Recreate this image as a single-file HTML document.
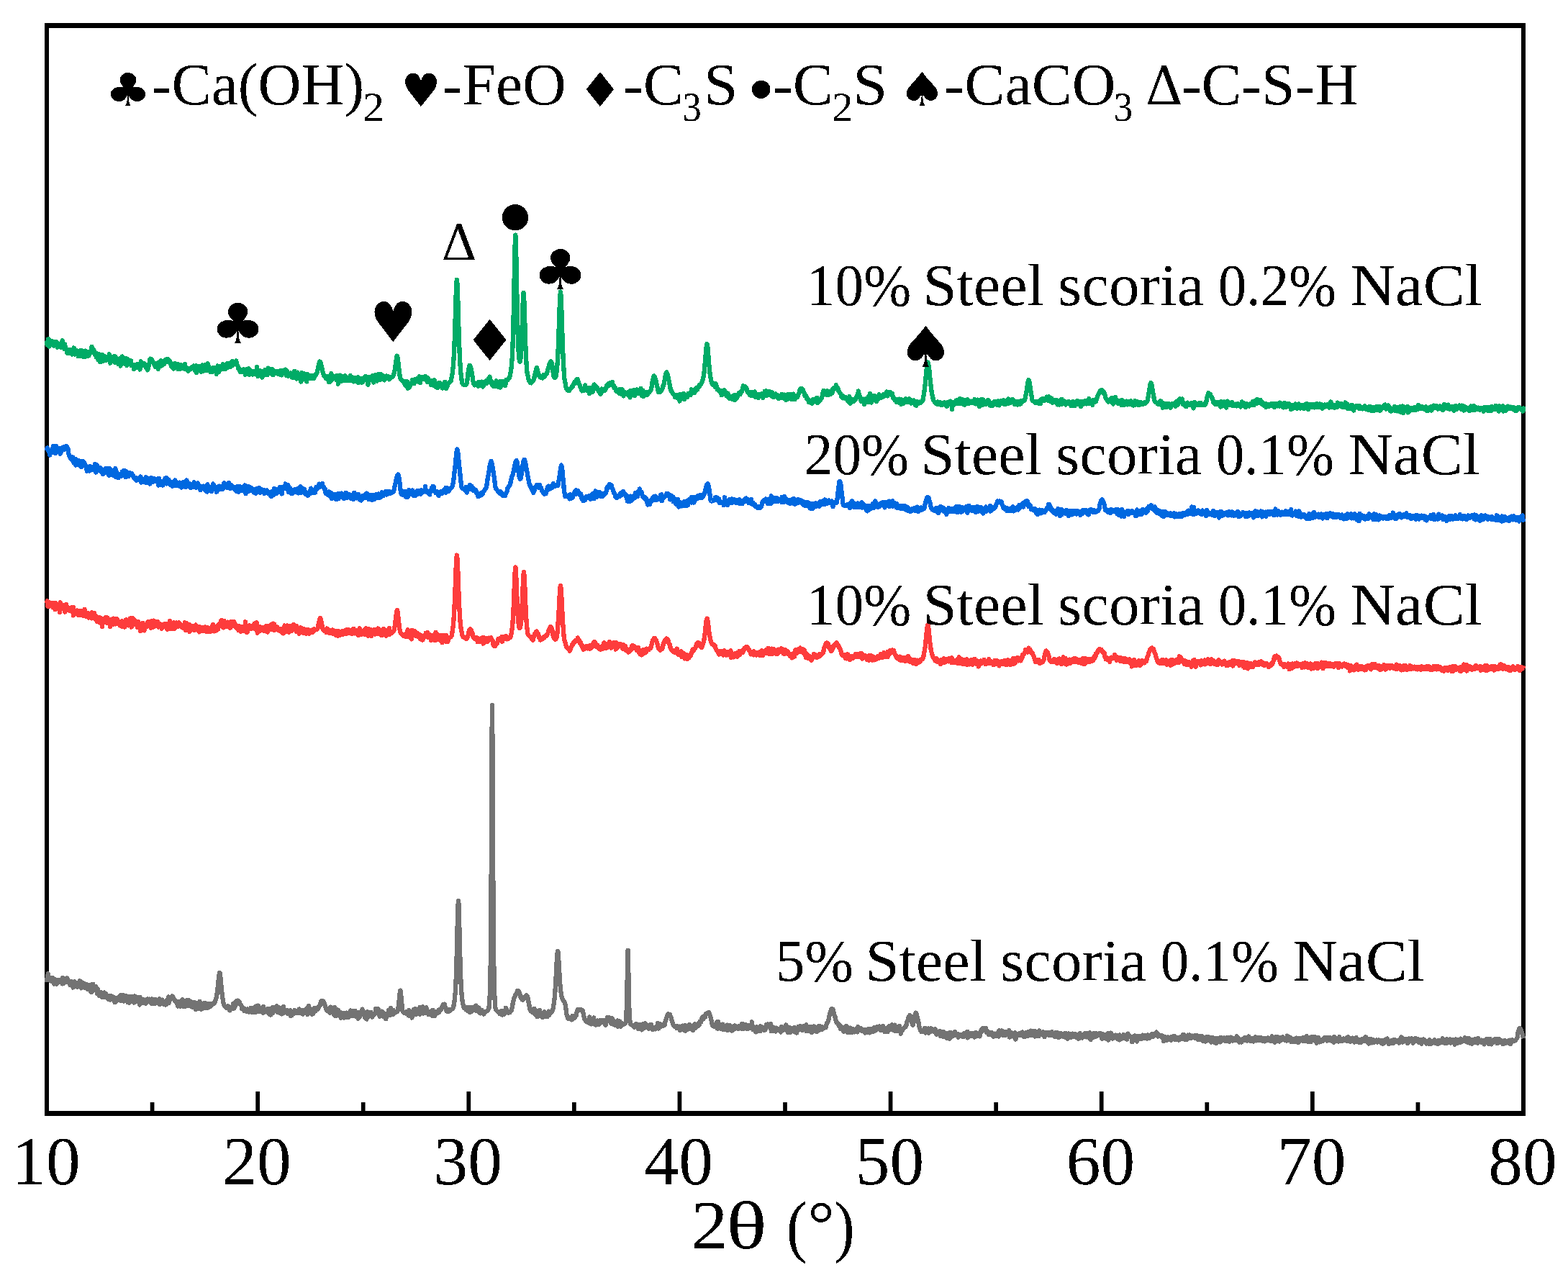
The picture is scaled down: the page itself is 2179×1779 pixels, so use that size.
<!DOCTYPE html>
<html lang="en">
<head>
<meta charset="utf-8">
<title>XRD patterns</title>
<style>html,body{margin:0;padding:0;background:#fff;}body{width:2179px;height:1779px;overflow:hidden;}svg{display:block}</style>
</head>
<body>
<svg width="2179" height="1779" viewBox="0 0 2179 1779">
<rect x="0" y="0" width="2179" height="1779" fill="#ffffff"/>
<path d="M62 32H2120V1551H62Z M68 39V1544H2114V39Z" fill="#000" fill-rule="evenodd" shape-rendering="crispEdges"/>
<path d="M358.14 1545V1517 M651.29 1545V1517 M944.43 1545V1517 M1237.57 1545V1517 M1530.71 1545V1517 M1823.86 1545V1517 M211.57 1545V1532 M504.71 1545V1532 M797.86 1545V1532 M1091.00 1545V1532 M1384.14 1545V1532 M1677.29 1545V1532 M1970.43 1545V1532" stroke="#000" stroke-width="5.7" fill="none"/>
<g id="curves">
<path d="M65.0,1364.9 65.6,1359.4 66.2,1359.0 66.8,1353.2 67.4,1360.6 68.0,1360.0 68.6,1359.6 69.2,1362.2 69.8,1362.7 70.4,1358.8 71.0,1359.6 71.6,1360.9 72.2,1364.3 72.8,1364.2 73.4,1359.1 74.0,1359.8 74.6,1365.1 75.2,1367.5 75.8,1363.1 76.4,1361.4 77.0,1366.3 77.6,1362.5 78.2,1365.4 78.8,1367.7 79.4,1365.2 80.0,1363.7 80.6,1365.5 81.2,1361.7 81.8,1363.0 82.4,1361.9 83.0,1363.0 83.6,1362.2 83.6,1363.1 84.2,1362.5 84.8,1363.8 85.4,1363.8 86.0,1364.4 86.6,1367.4 87.2,1359.1 87.8,1367.0 88.4,1362.6 89.0,1359.8 89.6,1362.7 90.2,1363.3 90.8,1365.3 91.4,1360.9 92.0,1363.3 92.6,1363.0 93.2,1359.5 93.8,1360.4 94.0,1363.7 94.4,1364.1 95.0,1365.5 95.6,1365.3 96.2,1366.0 96.8,1366.3 97.4,1369.0 97.9,1365.3 98.0,1366.6 98.6,1367.7 99.2,1364.0 99.8,1369.6 100.4,1365.6 101.0,1367.0 101.6,1372.6 102.2,1364.8 102.8,1365.8 103.4,1371.7 104.0,1364.4 104.6,1366.3 105.2,1369.1 105.8,1369.0 106.4,1369.5 107.0,1369.0 107.6,1371.8 108.2,1371.1 108.8,1370.0 109.4,1366.6 110.0,1366.6 110.6,1363.3 111.2,1370.5 111.8,1363.7 112.4,1371.0 113.0,1373.4 113.6,1365.8 114.2,1366.8 114.7,1367.3 114.8,1370.5 115.4,1366.3 116.0,1368.3 116.6,1367.5 117.2,1368.5 117.8,1372.7 118.4,1367.4 119.0,1370.4 119.6,1371.4 120.2,1373.3 120.8,1368.4 121.4,1374.8 122.0,1373.5 122.6,1374.9 123.2,1373.2 123.8,1369.0 124.4,1371.7 125.0,1375.4 125.0,1373.4 125.6,1373.2 126.2,1377.9 126.8,1379.0 127.4,1373.1 128.0,1378.3 128.6,1367.8 129.2,1367.8 129.8,1375.5 130.4,1372.6 131.0,1374.9 131.5,1374.9 131.6,1373.5 132.2,1375.7 132.8,1374.7 133.4,1371.0 134.0,1375.8 134.6,1376.3 135.2,1381.1 135.8,1374.4 136.4,1377.9 137.0,1377.5 137.6,1378.9 138.2,1383.9 138.8,1381.3 139.4,1379.7 140.0,1381.7 140.5,1383.6 140.6,1379.2 141.2,1381.3 141.8,1386.1 142.4,1384.7 143.0,1382.7 143.6,1381.8 144.2,1382.9 144.8,1379.5 145.4,1386.3 146.0,1385.0 146.6,1384.7 147.2,1381.2 147.8,1383.1 148.4,1386.6 149.0,1386.2 149.6,1384.5 150.2,1387.5 150.8,1388.9 151.4,1384.9 152.0,1385.5 152.2,1384.7 152.6,1384.1 153.2,1389.5 153.8,1388.8 154.4,1388.5 155.0,1384.4 155.6,1384.8 156.2,1387.5 156.8,1386.6 157.4,1388.1 158.0,1385.9 158.6,1389.7 159.2,1392.9 159.8,1392.3 160.4,1392.6 161.0,1388.5 161.2,1391.0 161.6,1387.5 162.2,1391.1 162.8,1387.6 163.4,1387.2 164.0,1386.7 164.6,1390.3 165.2,1389.0 165.8,1388.5 166.4,1384.7 167.0,1388.0 167.6,1383.5 168.2,1391.3 168.8,1386.8 169.4,1387.6 170.0,1386.8 170.6,1382.8 171.2,1383.4 171.8,1387.2 172.4,1391.5 173.0,1384.6 173.6,1386.0 174.2,1388.0 174.8,1383.8 175.4,1383.9 176.0,1387.6 176.6,1388.8 177.2,1388.0 177.8,1393.3 178.4,1388.7 179.0,1390.2 179.4,1393.5 179.6,1393.7 180.2,1384.7 180.8,1388.0 181.4,1392.2 182.0,1385.3 182.6,1386.5 183.2,1385.5 183.8,1385.4 184.4,1386.1 185.0,1389.7 185.6,1392.7 186.2,1393.6 186.8,1389.6 187.4,1384.4 188.0,1389.7 188.6,1389.2 189.2,1391.3 189.8,1390.2 190.4,1385.9 191.0,1392.2 191.6,1385.7 192.2,1389.7 192.8,1392.6 193.4,1392.9 194.0,1396.4 194.6,1385.8 195.2,1393.2 195.8,1394.2 196.4,1391.4 197.0,1394.0 197.6,1389.2 198.2,1393.8 198.8,1393.4 199.4,1389.1 200.0,1389.9 200.0,1391.0 200.6,1389.6 201.2,1394.2 201.8,1391.7 202.4,1394.8 203.0,1394.3 203.6,1391.3 204.2,1390.6 204.8,1388.5 205.4,1388.9 206.0,1388.9 206.6,1392.0 207.2,1388.6 207.8,1391.2 208.4,1391.4 209.0,1389.5 209.6,1390.3 210.2,1394.6 210.8,1395.0 211.4,1388.4 212.0,1389.9 212.6,1389.4 213.2,1389.6 213.8,1394.4 214.4,1392.0 215.0,1393.5 215.6,1394.8 215.6,1388.9 216.2,1389.6 216.8,1390.3 217.4,1393.0 218.0,1390.3 218.6,1392.5 219.2,1394.2 219.8,1394.5 220.4,1393.0 221.0,1390.1 221.6,1388.5 222.2,1395.9 222.8,1394.5 223.4,1391.1 224.0,1392.4 224.6,1392.7 225.2,1389.6 225.8,1394.6 225.9,1391.8 226.4,1393.0 227.0,1395.5 227.6,1393.0 228.2,1394.4 228.8,1393.8 229.4,1392.5 230.0,1392.2 230.6,1396.6 231.2,1391.2 231.8,1395.2 232.4,1389.4 233.0,1392.7 233.6,1391.4 233.7,1389.6 234.2,1385.6 234.8,1394.0 235.4,1388.1 236.0,1388.0 236.6,1389.6 237.2,1388.7 237.8,1388.2 238.4,1386.7 239.0,1384.5 239.6,1387.1 240.1,1384.7 240.2,1386.1 240.8,1387.0 241.4,1388.8 242.0,1388.6 242.6,1390.1 243.2,1391.5 243.8,1390.3 244.4,1392.5 245.0,1392.9 245.6,1393.3 246.2,1395.4 246.6,1394.9 246.8,1397.7 247.4,1398.4 248.0,1391.9 248.6,1396.2 249.2,1393.7 249.8,1397.5 250.4,1396.7 251.0,1398.7 251.6,1397.0 252.2,1398.1 252.8,1395.2 253.4,1389.2 254.0,1392.5 254.4,1393.2 254.6,1394.0 255.2,1392.4 255.8,1399.2 256.4,1394.1 257.0,1397.8 257.6,1393.3 258.2,1398.4 258.8,1390.7 259.4,1395.5 260.0,1390.4 260.6,1395.1 261.2,1398.3 261.8,1389.8 262.4,1392.1 263.0,1395.2 263.6,1394.3 264.2,1391.4 264.8,1398.3 265.4,1395.6 266.0,1399.1 266.6,1396.7 267.2,1393.0 267.8,1395.0 268.4,1400.1 269.0,1392.9 269.6,1395.5 269.9,1398.4 270.2,1399.7 270.8,1399.3 271.4,1393.4 272.0,1403.1 272.6,1397.3 273.2,1397.9 273.8,1398.0 274.4,1397.5 275.0,1395.6 275.6,1397.4 276.2,1401.8 276.8,1394.6 277.4,1391.7 278.0,1399.6 278.6,1399.1 279.2,1400.1 279.8,1402.7 280.4,1396.2 281.0,1398.6 281.6,1399.5 282.2,1401.4 282.8,1400.9 282.8,1396.0 283.4,1394.6 284.0,1397.4 284.6,1393.8 285.2,1400.8 285.8,1396.7 286.4,1396.6 287.0,1395.0 287.6,1401.1 288.2,1397.6 288.8,1395.5 289.4,1398.0 290.0,1396.0 290.6,1397.6 291.2,1399.4 291.8,1395.1 292.4,1397.0 293.0,1396.8 293.6,1398.0 294.2,1396.5 294.8,1395.5 295.4,1394.7 295.8,1395.5 296.0,1394.5 296.6,1395.1 297.2,1394.5 297.8,1394.0 298.4,1393.0 299.0,1391.5 299.6,1389.6 300.2,1388.0 300.8,1385.5 301.4,1382.4 302.0,1378.0 302.6,1373.1 303.2,1366.6 303.8,1360.9 304.4,1355.3 305.0,1352.2 305.3,1351.8 305.6,1352.4 306.2,1356.3 306.8,1362.2 307.4,1369.2 308.0,1376.0 308.6,1381.6 309.2,1386.0 309.8,1389.7 310.4,1393.8 311.0,1396.4 311.6,1397.4 312.2,1398.1 312.8,1398.9 313.4,1399.3 314.0,1400.0 314.6,1400.1 315.2,1401.1 315.8,1398.9 316.4,1398.4 317.0,1401.7 317.6,1400.6 318.2,1398.8 318.8,1403.2 319.0,1403.9 319.4,1404.4 320.0,1400.0 320.6,1400.8 321.2,1401.2 321.8,1400.5 322.4,1402.1 323.0,1398.9 323.6,1400.2 324.2,1395.1 324.8,1400.2 325.4,1401.5 326.0,1397.9 326.6,1399.1 327.2,1393.3 327.8,1394.7 328.4,1391.5 329.0,1394.0 329.6,1393.5 330.2,1390.6 330.8,1390.9 331.4,1391.1 331.5,1394.9 332.0,1391.9 332.6,1392.7 333.2,1394.0 333.8,1395.4 334.4,1396.5 335.0,1396.7 335.6,1398.7 336.2,1402.4 336.8,1401.5 337.4,1401.4 338.0,1400.7 338.6,1402.8 339.2,1403.2 339.7,1402.4 339.8,1405.1 340.4,1402.2 341.0,1403.1 341.6,1405.4 342.2,1404.0 342.8,1406.3 343.4,1402.9 344.0,1402.3 344.6,1404.7 345.2,1404.0 345.8,1406.6 346.4,1404.5 347.0,1403.4 347.6,1404.7 348.2,1405.3 348.8,1400.7 349.4,1403.3 350.0,1402.9 350.6,1407.0 351.2,1402.6 351.8,1406.7 352.4,1400.6 353.0,1403.8 353.6,1406.7 354.2,1403.2 354.8,1407.0 355.4,1398.6 356.0,1404.0 356.6,1404.3 357.2,1403.5 357.8,1399.8 358.4,1405.5 359.0,1397.6 359.6,1406.2 360.2,1404.4 360.4,1406.2 360.8,1402.9 361.4,1400.6 362.0,1402.2 362.6,1402.4 363.2,1405.2 363.8,1402.9 364.4,1405.0 365.0,1405.3 365.6,1407.8 366.2,1399.1 366.8,1403.4 367.4,1406.3 368.0,1406.5 368.6,1403.3 369.2,1404.2 369.8,1404.8 370.4,1405.4 371.0,1403.7 371.6,1403.5 372.2,1402.2 372.8,1404.1 373.4,1408.7 374.0,1402.5 374.6,1407.4 375.2,1409.8 375.8,1405.1 376.0,1410.5 376.4,1403.8 377.0,1408.3 377.6,1403.6 378.2,1400.3 378.8,1404.1 379.4,1407.8 380.0,1401.1 380.6,1403.7 381.2,1399.7 381.8,1399.8 382.4,1403.0 383.0,1401.2 383.6,1403.1 384.2,1404.8 384.8,1398.4 385.4,1399.6 386.0,1401.5 386.3,1407.3 386.6,1400.6 387.2,1400.4 387.8,1402.9 388.4,1407.5 389.0,1401.0 389.6,1402.0 390.2,1403.3 390.8,1405.5 391.4,1409.5 392.0,1401.1 392.6,1400.3 393.2,1405.1 393.8,1406.2 394.1,1399.3 394.4,1403.4 395.0,1407.5 395.6,1403.7 396.2,1406.4 396.8,1405.6 397.4,1407.0 398.0,1406.5 398.6,1406.1 399.2,1408.8 399.8,1404.3 400.4,1406.2 401.0,1409.0 401.6,1404.7 402.2,1405.4 402.8,1404.5 403.4,1404.1 404.0,1412.0 404.6,1408.0 405.2,1411.7 405.8,1408.7 406.4,1407.0 407.0,1406.0 407.6,1407.3 408.2,1406.5 408.8,1408.9 409.4,1404.1 410.0,1406.8 410.6,1407.5 411.2,1405.6 411.8,1405.6 412.2,1407.6 412.4,1407.7 413.0,1406.0 413.6,1406.3 414.2,1404.9 414.8,1407.8 415.4,1406.1 416.0,1402.3 416.6,1405.6 417.2,1407.9 417.8,1407.0 418.4,1403.9 419.0,1407.9 419.6,1407.5 420.2,1407.3 420.8,1409.5 421.4,1404.5 422.0,1406.8 422.6,1404.4 423.2,1407.5 423.8,1407.8 424.4,1405.9 425.0,1406.5 425.6,1402.4 426.2,1406.0 426.8,1401.3 427.4,1410.0 428.0,1407.4 428.6,1400.6 429.2,1397.8 429.8,1408.2 430.4,1402.8 431.0,1406.6 431.6,1402.0 432.2,1405.7 432.8,1404.0 432.9,1407.3 433.4,1405.0 434.0,1409.6 434.6,1403.8 435.2,1408.8 435.8,1405.3 436.4,1406.4 437.0,1401.3 437.6,1401.4 438.2,1405.7 438.8,1402.5 439.4,1403.3 440.0,1403.1 440.6,1402.1 440.6,1403.4 441.2,1401.1 441.8,1400.6 442.4,1402.0 443.0,1398.5 443.6,1398.7 444.2,1397.4 444.8,1397.4 445.4,1395.1 446.0,1391.4 446.6,1392.0 447.2,1391.7 447.8,1392.6 448.4,1391.6 448.4,1390.9 449.0,1391.8 449.6,1391.8 450.2,1393.5 450.8,1394.4 451.4,1396.6 452.0,1397.8 452.6,1400.7 453.2,1402.2 453.8,1404.0 454.4,1404.1 455.0,1405.3 455.6,1405.4 456.2,1405.2 456.2,1405.0 456.8,1405.2 457.4,1405.8 458.0,1401.3 458.6,1407.9 459.2,1399.6 459.8,1404.6 460.4,1404.2 461.0,1406.9 461.6,1405.6 462.2,1404.8 462.8,1405.1 463.4,1407.2 464.0,1410.4 464.6,1405.7 465.2,1400.2 465.8,1403.9 466.4,1405.7 466.5,1412.1 467.0,1403.1 467.6,1404.3 468.2,1406.6 468.8,1406.6 469.4,1403.6 470.0,1409.1 470.6,1404.8 471.2,1407.7 471.8,1411.8 472.4,1406.8 473.0,1409.7 473.6,1414.7 474.2,1410.8 474.3,1409.3 474.8,1410.4 475.4,1413.5 476.0,1408.2 476.6,1410.2 477.2,1408.3 477.8,1408.6 478.4,1414.6 479.0,1411.0 479.6,1410.0 480.2,1412.0 480.8,1409.0 481.4,1407.7 482.0,1413.6 482.6,1412.8 483.2,1408.3 483.8,1412.1 484.4,1413.9 485.0,1411.2 485.6,1411.1 486.2,1406.5 486.8,1409.1 487.4,1404.5 488.0,1412.0 488.6,1408.6 489.2,1412.3 489.8,1406.9 489.8,1411.1 490.4,1404.8 491.0,1407.9 491.6,1410.3 492.2,1409.9 492.8,1408.9 493.4,1404.8 494.0,1412.5 494.6,1410.8 495.2,1412.0 495.8,1412.0 496.4,1408.1 497.0,1410.1 497.6,1415.9 498.2,1406.9 498.8,1410.1 499.4,1407.7 500.0,1413.6 500.6,1409.6 501.2,1406.6 501.8,1407.8 502.4,1405.8 503.0,1403.6 503.6,1402.6 504.2,1407.8 504.8,1406.9 505.4,1410.3 506.0,1407.9 506.6,1410.8 507.2,1414.8 507.8,1407.3 508.4,1407.3 509.0,1413.0 509.6,1416.6 510.2,1408.4 510.8,1406.3 511.4,1410.0 512.0,1409.7 512.6,1412.6 513.2,1408.1 513.8,1410.2 514.4,1410.0 515.0,1406.9 515.6,1406.8 515.7,1411.6 516.2,1411.7 516.8,1408.2 517.4,1413.6 518.0,1411.7 518.6,1410.2 519.2,1410.2 519.8,1409.2 520.4,1409.7 521.0,1409.7 521.6,1407.4 522.2,1402.0 522.8,1406.4 523.4,1404.6 524.0,1403.6 524.6,1407.8 525.2,1402.0 525.8,1408.4 526.0,1404.9 526.4,1403.6 527.0,1404.6 527.6,1412.7 528.2,1410.8 528.8,1406.5 529.4,1410.1 530.0,1412.1 530.6,1405.6 531.2,1407.3 531.8,1410.6 532.4,1409.5 533.0,1407.8 533.6,1413.1 534.2,1410.4 534.8,1411.3 535.4,1415.4 536.0,1410.6 536.4,1416.1 536.6,1410.0 537.2,1408.7 537.8,1409.3 538.4,1411.0 539.0,1410.2 539.6,1409.3 540.2,1404.3 540.8,1405.1 541.4,1407.0 542.0,1409.4 542.6,1411.1 543.2,1401.1 543.8,1406.8 544.4,1405.9 545.0,1406.8 545.6,1407.6 546.2,1404.9 546.7,1403.8 546.8,1409.6 547.4,1408.5 548.0,1406.9 548.6,1407.1 549.2,1406.9 549.8,1406.8 550.4,1407.0 551.0,1406.6 551.6,1406.2 552.2,1405.6 552.8,1404.4 553.4,1400.7 554.0,1396.5 554.6,1391.0 555.2,1384.4 555.8,1378.7 556.3,1376.6 556.4,1376.8 557.0,1380.4 557.6,1387.3 558.2,1393.9 558.8,1398.8 559.4,1404.4 560.0,1406.1 560.6,1406.7 561.2,1407.6 561.8,1407.9 562.4,1408.2 563.0,1408.3 563.6,1408.5 564.2,1408.4 564.8,1406.2 565.4,1407.4 566.0,1409.3 566.6,1409.1 567.2,1410.9 567.8,1409.2 568.4,1403.9 569.0,1411.6 569.6,1407.8 570.2,1406.5 570.8,1409.1 571.4,1406.5 571.4,1410.8 572.0,1407.6 572.6,1414.5 573.2,1408.9 573.8,1407.9 574.4,1407.4 575.0,1403.4 575.6,1406.3 576.2,1406.3 576.8,1407.0 577.4,1402.0 578.0,1407.3 578.6,1410.0 579.2,1405.4 579.8,1406.0 580.4,1406.8 581.0,1403.4 581.6,1404.0 582.2,1407.2 582.8,1405.0 583.4,1401.3 583.6,1399.8 584.0,1409.8 584.6,1405.1 585.2,1399.9 585.8,1404.3 586.4,1405.6 587.0,1404.2 587.6,1399.3 588.2,1408.7 588.8,1405.8 589.4,1403.9 590.0,1406.3 590.6,1404.2 591.2,1404.1 591.8,1407.4 592.4,1400.3 593.0,1408.0 593.6,1406.7 594.2,1407.8 594.8,1408.4 595.4,1410.2 596.0,1410.2 596.6,1409.0 597.2,1406.1 597.8,1409.1 598.4,1406.5 599.0,1405.6 599.6,1409.4 600.2,1409.4 600.8,1411.7 601.4,1403.7 602.0,1410.4 602.6,1410.5 603.2,1409.4 603.8,1412.3 604.4,1407.4 604.9,1409.8 605.0,1408.3 605.6,1408.8 606.2,1406.3 606.8,1407.4 607.4,1408.3 608.0,1406.6 608.6,1406.4 609.2,1404.2 609.8,1407.3 610.4,1403.3 611.0,1403.8 611.6,1404.1 612.2,1402.4 612.8,1403.1 613.4,1401.3 614.0,1401.3 614.6,1399.0 615.2,1397.8 615.8,1396.0 616.4,1396.6 617.0,1396.9 617.1,1396.4 617.6,1395.6 618.2,1397.5 618.8,1400.0 619.4,1402.2 620.0,1402.0 620.6,1405.6 621.2,1404.5 621.7,1404.8 621.8,1404.3 622.4,1404.6 623.0,1406.2 623.6,1403.5 624.2,1403.8 624.8,1403.0 625.4,1403.7 626.0,1404.4 626.6,1403.4 627.2,1403.2 627.8,1402.8 628.4,1402.5 629.0,1402.0 629.6,1401.1 630.2,1399.3 630.8,1395.7 631.4,1392.1 632.0,1387.4 632.6,1380.7 633.2,1371.1 633.8,1357.7 634.4,1339.4 635.0,1316.2 635.6,1290.0 636.2,1266.3 636.8,1253.0 637.0,1252.0 637.4,1255.7 638.0,1273.2 638.6,1298.5 639.2,1324.1 639.8,1345.6 640.4,1362.1 641.0,1374.0 641.6,1382.3 642.2,1388.2 642.8,1392.3 643.4,1395.7 644.0,1398.7 644.6,1400.3 645.2,1400.9 645.8,1401.4 646.4,1401.8 647.0,1401.8 647.6,1402.6 647.7,1403.2 648.2,1401.0 648.8,1400.1 649.4,1401.7 650.0,1404.9 650.6,1404.3 651.2,1401.1 651.8,1400.4 652.4,1401.3 653.0,1407.1 653.6,1400.4 654.2,1401.2 654.8,1404.8 655.3,1401.7 655.4,1399.8 656.0,1405.6 656.6,1402.8 657.2,1400.3 657.8,1401.0 658.4,1404.2 659.0,1401.0 659.6,1402.5 660.2,1404.1 660.8,1404.4 661.4,1397.6 662.0,1401.0 662.6,1401.5 663.2,1402.6 663.8,1404.4 664.4,1405.6 665.0,1401.9 665.6,1400.6 666.2,1404.0 666.8,1402.4 667.4,1408.4 668.0,1405.5 668.6,1405.1 669.2,1407.7 669.8,1404.1 670.4,1405.2 671.0,1405.9 671.6,1408.0 672.1,1409.6 672.2,1408.4 672.8,1408.3 673.4,1406.1 674.0,1406.9 674.6,1406.0 675.2,1406.0 675.8,1405.6 676.4,1405.3 677.0,1404.9 677.6,1404.3 678.2,1403.7 678.8,1402.7 679.4,1401.1 680.0,1395.5 680.6,1385.8 681.2,1368.2 681.8,1333.8 682.4,1266.5 683.0,1150.2 683.6,1016.9 684.0,980.0 684.2,989.7 684.8,1103.0 685.4,1233.5 686.0,1316.2 686.6,1359.5 687.2,1381.4 687.8,1392.8 688.4,1400.7 689.0,1402.7 689.6,1403.9 690.2,1404.7 690.8,1405.3 691.4,1405.8 691.9,1406.1 692.0,1406.1 692.6,1406.3 693.2,1406.9 693.8,1407.1 694.4,1409.2 695.0,1407.6 695.6,1405.5 696.2,1409.7 696.8,1406.2 697.4,1407.8 698.0,1410.6 698.6,1410.1 699.2,1405.1 699.8,1406.5 700.4,1409.9 701.0,1408.9 701.6,1407.7 702.2,1408.4 702.8,1400.8 703.4,1405.3 704.0,1402.3 704.6,1404.2 705.2,1404.9 705.8,1406.7 706.4,1407.7 707.0,1407.0 707.6,1406.7 708.2,1406.5 708.7,1407.1 708.8,1406.7 709.4,1405.7 710.0,1405.6 710.6,1404.7 711.2,1402.6 711.8,1399.2 712.4,1396.2 713.0,1392.8 713.6,1390.4 714.2,1388.2 714.8,1386.2 714.8,1386.3 715.4,1384.8 716.0,1383.7 716.6,1382.1 717.2,1381.7 717.8,1379.9 718.4,1379.8 719.0,1377.2 719.6,1377.7 720.2,1377.9 720.3,1378.0 720.8,1377.2 721.4,1378.7 722.0,1380.5 722.6,1382.1 723.2,1384.1 723.8,1386.9 724.4,1387.0 725.0,1387.6 725.5,1389.0 725.6,1389.6 726.2,1387.2 726.8,1389.8 727.4,1388.1 728.0,1387.7 728.6,1385.4 729.2,1385.4 729.8,1385.7 730.4,1384.9 731.0,1383.8 731.6,1383.3 731.6,1383.3 732.2,1384.4 732.8,1385.0 733.4,1387.0 734.0,1389.8 734.6,1393.0 735.2,1395.3 735.8,1399.3 736.4,1402.9 737.0,1404.3 737.6,1404.9 737.7,1405.4 738.2,1405.6 738.8,1405.2 739.4,1406.7 740.0,1406.7 740.6,1406.9 741.2,1406.2 741.8,1406.3 742.4,1401.8 743.0,1407.5 743.6,1409.9 744.2,1410.4 744.8,1407.8 745.3,1404.3 745.4,1407.3 746.0,1409.3 746.6,1413.1 747.2,1406.7 747.8,1410.6 748.4,1412.1 749.0,1412.2 749.6,1410.5 750.2,1404.0 750.8,1412.2 751.4,1411.0 752.0,1411.9 752.6,1408.2 753.2,1409.3 753.8,1414.0 754.4,1410.1 755.0,1410.2 755.6,1408.5 756.2,1413.2 756.8,1406.1 757.4,1408.8 758.0,1411.1 758.6,1409.9 759.2,1412.1 759.8,1411.0 760.4,1413.3 761.0,1409.2 761.6,1409.3 762.2,1410.0 762.8,1405.6 763.4,1411.1 763.7,1407.5 764.0,1408.3 764.6,1408.2 765.2,1407.6 765.8,1407.1 766.4,1406.5 767.0,1405.8 767.6,1405.2 768.2,1403.9 768.8,1400.6 769.4,1396.7 770.0,1392.8 770.6,1387.6 771.2,1380.9 771.8,1372.4 772.4,1362.1 773.0,1350.2 773.6,1338.2 774.2,1328.2 774.8,1322.6 775.0,1322.0 775.4,1322.9 776.0,1329.0 776.6,1338.6 777.2,1349.5 777.8,1359.6 778.4,1368.1 779.0,1374.9 779.6,1379.9 780.2,1383.6 780.8,1386.2 781.4,1388.2 782.0,1389.5 782.6,1390.6 783.2,1391.3 783.8,1392.2 784.4,1392.7 784.4,1392.7 785.0,1393.7 785.6,1396.4 786.2,1400.0 786.8,1404.5 787.4,1409.4 788.0,1411.2 788.6,1413.3 789.2,1415.4 789.6,1415.8 789.8,1415.2 790.4,1415.8 791.0,1415.5 791.6,1415.3 792.2,1415.1 792.8,1414.2 793.4,1415.6 794.0,1413.7 794.6,1417.4 795.2,1416.0 795.8,1411.7 796.4,1414.6 797.0,1414.8 797.2,1415.0 797.6,1415.0 798.2,1415.0 798.8,1414.1 799.4,1412.7 800.0,1412.6 800.6,1411.4 801.2,1408.2 801.8,1406.3 802.4,1404.5 803.0,1403.1 803.3,1403.1 803.6,1403.3 804.2,1403.6 804.8,1403.4 805.4,1403.9 806.0,1404.1 806.6,1402.9 807.2,1402.8 807.8,1403.2 808.4,1403.5 808.8,1403.6 809.0,1403.6 809.6,1404.5 810.2,1405.8 810.8,1409.3 811.4,1412.8 812.0,1415.3 812.6,1416.9 813.2,1417.5 813.8,1418.3 814.0,1419.4 814.4,1418.4 815.0,1418.6 815.6,1418.4 816.2,1417.8 816.8,1420.8 817.4,1418.5 818.0,1418.6 818.6,1418.2 819.2,1413.5 819.8,1422.1 820.4,1419.0 821.0,1420.2 821.6,1423.5 822.2,1419.9 822.8,1420.5 823.4,1420.5 824.0,1423.0 824.6,1416.7 824.7,1418.5 825.2,1414.5 825.8,1419.8 826.4,1421.2 827.0,1418.6 827.6,1424.4 828.2,1422.0 828.8,1424.4 829.4,1420.1 830.0,1424.0 830.6,1418.5 831.2,1420.7 831.8,1420.0 832.4,1418.6 833.0,1423.6 833.6,1422.7 834.2,1417.9 834.8,1421.2 835.4,1419.7 836.0,1419.8 836.6,1420.9 837.2,1418.2 837.8,1419.8 838.4,1420.1 839.0,1417.9 839.6,1418.1 840.2,1421.3 840.8,1419.3 841.4,1424.8 842.0,1424.2 842.6,1417.3 843.2,1419.8 843.8,1414.2 844.4,1417.4 845.0,1416.8 845.6,1417.1 846.2,1413.9 846.8,1419.5 847.4,1419.2 848.0,1417.0 848.6,1418.7 849.1,1420.9 849.2,1422.5 849.8,1415.9 850.4,1422.7 851.0,1415.4 851.6,1417.7 852.2,1419.0 852.8,1423.7 853.4,1421.8 854.0,1422.1 854.6,1424.6 855.2,1421.9 855.8,1420.6 856.4,1425.2 857.0,1421.6 857.6,1419.4 858.2,1418.4 858.3,1422.7 858.8,1426.7 859.4,1424.3 860.0,1422.8 860.6,1425.7 861.2,1419.5 861.8,1424.1 862.4,1422.0 863.0,1426.6 863.6,1421.7 864.2,1424.7 864.8,1423.5 865.4,1423.5 866.0,1423.5 866.6,1423.5 867.2,1423.5 867.8,1423.3 868.4,1422.9 869.0,1422.2 869.6,1420.6 870.2,1413.5 870.8,1401.9 871.4,1378.5 872.0,1342.5 872.6,1320.8 872.6,1320.8 873.2,1342.6 873.8,1378.8 874.4,1402.3 875.0,1414.1 875.6,1421.4 876.2,1423.1 876.8,1423.9 877.4,1424.4 878.0,1424.7 878.6,1424.9 879.2,1425.1 879.8,1425.3 880.4,1425.6 881.0,1427.4 881.6,1426.3 882.2,1427.5 882.8,1427.0 883.4,1427.1 884.0,1422.7 884.6,1425.0 885.2,1424.7 885.8,1424.1 886.4,1425.6 887.0,1430.1 887.6,1428.2 888.2,1426.4 888.8,1427.1 889.4,1429.8 890.0,1423.8 890.6,1427.7 891.2,1430.8 891.8,1431.3 892.4,1429.3 893.0,1428.7 893.6,1423.2 894.2,1425.9 894.8,1427.5 895.4,1428.6 896.0,1428.7 896.6,1422.3 897.2,1426.4 897.8,1428.2 898.4,1425.7 899.0,1426.9 899.6,1428.5 900.2,1427.9 900.8,1427.5 901.0,1428.8 901.4,1429.6 902.0,1426.3 902.6,1424.6 903.2,1425.5 903.8,1426.1 904.4,1427.3 905.0,1424.0 905.6,1425.9 906.2,1427.2 906.8,1431.1 907.4,1429.3 908.0,1427.8 908.6,1430.2 909.2,1428.5 909.8,1428.6 910.4,1430.4 911.0,1428.5 911.6,1427.9 912.2,1429.0 912.8,1425.8 913.4,1426.9 914.0,1421.7 914.6,1425.3 915.2,1429.6 915.8,1425.0 916.4,1425.7 917.0,1424.5 917.6,1423.0 918.2,1426.3 918.8,1425.1 919.4,1426.5 920.0,1424.4 920.6,1425.0 921.2,1424.5 921.8,1424.2 922.4,1425.3 922.4,1423.9 923.0,1423.4 923.6,1424.9 924.2,1421.1 924.8,1418.7 925.4,1417.3 926.0,1414.5 926.6,1413.9 927.2,1411.2 927.8,1410.5 928.4,1409.4 929.0,1410.3 929.4,1409.7 929.6,1410.4 930.2,1410.7 930.8,1410.0 931.4,1411.9 932.0,1412.7 932.6,1414.1 933.2,1417.0 933.8,1418.9 934.4,1420.7 935.0,1423.3 935.6,1424.7 936.2,1425.5 936.8,1426.1 937.4,1425.6 937.6,1426.7 938.0,1426.1 938.6,1425.9 939.2,1426.8 939.8,1427.6 940.4,1429.0 941.0,1428.4 941.6,1428.4 942.2,1426.3 942.8,1428.9 943.4,1428.5 944.0,1428.8 944.6,1426.5 945.2,1432.1 945.8,1430.0 946.4,1429.9 947.0,1428.7 947.6,1427.9 948.2,1430.7 948.8,1425.6 949.4,1427.7 950.0,1428.1 950.6,1430.1 951.2,1428.2 951.8,1432.2 952.4,1425.0 952.9,1432.6 953.0,1429.8 953.6,1431.2 954.2,1427.9 954.8,1431.4 955.4,1428.2 956.0,1429.4 956.6,1425.3 957.2,1429.8 957.8,1428.7 958.4,1423.9 959.0,1427.9 959.6,1427.3 960.2,1429.8 960.8,1426.3 961.4,1428.2 962.0,1430.7 962.6,1425.7 963.2,1431.9 963.8,1428.1 964.4,1427.0 965.0,1424.4 965.6,1423.4 966.2,1428.9 966.8,1425.9 967.4,1425.5 968.0,1427.5 968.1,1427.0 968.6,1426.0 969.2,1423.7 969.8,1422.7 970.4,1425.9 971.0,1423.8 971.6,1422.5 972.2,1424.0 972.8,1419.6 973.4,1419.3 974.0,1420.7 974.6,1417.9 975.2,1415.6 975.8,1414.6 975.8,1417.3 976.4,1413.4 977.0,1415.5 977.6,1416.2 978.2,1412.9 978.8,1413.9 979.4,1411.9 980.0,1413.8 980.6,1411.0 981.2,1408.6 981.8,1409.8 982.4,1409.0 983.0,1408.0 983.6,1408.0 984.2,1407.3 984.8,1407.5 984.9,1408.2 985.4,1407.3 986.0,1409.3 986.6,1410.8 987.2,1412.5 987.8,1415.8 988.4,1417.9 989.0,1420.2 989.6,1423.6 990.2,1425.4 990.8,1424.9 991.0,1425.8 991.4,1425.6 992.0,1426.0 992.6,1426.9 993.2,1425.8 993.8,1425.9 994.4,1424.2 995.0,1426.4 995.6,1427.4 996.2,1420.5 996.8,1429.5 997.4,1429.8 998.0,1420.1 998.6,1422.8 999.2,1427.4 999.8,1426.6 1000.4,1429.2 1001.0,1426.0 1001.6,1429.7 1002.2,1423.8 1002.8,1428.0 1003.4,1426.3 1004.0,1426.4 1004.6,1423.6 1005.2,1427.0 1005.8,1431.2 1006.4,1426.8 1007.0,1427.9 1007.6,1428.9 1008.2,1426.5 1008.8,1429.3 1009.4,1430.0 1010.0,1428.2 1010.6,1424.5 1011.2,1432.2 1011.8,1428.8 1012.4,1428.6 1013.0,1428.2 1013.6,1427.3 1014.2,1424.8 1014.8,1428.6 1015.4,1429.0 1016.0,1431.0 1016.6,1432.5 1017.2,1427.1 1017.8,1432.4 1018.4,1428.9 1019.0,1430.1 1019.6,1426.3 1020.0,1429.4 1020.2,1426.4 1020.8,1430.0 1021.4,1425.5 1022.0,1428.4 1022.6,1427.3 1023.2,1429.0 1023.8,1428.7 1024.4,1428.4 1025.0,1426.9 1025.6,1429.9 1026.2,1429.2 1026.8,1426.1 1027.4,1429.6 1028.0,1426.4 1028.6,1428.0 1029.2,1427.5 1029.8,1427.4 1030.4,1429.4 1031.0,1423.4 1031.6,1430.3 1032.2,1423.3 1032.8,1430.0 1033.4,1428.3 1034.0,1423.6 1034.6,1427.7 1035.2,1426.0 1035.8,1424.0 1036.4,1429.4 1037.0,1429.1 1037.6,1427.4 1038.2,1430.3 1038.8,1426.9 1039.4,1425.9 1040.0,1429.5 1040.6,1425.0 1041.2,1428.4 1041.4,1429.2 1041.8,1427.3 1042.4,1427.3 1043.0,1428.3 1043.6,1428.1 1044.2,1426.3 1044.8,1420.4 1045.4,1427.4 1046.0,1425.6 1046.6,1431.2 1047.2,1428.3 1047.8,1430.0 1048.4,1431.3 1049.0,1432.0 1049.6,1427.8 1050.2,1434.4 1050.6,1431.6 1050.8,1430.8 1051.4,1427.3 1052.0,1433.6 1052.6,1430.5 1053.2,1431.4 1053.8,1428.1 1054.4,1433.1 1055.0,1432.1 1055.6,1428.5 1056.2,1433.3 1056.8,1426.4 1057.4,1430.8 1058.0,1430.4 1058.6,1430.5 1059.2,1427.4 1059.8,1428.2 1060.4,1431.2 1061.0,1431.4 1061.6,1428.8 1062.2,1428.2 1062.8,1427.6 1063.4,1431.6 1064.0,1428.1 1064.6,1427.1 1065.2,1423.9 1065.8,1424.1 1066.4,1425.5 1067.0,1423.5 1067.6,1426.9 1068.2,1427.0 1068.8,1425.5 1068.9,1426.8 1069.4,1427.5 1070.0,1424.2 1070.6,1429.8 1071.2,1422.9 1071.8,1433.3 1072.4,1426.6 1073.0,1430.2 1073.6,1429.9 1074.2,1431.8 1074.8,1429.7 1075.4,1432.6 1075.9,1428.3 1076.0,1433.1 1076.6,1430.9 1077.2,1432.2 1077.8,1433.5 1078.4,1428.6 1079.0,1429.7 1079.6,1429.2 1080.2,1430.5 1080.8,1430.9 1081.4,1432.0 1082.0,1430.8 1082.6,1429.9 1083.2,1431.3 1083.8,1432.3 1084.4,1432.1 1085.0,1434.5 1085.6,1428.4 1086.2,1430.3 1086.2,1426.7 1086.8,1428.0 1087.4,1430.8 1088.0,1432.1 1088.6,1428.1 1089.2,1430.2 1089.8,1429.3 1090.4,1430.2 1091.0,1429.6 1091.6,1428.2 1092.2,1424.4 1092.8,1426.2 1093.4,1430.6 1094.0,1429.7 1094.6,1434.8 1095.2,1430.5 1095.8,1432.6 1096.4,1428.1 1097.0,1427.8 1097.6,1431.5 1098.2,1434.9 1098.8,1432.2 1099.4,1430.7 1100.0,1432.4 1100.6,1432.9 1101.2,1432.6 1101.7,1431.6 1101.8,1429.2 1102.4,1429.0 1103.0,1430.3 1103.6,1431.0 1104.2,1428.2 1104.8,1434.5 1105.4,1432.1 1106.0,1429.4 1106.6,1432.1 1107.2,1435.6 1107.8,1430.6 1108.4,1430.5 1109.0,1432.1 1109.6,1426.8 1110.2,1428.4 1110.8,1427.9 1111.4,1431.2 1112.0,1425.8 1112.6,1430.1 1113.2,1428.3 1113.8,1428.6 1114.4,1428.0 1115.0,1432.3 1115.6,1427.1 1116.2,1426.3 1116.8,1429.5 1117.3,1427.5 1117.4,1429.8 1118.0,1428.5 1118.6,1428.7 1119.2,1428.8 1119.8,1425.1 1120.4,1424.5 1121.0,1433.4 1121.6,1426.6 1122.2,1430.5 1122.8,1427.1 1123.4,1429.5 1124.0,1429.3 1124.6,1433.2 1125.2,1429.7 1125.8,1426.9 1126.4,1427.3 1127.0,1431.1 1127.6,1432.3 1127.6,1434.8 1128.2,1435.1 1128.8,1427.4 1129.4,1430.3 1130.0,1427.9 1130.6,1431.2 1131.2,1432.4 1131.8,1426.5 1132.4,1432.5 1133.0,1432.2 1133.6,1430.0 1134.2,1429.2 1134.8,1434.1 1135.4,1430.0 1136.0,1427.9 1136.6,1430.5 1137.2,1432.5 1137.8,1431.6 1138.4,1425.7 1139.0,1426.9 1139.6,1428.9 1140.2,1430.1 1140.8,1429.9 1141.4,1426.9 1142.0,1431.3 1142.6,1430.2 1143.1,1427.4 1143.2,1428.6 1143.8,1429.4 1144.4,1427.8 1145.0,1429.0 1145.6,1428.8 1146.2,1427.9 1146.8,1428.2 1147.4,1428.2 1148.0,1424.9 1148.6,1423.8 1149.2,1421.6 1149.8,1421.4 1150.4,1420.0 1150.9,1418.3 1151.0,1417.7 1151.6,1416.8 1152.2,1414.0 1152.8,1410.8 1153.4,1408.3 1154.0,1406.2 1154.6,1405.3 1155.2,1403.0 1155.8,1402.2 1156.1,1401.8 1156.4,1402.2 1157.0,1403.0 1157.6,1403.0 1158.2,1405.9 1158.8,1408.1 1159.4,1410.5 1160.0,1412.9 1160.6,1413.6 1161.2,1417.3 1161.8,1418.2 1162.4,1420.9 1162.5,1420.2 1163.0,1421.0 1163.6,1421.9 1164.2,1421.6 1164.8,1423.7 1165.4,1423.7 1166.0,1426.6 1166.6,1425.5 1167.2,1425.3 1167.8,1429.6 1168.4,1427.8 1169.0,1427.2 1169.6,1428.9 1170.2,1429.1 1170.8,1430.0 1171.4,1428.1 1171.6,1432.0 1172.0,1430.7 1172.6,1433.6 1173.2,1431.6 1173.8,1428.5 1174.4,1433.0 1175.0,1430.3 1175.6,1431.2 1176.2,1425.9 1176.8,1428.6 1177.4,1434.5 1178.0,1434.1 1178.6,1428.1 1179.2,1432.8 1179.8,1432.9 1180.4,1435.0 1181.0,1430.0 1181.6,1428.6 1182.2,1433.1 1182.8,1431.0 1183.4,1431.1 1184.0,1430.4 1184.5,1435.0 1184.6,1430.3 1185.2,1434.2 1185.8,1433.3 1186.4,1430.4 1187.0,1433.9 1187.6,1434.4 1188.2,1432.3 1188.8,1430.9 1189.4,1433.0 1190.0,1429.6 1190.6,1432.2 1191.2,1434.4 1191.8,1428.1 1192.4,1427.0 1193.0,1432.5 1193.6,1429.0 1194.2,1430.0 1194.8,1431.3 1195.4,1429.7 1196.0,1431.5 1196.6,1429.2 1197.2,1430.3 1197.8,1431.4 1198.4,1433.0 1199.0,1431.1 1199.6,1432.9 1200.2,1433.7 1200.8,1433.6 1201.4,1432.4 1202.0,1435.6 1202.6,1431.2 1203.2,1435.3 1203.8,1435.2 1204.4,1435.0 1205.0,1431.9 1205.2,1435.1 1205.6,1434.0 1206.2,1430.5 1206.8,1432.2 1207.4,1429.9 1208.0,1433.4 1208.6,1435.5 1209.2,1434.4 1209.8,1430.1 1210.4,1429.9 1211.0,1431.6 1211.6,1431.5 1212.2,1433.3 1212.8,1430.9 1213.4,1433.9 1214.0,1430.1 1214.6,1433.4 1215.2,1427.8 1215.8,1429.6 1216.4,1430.7 1217.0,1432.2 1217.6,1431.4 1218.2,1428.2 1218.8,1427.0 1219.4,1429.6 1220.0,1429.4 1220.6,1428.6 1221.2,1429.3 1221.8,1426.4 1222.4,1430.3 1223.0,1431.4 1223.6,1427.3 1224.2,1427.4 1224.8,1432.0 1225.4,1431.7 1226.0,1427.7 1226.6,1428.0 1227.2,1425.7 1227.8,1430.6 1228.4,1429.9 1229.0,1429.6 1229.6,1434.3 1230.2,1429.1 1230.8,1429.2 1231.1,1430.0 1231.4,1429.0 1232.0,1431.7 1232.6,1429.0 1233.2,1429.6 1233.8,1434.1 1234.4,1428.0 1235.0,1426.6 1235.6,1429.5 1236.2,1427.8 1236.8,1427.7 1237.4,1429.5 1238.0,1430.8 1238.6,1425.7 1239.2,1428.5 1239.8,1424.4 1240.4,1430.7 1241.0,1426.6 1241.6,1430.0 1242.2,1432.4 1242.7,1431.4 1242.8,1429.5 1243.4,1424.6 1244.0,1432.6 1244.6,1428.0 1245.2,1430.7 1245.8,1428.2 1246.4,1429.0 1247.0,1433.1 1247.6,1426.7 1248.2,1427.8 1248.8,1430.1 1249.4,1433.1 1250.0,1426.1 1250.6,1433.9 1251.2,1430.6 1251.8,1432.9 1251.8,1436.6 1252.4,1432.4 1253.0,1433.2 1253.6,1433.0 1254.2,1430.2 1254.8,1430.3 1255.4,1429.6 1256.0,1429.4 1256.6,1428.5 1257.2,1427.8 1257.8,1427.2 1258.4,1427.4 1259.0,1424.7 1259.5,1424.4 1259.6,1425.2 1260.2,1421.1 1260.8,1418.7 1261.4,1418.5 1262.0,1415.5 1262.6,1413.7 1263.2,1413.1 1263.8,1412.0 1264.2,1411.2 1264.4,1411.6 1265.0,1411.8 1265.6,1414.3 1266.2,1416.7 1266.8,1419.3 1267.4,1421.5 1268.0,1424.0 1268.6,1424.3 1268.6,1424.7 1269.2,1422.9 1269.8,1419.6 1270.4,1416.6 1271.0,1413.1 1271.6,1410.2 1272.2,1408.3 1272.5,1407.9 1272.8,1407.7 1273.4,1408.7 1274.0,1410.6 1274.6,1412.8 1275.2,1415.4 1275.8,1418.0 1276.4,1420.9 1277.0,1424.2 1277.6,1427.3 1277.7,1427.3 1278.2,1428.9 1278.8,1431.1 1279.4,1432.7 1280.0,1433.2 1280.2,1434.0 1280.6,1433.1 1281.2,1433.2 1281.8,1433.4 1282.4,1432.3 1283.0,1434.3 1283.6,1432.1 1284.2,1430.7 1284.8,1429.1 1285.4,1434.8 1286.0,1435.4 1286.6,1430.4 1287.2,1429.4 1287.8,1431.3 1288.4,1432.1 1289.0,1430.8 1289.6,1432.8 1290.2,1429.5 1290.8,1435.7 1291.4,1432.1 1292.0,1433.2 1292.6,1430.3 1293.2,1432.8 1293.2,1434.1 1293.8,1429.5 1294.4,1431.3 1295.0,1433.2 1295.6,1432.4 1296.2,1430.4 1296.8,1431.4 1297.4,1433.8 1298.0,1433.8 1298.6,1432.3 1299.2,1434.7 1299.8,1430.2 1300.4,1435.1 1301.0,1437.2 1301.6,1437.6 1302.2,1435.4 1302.8,1437.0 1303.4,1437.2 1303.5,1436.7 1304.0,1435.5 1304.6,1434.3 1305.2,1436.1 1305.8,1434.8 1306.4,1433.0 1307.0,1440.0 1307.6,1434.4 1308.2,1436.1 1308.8,1436.1 1309.4,1433.8 1310.0,1438.2 1310.6,1433.9 1311.2,1441.3 1311.8,1434.6 1312.4,1435.9 1313.0,1437.3 1313.6,1437.4 1314.2,1437.8 1314.8,1440.2 1315.4,1440.9 1316.0,1443.2 1316.6,1436.0 1317.2,1440.9 1317.8,1440.1 1318.4,1438.1 1319.0,1435.9 1319.6,1443.8 1320.2,1441.2 1320.8,1434.8 1321.4,1441.8 1322.0,1439.4 1322.6,1438.8 1323.2,1439.9 1323.8,1436.7 1324.4,1437.6 1325.0,1439.8 1325.6,1435.2 1326.2,1434.7 1326.8,1434.0 1327.4,1439.2 1328.0,1435.4 1328.6,1437.0 1329.2,1436.8 1329.8,1439.3 1330.4,1439.0 1331.0,1436.7 1331.6,1441.7 1332.2,1439.8 1332.8,1439.8 1333.4,1438.3 1334.0,1438.6 1334.6,1438.8 1334.6,1439.4 1335.2,1440.2 1335.8,1440.1 1336.4,1438.5 1337.0,1438.7 1337.6,1440.3 1338.2,1441.2 1338.8,1441.2 1339.4,1438.4 1340.0,1435.8 1340.6,1438.8 1341.2,1438.8 1341.8,1438.7 1342.4,1439.6 1343.0,1437.5 1343.6,1438.9 1344.2,1433.7 1344.8,1442.4 1345.4,1438.6 1346.0,1437.7 1346.6,1439.4 1347.2,1437.6 1347.8,1436.5 1348.4,1439.7 1349.0,1438.0 1349.6,1436.3 1350.2,1439.2 1350.8,1438.7 1351.4,1438.6 1352.0,1437.2 1352.6,1440.2 1353.2,1436.2 1353.8,1439.9 1354.4,1441.5 1355.0,1436.6 1355.3,1439.1 1355.6,1435.1 1356.2,1438.8 1356.8,1435.4 1357.4,1436.1 1358.0,1438.7 1358.6,1440.0 1359.2,1438.7 1359.8,1437.2 1360.4,1435.8 1361.0,1436.8 1361.6,1440.4 1362.2,1438.2 1362.8,1433.0 1363.4,1433.3 1364.0,1431.3 1364.6,1433.9 1365.2,1431.8 1365.8,1429.0 1366.4,1430.8 1367.0,1429.9 1367.6,1428.8 1368.2,1429.9 1368.2,1431.9 1368.8,1429.1 1369.4,1430.4 1370.0,1429.2 1370.6,1431.6 1371.2,1435.2 1371.8,1434.7 1372.4,1433.4 1373.0,1434.2 1373.6,1437.7 1374.2,1435.8 1374.8,1435.4 1375.4,1438.3 1376.0,1436.0 1376.6,1435.7 1377.2,1437.7 1377.8,1434.7 1378.4,1436.2 1378.6,1435.5 1379.0,1437.3 1379.6,1436.8 1380.2,1440.8 1380.8,1438.5 1381.4,1437.2 1382.0,1438.4 1382.6,1436.7 1383.2,1437.7 1383.8,1438.4 1384.4,1438.1 1385.0,1439.9 1385.6,1438.1 1386.2,1435.3 1386.8,1437.2 1387.4,1434.1 1388.0,1440.5 1388.6,1432.2 1389.2,1435.6 1389.8,1436.7 1390.4,1433.5 1391.0,1434.4 1391.6,1437.3 1392.2,1432.5 1392.8,1436.8 1393.4,1434.3 1394.0,1434.0 1394.1,1438.9 1394.6,1436.4 1395.2,1435.6 1395.8,1434.3 1396.4,1435.3 1397.0,1434.7 1397.6,1439.0 1398.2,1435.8 1398.8,1434.0 1399.4,1434.6 1400.0,1436.7 1400.6,1433.7 1401.2,1434.6 1401.8,1433.0 1402.4,1431.8 1403.0,1441.5 1403.6,1436.5 1404.2,1440.9 1404.8,1438.6 1405.4,1438.3 1406.0,1435.6 1406.6,1438.0 1407.2,1438.6 1407.8,1436.6 1408.4,1440.1 1409.0,1441.3 1409.6,1439.8 1410.2,1439.3 1410.8,1435.3 1411.4,1444.7 1412.0,1440.5 1412.2,1436.5 1412.6,1436.5 1413.2,1437.5 1413.8,1436.8 1414.4,1438.9 1415.0,1437.0 1415.6,1439.0 1416.2,1437.8 1416.8,1438.1 1417.4,1436.2 1418.0,1439.0 1418.6,1439.1 1419.2,1436.8 1419.8,1435.0 1420.4,1438.5 1421.0,1434.6 1421.6,1436.6 1422.2,1439.2 1422.8,1440.8 1423.4,1437.4 1424.0,1438.6 1424.6,1440.5 1425.2,1435.5 1425.8,1436.6 1426.4,1438.0 1427.0,1440.0 1427.6,1434.6 1428.2,1434.4 1428.8,1438.9 1429.4,1439.3 1430.0,1435.3 1430.6,1436.7 1431.2,1438.6 1431.8,1436.1 1432.4,1432.5 1433.0,1437.0 1433.6,1438.5 1434.2,1433.9 1434.8,1439.3 1435.4,1436.0 1436.0,1433.0 1436.6,1437.2 1437.2,1433.7 1437.8,1439.8 1438.1,1438.0 1438.4,1440.7 1439.0,1433.5 1439.6,1437.2 1440.2,1439.9 1440.8,1439.3 1441.4,1438.0 1442.0,1437.4 1442.6,1437.8 1443.2,1438.5 1443.8,1440.0 1444.4,1432.4 1445.0,1433.9 1445.6,1434.7 1446.2,1436.3 1446.8,1436.7 1447.4,1435.1 1448.0,1435.7 1448.6,1437.4 1449.2,1438.4 1449.8,1434.2 1450.4,1435.4 1451.0,1436.1 1451.6,1441.3 1452.2,1434.8 1452.8,1436.9 1453.4,1436.4 1453.6,1435.5 1454.0,1438.4 1454.6,1436.4 1455.2,1435.6 1455.8,1436.8 1456.4,1437.3 1457.0,1435.5 1457.6,1435.4 1458.2,1439.3 1458.8,1435.9 1459.4,1439.1 1460.0,1436.9 1460.6,1435.6 1461.2,1435.1 1461.8,1434.1 1462.4,1439.1 1463.0,1439.2 1463.6,1437.1 1464.2,1435.9 1464.8,1437.1 1465.4,1438.7 1466.0,1441.1 1466.6,1437.2 1467.2,1435.2 1467.8,1439.2 1468.4,1438.1 1469.0,1437.2 1469.6,1435.2 1470.2,1440.3 1470.8,1442.1 1471.4,1437.1 1472.0,1436.2 1472.6,1438.2 1473.2,1438.7 1473.8,1440.5 1474.3,1439.6 1474.4,1436.0 1475.0,1440.1 1475.6,1440.2 1476.2,1438.5 1476.8,1440.3 1477.4,1437.0 1478.0,1439.1 1478.6,1437.0 1479.2,1439.9 1479.8,1441.5 1480.4,1435.8 1481.0,1439.8 1481.6,1441.2 1482.2,1440.1 1482.8,1442.8 1483.4,1439.2 1484.0,1443.7 1484.6,1439.3 1485.2,1436.5 1485.8,1438.6 1486.4,1437.4 1487.0,1441.2 1487.6,1442.1 1488.2,1442.2 1488.8,1440.3 1489.4,1438.5 1490.0,1437.7 1490.6,1436.7 1491.2,1440.5 1491.8,1436.7 1492.4,1438.9 1493.0,1440.0 1493.6,1440.6 1494.2,1436.9 1494.8,1437.3 1495.4,1437.6 1496.0,1441.8 1496.6,1437.7 1497.2,1438.2 1497.8,1441.3 1498.4,1441.9 1499.0,1443.8 1499.6,1439.8 1500.2,1441.7 1500.8,1436.0 1501.4,1440.8 1502.0,1441.2 1502.6,1441.3 1502.7,1438.2 1503.2,1442.0 1503.8,1442.4 1504.4,1439.0 1505.0,1439.0 1505.6,1438.2 1506.2,1438.3 1506.8,1439.0 1507.4,1436.4 1508.0,1436.3 1508.6,1438.6 1509.2,1438.2 1509.8,1441.4 1510.4,1439.0 1511.0,1437.5 1511.6,1435.8 1512.2,1438.8 1512.8,1437.2 1513.4,1435.6 1514.0,1443.1 1514.6,1435.1 1515.2,1442.4 1515.8,1445.1 1516.4,1438.9 1517.0,1437.7 1517.6,1439.9 1518.2,1436.6 1518.8,1438.8 1519.4,1439.9 1520.0,1435.8 1520.6,1441.5 1521.2,1438.6 1521.8,1439.1 1522.4,1441.2 1523.0,1435.7 1523.6,1436.0 1524.2,1439.2 1524.8,1439.5 1525.4,1438.2 1526.0,1438.5 1526.6,1438.3 1527.2,1436.9 1527.8,1436.2 1528.4,1437.3 1529.0,1439.1 1529.6,1439.8 1530.2,1436.3 1530.8,1442.4 1531.4,1443.6 1532.0,1439.2 1532.6,1437.2 1533.2,1438.4 1533.8,1440.4 1533.8,1438.6 1534.4,1442.7 1535.0,1438.3 1535.6,1440.8 1536.2,1439.9 1536.8,1443.6 1537.4,1439.8 1538.0,1440.0 1538.6,1437.3 1539.2,1438.5 1539.8,1436.3 1540.4,1445.5 1541.0,1439.1 1541.6,1438.6 1542.2,1439.1 1542.8,1439.9 1543.4,1440.3 1544.0,1435.6 1544.6,1442.0 1545.2,1439.7 1545.8,1439.7 1546.4,1443.6 1547.0,1440.7 1547.6,1438.8 1548.2,1438.8 1548.8,1442.3 1549.4,1441.1 1550.0,1441.4 1550.6,1438.6 1551.2,1441.6 1551.8,1440.0 1552.4,1439.8 1553.0,1444.2 1553.6,1442.2 1554.2,1441.0 1554.8,1443.6 1555.4,1445.4 1556.0,1438.5 1556.6,1443.4 1557.1,1441.9 1557.2,1441.1 1557.8,1444.1 1558.4,1442.8 1559.0,1440.1 1559.6,1443.5 1560.2,1440.5 1560.8,1440.8 1561.4,1438.1 1562.0,1440.9 1562.6,1442.0 1563.2,1440.2 1563.8,1441.0 1564.4,1443.6 1565.0,1440.8 1565.6,1439.9 1566.2,1444.7 1566.8,1439.9 1567.4,1436.5 1568.0,1438.8 1568.6,1440.9 1569.2,1438.9 1569.8,1439.1 1570.4,1440.4 1571.0,1441.0 1571.6,1440.9 1572.2,1441.4 1572.8,1443.7 1573.4,1448.2 1574.0,1443.9 1574.6,1443.0 1575.2,1440.3 1575.8,1441.9 1576.4,1439.6 1577.0,1441.8 1577.6,1439.6 1578.2,1444.1 1578.8,1446.2 1579.4,1443.9 1580.0,1447.4 1580.6,1439.7 1581.2,1443.7 1581.8,1441.7 1582.4,1442.3 1583.0,1439.7 1583.6,1441.7 1584.2,1441.6 1584.8,1440.3 1585.4,1443.9 1585.5,1443.0 1586.0,1443.8 1586.6,1440.2 1587.2,1439.8 1587.8,1438.6 1588.4,1442.5 1589.0,1442.7 1589.6,1440.6 1590.2,1439.2 1590.8,1440.8 1591.4,1441.7 1592.0,1441.8 1592.6,1440.2 1593.2,1443.0 1593.8,1443.5 1594.4,1439.2 1595.0,1441.6 1595.5,1441.2 1595.6,1438.5 1596.2,1440.0 1596.8,1441.5 1597.4,1443.2 1598.0,1439.4 1598.6,1439.9 1599.2,1440.0 1599.8,1439.4 1600.4,1437.3 1601.0,1441.3 1601.6,1439.2 1602.2,1440.2 1602.8,1440.4 1603.4,1438.0 1604.0,1436.7 1604.6,1436.8 1605.2,1436.8 1605.8,1435.9 1606.4,1436.6 1607.0,1434.5 1607.6,1436.1 1608.2,1435.8 1608.5,1437.4 1608.8,1438.0 1609.4,1440.5 1610.0,1439.8 1610.6,1439.4 1611.2,1438.7 1611.8,1439.3 1612.4,1440.4 1613.0,1439.7 1613.6,1440.6 1614.2,1439.2 1614.8,1441.7 1615.4,1439.7 1616.0,1440.8 1616.6,1441.0 1617.2,1446.8 1617.8,1442.8 1618.4,1444.8 1619.0,1440.9 1619.6,1444.6 1620.2,1443.2 1620.8,1445.7 1621.4,1443.2 1621.4,1441.8 1622.0,1445.5 1622.6,1444.0 1623.2,1441.3 1623.8,1443.6 1624.4,1441.8 1625.0,1445.0 1625.6,1443.7 1626.2,1444.1 1626.8,1441.4 1627.4,1445.8 1628.0,1441.9 1628.6,1443.6 1629.2,1442.4 1629.8,1443.0 1630.4,1440.4 1631.0,1442.9 1631.6,1443.5 1632.2,1440.2 1632.8,1444.8 1633.4,1440.8 1634.0,1441.7 1634.6,1441.6 1635.2,1445.2 1635.8,1442.0 1636.4,1442.2 1637.0,1443.7 1637.6,1443.4 1638.2,1445.4 1638.8,1442.2 1639.4,1441.9 1640.0,1441.5 1640.6,1441.4 1641.2,1444.3 1641.8,1443.9 1642.4,1442.1 1643.0,1442.4 1643.6,1438.2 1644.2,1444.1 1644.8,1443.3 1645.4,1438.1 1646.0,1441.1 1646.6,1441.9 1647.2,1444.8 1647.8,1442.4 1648.4,1444.2 1649.0,1444.8 1649.6,1443.0 1650.2,1439.6 1650.8,1438.7 1651.4,1440.7 1652.0,1442.7 1652.6,1442.0 1653.2,1438.5 1653.8,1442.5 1654.4,1439.3 1655.0,1440.3 1655.6,1443.0 1656.2,1441.3 1656.8,1440.0 1657.4,1439.6 1657.6,1441.3 1658.0,1441.7 1658.6,1440.9 1659.2,1439.7 1659.8,1442.2 1660.4,1443.0 1661.0,1439.1 1661.6,1442.7 1662.2,1440.3 1662.8,1441.0 1663.4,1443.5 1664.0,1439.3 1664.6,1441.6 1665.2,1445.3 1665.8,1445.0 1666.4,1441.2 1667.0,1440.4 1667.6,1445.2 1668.2,1443.3 1668.8,1443.6 1669.4,1440.1 1670.0,1443.5 1670.6,1440.4 1671.2,1442.9 1671.8,1447.1 1672.4,1446.0 1673.0,1446.7 1673.6,1443.8 1674.2,1444.5 1674.8,1443.0 1675.4,1447.7 1676.0,1442.8 1676.6,1441.1 1677.2,1443.0 1677.8,1446.0 1678.4,1443.0 1679.0,1444.5 1679.6,1441.4 1680.2,1443.0 1680.8,1441.8 1681.4,1442.2 1682.0,1444.0 1682.6,1445.8 1683.2,1448.5 1683.5,1446.0 1683.8,1442.8 1684.4,1442.9 1685.0,1442.2 1685.6,1445.1 1686.2,1443.5 1686.8,1445.0 1687.4,1443.3 1688.0,1448.7 1688.6,1445.1 1689.2,1447.1 1689.8,1445.1 1690.4,1450.1 1691.0,1442.8 1691.6,1446.6 1692.2,1448.2 1692.8,1445.4 1693.4,1447.2 1694.0,1445.1 1694.6,1447.4 1695.2,1445.0 1695.8,1448.4 1696.4,1441.8 1697.0,1446.3 1697.6,1443.7 1698.2,1443.8 1698.8,1445.7 1699.4,1443.3 1700.0,1443.2 1700.6,1445.6 1701.2,1442.3 1701.8,1444.0 1702.4,1446.5 1703.0,1442.9 1703.6,1447.0 1704.2,1442.5 1704.8,1445.1 1705.4,1444.8 1706.0,1441.9 1706.6,1446.2 1707.2,1441.9 1707.8,1447.4 1708.4,1447.6 1709.0,1443.3 1709.6,1444.7 1710.2,1444.1 1710.8,1441.6 1711.4,1442.7 1712.0,1444.2 1712.6,1444.3 1713.2,1446.7 1713.8,1443.3 1714.4,1443.1 1715.0,1445.5 1715.6,1445.7 1716.2,1443.7 1716.8,1444.7 1717.4,1443.1 1718.0,1444.0 1718.6,1440.2 1719.2,1440.9 1719.8,1446.1 1720.4,1443.2 1721.0,1442.4 1721.6,1445.6 1722.2,1448.7 1722.8,1446.7 1723.4,1445.6 1724.0,1444.9 1724.6,1448.5 1725.2,1448.4 1725.8,1445.5 1726.4,1444.4 1727.0,1445.4 1727.6,1446.2 1728.2,1444.8 1728.8,1444.1 1729.4,1443.9 1730.0,1442.1 1730.6,1444.4 1731.2,1445.4 1731.8,1442.2 1732.4,1443.0 1733.0,1446.5 1733.6,1442.9 1734.2,1445.2 1734.8,1442.2 1735.2,1440.5 1735.4,1445.0 1736.0,1445.5 1736.6,1444.7 1737.2,1444.2 1737.8,1447.1 1738.4,1443.7 1739.0,1442.8 1739.6,1444.9 1740.2,1446.5 1740.8,1445.1 1741.4,1446.5 1742.0,1447.5 1742.6,1443.0 1743.2,1444.3 1743.8,1444.0 1744.4,1445.7 1745.0,1441.4 1745.6,1446.4 1746.2,1441.8 1746.8,1445.2 1747.4,1443.8 1748.0,1443.6 1748.6,1445.5 1749.2,1442.0 1749.8,1445.6 1750.4,1443.8 1751.0,1441.7 1751.6,1446.3 1752.2,1442.0 1752.8,1445.5 1753.4,1443.5 1754.0,1443.5 1754.6,1446.9 1755.2,1444.8 1755.8,1443.8 1756.4,1445.9 1757.0,1443.4 1757.6,1447.4 1758.2,1443.2 1758.8,1445.4 1759.4,1443.4 1760.0,1445.9 1760.6,1443.0 1761.2,1444.5 1761.8,1446.2 1762.4,1442.4 1763.0,1444.6 1763.6,1445.8 1764.2,1444.1 1764.8,1444.4 1765.4,1446.5 1766.0,1446.9 1766.6,1442.2 1767.2,1443.5 1767.8,1440.2 1768.4,1445.1 1769.0,1446.3 1769.6,1443.4 1770.2,1442.7 1770.8,1445.8 1771.4,1443.8 1772.0,1448.7 1772.6,1447.5 1773.2,1441.0 1773.8,1445.7 1774.4,1445.6 1775.0,1445.6 1775.6,1444.1 1776.2,1441.4 1776.8,1444.3 1777.4,1443.0 1778.0,1447.5 1778.6,1445.2 1779.2,1446.5 1779.8,1442.1 1780.4,1444.1 1781.0,1443.7 1781.6,1442.5 1782.2,1443.4 1782.8,1441.4 1783.4,1444.7 1784.0,1442.8 1784.6,1444.8 1785.2,1445.4 1785.8,1444.2 1786.4,1443.3 1787.0,1446.3 1787.0,1446.2 1787.6,1443.7 1788.2,1446.6 1788.8,1439.6 1789.4,1444.8 1790.0,1445.4 1790.6,1444.4 1791.2,1441.2 1791.8,1444.4 1792.4,1446.2 1793.0,1445.1 1793.6,1442.1 1794.2,1444.8 1794.8,1448.2 1795.4,1447.4 1796.0,1448.0 1796.6,1445.2 1797.2,1447.0 1797.8,1445.6 1798.4,1445.6 1799.0,1443.9 1799.6,1446.0 1800.2,1448.0 1800.8,1446.3 1801.4,1442.6 1802.0,1447.2 1802.6,1443.9 1803.2,1447.0 1803.8,1444.4 1804.4,1448.9 1805.0,1445.4 1805.6,1447.7 1806.2,1443.0 1806.8,1445.2 1807.4,1445.7 1808.0,1442.7 1808.6,1444.2 1809.2,1444.2 1809.8,1445.4 1810.4,1445.3 1811.0,1441.9 1811.6,1447.3 1812.2,1446.2 1812.8,1443.8 1813.4,1446.8 1814.0,1444.5 1814.6,1443.8 1815.2,1442.3 1815.8,1439.9 1816.4,1445.4 1817.0,1446.9 1817.6,1445.9 1818.2,1445.9 1818.8,1448.3 1819.4,1441.8 1820.0,1445.9 1820.6,1448.3 1821.2,1444.2 1821.8,1448.1 1822.4,1443.8 1823.0,1443.3 1823.6,1440.7 1824.2,1445.4 1824.8,1445.9 1825.4,1445.4 1826.0,1444.7 1826.6,1445.7 1827.2,1444.0 1827.8,1441.2 1828.4,1445.0 1829.0,1445.6 1829.6,1449.8 1830.2,1444.0 1830.8,1445.2 1831.4,1441.8 1832.0,1441.9 1832.6,1443.2 1833.2,1448.4 1833.8,1446.0 1834.4,1445.9 1835.0,1444.9 1835.6,1446.3 1836.2,1447.5 1836.8,1446.9 1837.4,1445.5 1838.0,1445.9 1838.6,1446.1 1838.7,1446.6 1839.2,1445.8 1839.8,1444.5 1840.4,1442.2 1841.0,1445.0 1841.6,1444.7 1842.2,1444.4 1842.8,1443.8 1843.4,1442.4 1844.0,1446.6 1844.6,1443.3 1845.2,1444.5 1845.8,1443.7 1846.4,1442.2 1847.0,1445.9 1847.6,1441.7 1848.2,1444.6 1848.8,1443.8 1849.4,1444.6 1850.0,1442.7 1850.6,1446.5 1851.2,1447.1 1851.8,1446.0 1852.4,1443.8 1853.0,1442.2 1853.6,1448.7 1854.2,1441.2 1854.8,1442.7 1855.4,1445.7 1856.0,1446.1 1856.6,1443.0 1857.2,1446.2 1857.8,1442.7 1858.4,1446.7 1859.0,1446.2 1859.6,1445.4 1860.2,1447.4 1860.8,1446.0 1861.4,1440.9 1862.0,1446.8 1862.6,1445.8 1863.2,1447.0 1863.8,1444.7 1864.4,1446.5 1865.0,1444.3 1865.6,1445.7 1866.2,1446.5 1866.8,1443.7 1867.4,1443.5 1868.0,1444.7 1868.6,1446.0 1869.2,1445.1 1869.8,1444.7 1870.4,1445.6 1871.0,1445.0 1871.6,1442.4 1872.2,1446.9 1872.8,1446.8 1873.4,1446.5 1874.0,1441.4 1874.6,1446.9 1875.2,1442.6 1875.8,1444.7 1876.4,1444.4 1877.0,1447.8 1877.5,1446.5 1877.6,1444.7 1878.2,1445.6 1878.8,1443.6 1879.4,1442.7 1880.0,1445.9 1880.6,1446.2 1881.2,1444.9 1881.8,1447.9 1882.4,1448.4 1883.0,1444.4 1883.6,1445.8 1884.2,1446.4 1884.8,1442.0 1885.4,1447.9 1886.0,1447.7 1886.6,1446.7 1887.2,1446.0 1887.8,1445.4 1888.4,1448.7 1889.0,1445.0 1889.6,1447.0 1890.2,1446.1 1890.8,1448.6 1891.4,1449.0 1892.0,1446.5 1892.6,1446.2 1893.2,1443.9 1893.8,1444.2 1894.4,1446.9 1895.0,1447.0 1895.6,1446.3 1896.2,1444.1 1896.8,1444.6 1897.4,1441.2 1898.0,1446.3 1898.6,1442.0 1899.2,1443.2 1899.8,1445.0 1900.4,1448.7 1901.0,1444.8 1901.6,1448.2 1902.2,1450.6 1902.8,1448.4 1903.4,1448.1 1903.4,1444.8 1904.0,1446.3 1904.6,1443.8 1905.2,1448.0 1905.8,1447.8 1906.4,1449.4 1907.0,1446.9 1907.6,1447.4 1908.2,1445.2 1908.8,1447.6 1909.4,1449.1 1910.0,1447.7 1910.6,1448.3 1911.2,1447.0 1911.8,1447.8 1912.4,1447.2 1913.0,1445.4 1913.6,1446.9 1914.2,1448.4 1914.8,1447.7 1915.4,1446.9 1916.0,1445.5 1916.6,1448.2 1917.2,1446.3 1917.8,1446.9 1918.4,1448.5 1919.0,1449.4 1919.6,1446.4 1920.2,1446.8 1920.8,1449.0 1921.4,1447.1 1922.0,1450.8 1922.6,1449.5 1923.2,1447.8 1923.8,1445.6 1924.4,1449.1 1925.0,1447.9 1925.6,1444.7 1926.2,1445.7 1926.8,1447.0 1927.4,1448.4 1928.0,1443.5 1928.6,1446.8 1929.2,1447.2 1929.8,1451.0 1930.4,1447.4 1931.0,1447.3 1931.6,1446.8 1932.2,1447.4 1932.8,1447.9 1933.4,1446.4 1934.0,1447.6 1934.6,1450.1 1935.2,1446.2 1935.8,1447.7 1936.4,1450.0 1937.0,1445.0 1937.6,1446.3 1938.2,1445.1 1938.8,1447.7 1939.4,1448.1 1940.0,1446.8 1940.6,1445.9 1941.2,1445.7 1941.8,1446.1 1942.4,1447.8 1943.0,1446.4 1943.6,1448.5 1944.2,1449.4 1944.8,1445.2 1945.4,1448.8 1946.0,1448.2 1946.6,1445.7 1947.2,1441.6 1947.8,1444.2 1948.4,1447.4 1949.0,1442.7 1949.6,1448.6 1950.2,1444.6 1950.8,1446.7 1951.4,1445.1 1952.0,1445.5 1952.6,1446.7 1953.2,1444.1 1953.8,1445.8 1954.4,1445.2 1955.0,1447.5 1955.6,1444.2 1956.2,1449.8 1956.8,1449.0 1957.4,1443.5 1958.0,1443.4 1958.6,1444.7 1959.2,1446.2 1959.8,1446.6 1960.3,1446.7 1960.4,1447.0 1961.0,1445.3 1961.6,1443.3 1962.2,1443.7 1962.8,1444.7 1963.4,1443.9 1964.0,1449.7 1964.6,1444.6 1965.2,1447.6 1965.8,1446.7 1966.4,1443.8 1967.0,1442.9 1967.6,1444.8 1968.2,1445.9 1968.8,1444.7 1969.4,1447.4 1970.0,1444.2 1970.6,1444.3 1971.2,1446.0 1971.8,1449.2 1972.4,1447.1 1973.0,1449.1 1973.6,1445.0 1974.2,1448.0 1974.8,1446.9 1975.4,1450.7 1976.0,1445.6 1976.6,1446.9 1977.2,1445.0 1977.8,1444.5 1978.4,1448.0 1979.0,1447.7 1979.6,1445.0 1980.2,1448.6 1980.8,1446.6 1981.4,1446.9 1982.0,1450.4 1982.6,1448.4 1983.2,1449.1 1983.8,1450.0 1984.4,1447.9 1985.0,1446.9 1985.6,1450.3 1986.2,1450.9 1986.8,1445.2 1987.4,1446.5 1988.0,1446.7 1988.6,1446.7 1989.2,1450.7 1989.8,1447.8 1990.4,1447.9 1991.0,1448.7 1991.6,1449.3 1992.2,1448.1 1992.8,1448.7 1993.4,1445.3 1993.9,1447.9 1994.0,1446.1 1994.6,1447.5 1995.2,1449.8 1995.8,1448.2 1996.4,1447.3 1997.0,1449.9 1997.6,1450.8 1998.2,1448.7 1998.8,1446.4 1999.4,1450.4 2000.0,1448.0 2000.6,1446.2 2001.2,1448.9 2001.8,1446.8 2002.4,1446.9 2003.0,1445.9 2003.6,1446.1 2004.2,1449.2 2004.8,1443.4 2005.4,1449.0 2006.0,1449.4 2006.6,1449.2 2007.2,1447.8 2007.8,1445.7 2008.4,1447.7 2009.0,1448.9 2009.6,1450.2 2010.2,1447.9 2010.8,1444.1 2011.4,1446.3 2012.0,1445.6 2012.6,1448.8 2013.2,1448.3 2013.8,1447.9 2014.4,1447.3 2015.0,1444.4 2015.6,1447.3 2016.2,1449.7 2016.8,1446.0 2017.4,1446.3 2018.0,1445.5 2018.6,1447.2 2019.2,1448.6 2019.8,1444.7 2020.4,1448.7 2021.0,1446.1 2021.6,1451.9 2022.2,1447.2 2022.8,1448.4 2023.4,1444.4 2024.0,1449.1 2024.6,1447.4 2025.2,1446.3 2025.8,1449.5 2026.4,1446.4 2027.0,1445.7 2027.6,1448.8 2028.2,1445.2 2028.8,1447.0 2029.4,1444.6 2030.0,1443.7 2030.6,1448.5 2031.2,1446.3 2031.8,1447.6 2032.4,1447.4 2033.0,1445.9 2033.6,1446.7 2034.2,1445.0 2034.8,1445.0 2035.4,1446.6 2036.0,1442.2 2036.6,1445.9 2037.2,1444.2 2037.8,1446.0 2038.4,1444.1 2039.0,1448.5 2039.6,1447.4 2040.2,1445.1 2040.8,1447.7 2041.4,1443.1 2042.0,1444.1 2042.6,1448.0 2043.2,1450.2 2043.8,1447.2 2044.4,1448.8 2045.0,1447.9 2045.6,1450.6 2045.7,1446.7 2046.2,1444.7 2046.8,1446.2 2047.4,1447.7 2048.0,1448.5 2048.6,1446.2 2049.2,1449.3 2049.8,1444.4 2050.4,1447.5 2051.0,1445.2 2051.6,1446.2 2052.2,1445.9 2052.8,1448.9 2053.4,1449.8 2054.0,1443.0 2054.6,1446.3 2055.2,1447.6 2055.8,1445.4 2056.4,1446.7 2057.0,1446.9 2057.6,1448.4 2058.2,1445.6 2058.8,1448.5 2059.4,1446.7 2060.0,1447.1 2060.6,1445.8 2061.2,1446.8 2061.8,1447.1 2062.4,1451.4 2063.0,1448.5 2063.6,1447.4 2064.2,1446.8 2064.8,1445.1 2065.4,1448.4 2066.0,1444.2 2066.6,1445.0 2067.2,1447.8 2067.8,1445.2 2068.4,1444.5 2069.0,1451.2 2069.6,1444.5 2070.2,1445.8 2070.8,1444.0 2071.4,1446.8 2072.0,1448.5 2072.6,1451.4 2073.2,1449.1 2073.8,1447.8 2074.4,1446.9 2075.0,1449.1 2075.6,1446.9 2076.2,1448.2 2076.8,1444.6 2077.4,1448.3 2078.0,1444.8 2078.6,1446.7 2079.2,1444.1 2079.8,1445.1 2080.4,1450.1 2081.0,1448.0 2081.6,1445.7 2082.2,1449.7 2082.8,1443.8 2083.4,1447.3 2084.0,1445.2 2084.6,1448.6 2085.2,1449.1 2085.8,1447.0 2086.4,1446.9 2087.0,1446.4 2087.6,1449.5 2088.2,1448.2 2088.8,1451.3 2089.4,1448.4 2090.0,1448.2 2090.6,1446.1 2091.2,1446.0 2091.8,1449.2 2092.4,1447.4 2093.0,1449.7 2093.6,1448.9 2094.2,1446.7 2094.8,1446.9 2095.4,1449.5 2096.0,1449.2 2096.6,1449.0 2097.2,1445.8 2097.8,1447.6 2098.4,1445.7 2099.0,1451.2 2099.6,1446.4 2100.2,1446.9 2100.8,1446.3 2101.4,1445.2 2102.0,1447.5 2102.6,1445.8 2103.2,1446.7 2103.8,1447.1 2104.4,1446.5 2105.0,1446.3 2105.2,1446.6 2105.6,1446.3 2106.2,1445.6 2106.8,1444.7 2107.4,1444.1 2107.8,1443.8 2108.0,1443.6 2108.6,1441.4 2109.2,1436.8 2109.8,1433.1 2110.1,1432.6 2110.4,1431.9 2111.0,1429.9 2111.6,1429.2 2111.9,1429.5 2112.2,1429.1 2112.8,1429.8 2113.4,1431.2 2114.0,1432.6 2114.0,1432.4 2114.6,1433.8 2115.2,1436.5 2115.8,1438.3 2116.4,1441.4 2117.0,1441.7 2117.0,1442.5" fill="none" stroke="#737373" stroke-width="6.3" stroke-linejoin="round" stroke-linecap="butt" shape-rendering="crispEdges"/>
<path d="M65.0,838.9 65.6,835.3 66.2,842.6 66.8,839.1 67.4,838.6 68.0,837.4 68.6,842.8 69.2,837.4 69.8,842.3 70.4,839.1 71.0,840.9 71.6,840.3 72.2,842.6 72.8,843.2 73.4,838.4 74.0,844.4 74.6,843.7 75.2,844.7 75.8,846.1 76.4,838.0 77.0,847.4 77.6,838.1 78.2,840.9 78.8,843.9 79.4,846.0 80.0,845.1 80.6,844.6 81.2,845.3 81.8,841.0 82.4,844.2 83.0,851.2 83.6,837.5 83.6,843.7 84.2,844.1 84.8,842.0 85.4,844.1 86.0,844.8 86.6,843.8 87.2,844.3 87.8,841.5 88.4,846.2 89.0,842.9 89.6,841.6 90.2,850.6 90.8,843.4 91.4,843.8 92.0,840.0 92.6,846.6 93.2,842.8 93.8,844.0 94.4,848.3 95.0,848.0 95.6,844.8 96.2,848.6 96.8,848.5 97.4,847.3 98.0,845.4 98.6,849.4 99.2,844.5 99.8,849.6 100.4,848.9 101.0,846.0 101.6,846.7 101.7,855.4 102.2,844.3 102.8,849.8 103.4,849.1 104.0,851.4 104.6,851.5 105.2,853.3 105.8,853.1 106.4,851.6 107.0,848.4 107.6,851.3 108.2,853.3 108.2,853.1 108.8,854.7 109.4,851.4 110.0,848.9 110.6,850.5 111.2,852.7 111.8,854.8 112.4,855.1 113.0,854.7 113.6,849.3 114.2,851.9 114.8,854.9 115.4,854.5 116.0,856.2 116.6,850.7 117.2,856.0 117.8,846.8 118.4,853.2 119.0,854.9 119.6,853.8 120.2,857.3 120.8,854.3 121.4,854.9 122.0,856.7 122.6,852.3 123.2,858.7 123.8,852.7 124.4,856.0 125.0,854.8 125.6,853.0 126.2,854.3 126.8,854.8 127.4,852.8 127.6,859.4 128.0,851.4 128.6,854.1 129.2,857.1 129.8,855.9 130.4,857.8 131.0,851.8 131.6,855.6 132.2,856.8 132.8,860.4 133.4,856.0 134.0,858.5 134.6,863.8 135.2,860.8 135.8,861.5 136.4,861.0 137.0,864.7 137.6,858.0 138.2,861.2 138.8,862.4 139.4,864.5 140.0,864.5 140.5,859.4 140.6,864.9 141.2,862.4 141.8,871.0 142.4,863.1 143.0,866.2 143.6,861.6 144.2,862.1 144.8,860.1 145.4,864.3 146.0,865.2 146.6,858.1 147.2,862.6 147.8,863.3 148.3,864.9 148.4,859.9 149.0,865.6 149.6,858.5 150.2,862.6 150.8,860.9 151.4,861.6 152.0,865.6 152.6,864.2 153.2,870.9 153.8,862.9 154.4,861.2 155.0,866.6 155.6,864.2 156.2,862.3 156.8,867.2 157.4,867.6 158.0,859.6 158.6,862.5 159.2,866.4 159.8,861.3 160.4,867.4 161.0,862.7 161.2,863.9 161.6,863.2 162.2,860.1 162.8,862.6 163.4,861.5 164.0,862.6 164.6,866.8 165.2,866.2 165.8,864.5 166.4,866.2 167.0,869.7 167.6,866.1 168.2,865.4 168.8,868.4 169.0,865.1 169.4,863.4 170.0,871.3 170.6,863.6 171.2,866.8 171.8,867.5 172.4,865.4 173.0,871.4 173.6,871.5 174.2,867.3 174.8,861.9 175.4,867.2 176.0,861.3 176.6,867.6 177.2,868.4 177.8,866.9 178.4,869.5 179.0,866.4 179.6,863.3 180.2,864.5 180.6,868.7 180.8,859.5 181.4,866.1 182.0,861.8 182.6,871.5 183.2,860.9 183.8,858.8 184.4,867.6 185.0,867.4 185.6,863.0 186.2,864.6 186.8,861.4 187.4,864.8 188.0,867.8 188.6,866.5 189.2,865.8 189.8,864.6 190.4,869.6 191.0,871.9 191.6,871.3 192.2,864.0 192.8,868.6 193.4,866.1 194.0,867.8 194.6,870.2 195.2,876.9 195.8,870.6 196.4,870.0 197.0,868.7 197.6,871.9 198.2,865.8 198.8,872.4 198.8,872.8 199.4,867.7 200.0,874.6 200.6,876.4 201.2,867.7 201.8,871.9 202.4,868.2 203.0,867.4 203.6,871.5 204.2,869.9 204.8,865.2 205.4,864.4 206.0,869.0 206.6,864.2 207.2,864.5 207.8,867.1 208.4,866.3 209.0,868.6 209.6,872.9 210.2,863.7 210.8,871.2 211.4,863.0 212.0,866.8 212.6,869.4 213.2,871.4 213.8,862.6 214.4,868.8 215.0,865.2 215.6,865.4 216.2,866.0 216.8,868.4 216.9,869.4 217.4,865.9 218.0,865.0 218.6,865.6 219.2,863.8 219.8,865.9 220.4,871.5 220.7,866.2 221.0,867.2 221.6,868.5 222.2,868.3 222.8,867.9 223.4,867.6 224.0,868.3 224.6,873.6 225.2,871.8 225.8,870.2 226.4,868.0 227.0,870.4 227.6,870.9 228.2,867.8 228.8,867.0 229.4,870.9 230.0,868.2 230.6,868.1 231.1,870.2 231.2,870.1 231.8,867.5 232.4,874.8 233.0,871.1 233.6,869.8 234.2,872.3 234.8,874.2 235.4,870.4 236.0,863.1 236.6,866.9 237.2,870.1 237.8,870.7 238.4,874.2 239.0,871.6 239.6,869.4 240.2,872.4 240.8,868.2 241.4,872.6 242.0,865.4 242.6,874.0 243.2,869.1 243.8,871.9 244.4,868.8 245.0,865.6 245.6,868.9 246.2,869.7 246.6,870.3 246.8,870.0 247.4,870.9 248.0,868.3 248.6,865.3 249.2,868.8 249.8,866.3 250.4,869.6 251.0,869.5 251.6,870.5 252.2,869.0 252.8,872.2 253.4,872.2 254.0,872.5 254.6,871.8 255.2,872.9 255.8,873.5 256.4,871.3 257.0,865.2 257.6,869.6 258.2,875.8 258.8,865.7 259.4,872.0 260.0,870.2 260.6,876.0 261.2,873.2 261.8,871.5 262.4,872.4 263.0,868.0 263.6,878.0 264.2,874.6 264.7,870.2 264.8,871.0 265.4,874.1 266.0,870.6 266.6,870.1 267.2,874.5 267.8,871.8 268.4,873.2 269.0,874.5 269.6,869.8 270.2,876.2 270.8,874.6 271.4,869.3 272.0,868.7 272.6,872.6 273.2,873.3 273.8,870.6 274.4,872.0 275.0,872.2 275.1,872.0 275.6,874.1 276.2,877.3 276.8,878.4 277.4,871.2 278.0,873.3 278.6,871.9 279.2,873.3 279.8,872.5 280.4,877.3 281.0,876.2 281.6,872.1 282.2,877.3 282.8,871.8 283.4,874.1 284.0,875.2 284.6,872.7 285.2,871.6 285.8,874.5 286.4,875.7 287.0,873.1 287.6,878.3 288.2,875.4 288.8,872.1 289.4,875.5 290.0,872.7 290.6,874.8 291.2,875.4 291.8,875.0 292.4,878.0 293.0,874.3 293.6,875.2 294.2,873.1 294.8,870.1 295.4,872.6 295.8,874.5 296.0,867.7 296.6,875.3 297.2,875.5 297.8,877.4 298.4,875.5 299.0,877.2 299.6,874.1 300.2,872.7 300.8,874.6 301.4,870.6 302.0,875.5 302.6,869.3 303.2,874.7 303.8,869.6 304.4,869.2 305.0,867.1 305.6,868.3 306.2,868.2 306.8,863.8 307.4,862.5 308.0,865.8 308.6,862.1 309.2,866.5 309.8,867.7 310.0,863.9 310.4,872.4 311.0,865.2 311.6,862.9 312.2,870.1 312.8,867.0 313.4,864.7 314.0,866.1 314.6,870.2 315.2,871.0 315.8,867.0 316.4,864.6 317.0,866.2 317.6,869.7 318.2,868.2 318.8,869.3 319.4,869.5 320.0,872.8 320.6,868.0 321.2,868.7 321.8,863.7 322.4,868.9 323.0,864.8 323.6,867.4 324.2,869.7 324.2,867.9 324.8,869.3 325.4,863.9 326.0,868.8 326.6,870.5 327.2,870.4 327.8,871.7 328.4,869.0 329.0,872.9 329.6,870.0 330.2,871.0 330.8,874.6 331.4,876.1 332.0,874.9 332.6,870.1 333.2,872.3 333.8,872.1 334.4,873.8 334.6,877.8 335.0,876.8 335.6,870.7 336.2,874.8 336.8,874.5 337.4,872.1 338.0,872.8 338.6,876.8 339.2,873.3 339.8,873.2 340.4,872.3 341.0,864.4 341.6,873.6 342.2,875.6 342.8,878.5 343.4,879.2 344.0,870.2 344.6,872.7 345.2,871.1 345.8,873.1 346.4,869.3 347.0,872.6 347.6,873.4 348.2,873.1 348.8,872.3 349.4,873.8 350.0,870.4 350.6,869.8 351.2,870.7 351.8,870.0 352.4,871.8 352.7,873.6 353.0,870.6 353.6,866.6 354.2,866.9 354.8,872.5 355.4,873.2 356.0,873.3 356.6,865.4 357.2,874.5 357.8,879.8 358.4,872.9 359.0,872.7 359.6,876.4 360.2,871.8 360.8,871.1 361.4,877.1 362.0,871.7 362.6,876.0 363.0,872.8 363.2,873.4 363.8,871.9 364.4,875.6 365.0,874.2 365.6,873.9 366.2,873.2 366.8,872.9 367.4,877.3 368.0,876.6 368.6,876.9 369.2,871.3 369.8,875.4 370.4,869.7 371.0,878.1 371.6,878.5 372.2,877.3 372.8,874.7 373.4,874.6 374.0,872.4 374.6,870.4 375.2,874.7 375.8,874.9 376.4,870.8 377.0,868.0 377.6,870.1 378.2,870.3 378.8,869.5 379.4,866.6 380.0,867.5 380.6,871.1 381.1,875.7 381.2,867.5 381.8,871.6 382.4,870.6 383.0,872.5 383.6,872.2 384.2,875.1 384.8,872.9 385.4,871.6 386.0,874.1 386.6,874.3 387.2,876.4 387.8,876.0 388.4,876.2 388.9,874.9 389.0,874.4 389.6,874.3 390.2,875.5 390.8,878.1 391.4,879.0 392.0,873.7 392.6,874.8 393.2,875.4 393.8,880.4 394.4,873.3 395.0,875.9 395.6,869.5 396.2,876.7 396.8,873.3 397.4,875.7 398.0,878.1 398.6,872.0 399.2,869.4 399.8,876.4 400.4,873.6 401.0,876.5 401.6,878.9 402.2,872.2 402.8,871.2 403.4,872.1 404.0,869.7 404.6,872.0 405.2,876.8 405.8,871.7 406.4,869.8 407.0,874.7 407.6,874.9 408.2,867.9 408.8,873.5 409.4,871.9 410.0,874.1 410.6,870.9 411.2,871.7 411.8,869.9 412.2,878.3 412.4,874.1 413.0,874.6 413.6,874.7 414.2,873.3 414.8,876.6 415.4,875.1 416.0,880.7 416.6,876.8 417.2,879.1 417.8,872.2 418.4,874.6 419.0,875.4 419.6,873.2 420.2,876.0 420.8,876.5 421.4,875.2 422.0,880.3 422.5,876.9 422.6,878.6 423.2,874.5 423.8,877.7 424.4,876.2 425.0,876.1 425.6,880.7 426.2,878.9 426.8,875.0 427.4,875.1 428.0,879.5 428.6,875.3 429.2,876.6 429.8,880.7 430.4,880.2 431.0,876.9 431.6,876.6 432.2,877.1 432.8,875.9 433.4,876.3 434.0,879.2 434.6,876.9 435.2,876.3 435.5,875.0 435.8,877.5 436.4,874.5 437.0,875.7 437.6,874.7 438.2,875.1 438.8,875.3 439.4,874.6 440.0,874.9 440.6,874.4 441.2,873.4 441.8,872.3 442.4,869.2 443.0,866.0 443.6,863.4 444.2,861.2 444.8,858.9 445.0,858.8 445.4,860.2 446.0,861.5 446.6,864.7 447.2,867.0 447.8,871.5 448.4,874.2 449.0,874.6 449.6,875.9 450.2,875.6 450.8,876.4 451.4,877.3 452.0,877.7 452.6,877.1 453.2,878.5 453.6,875.8 453.8,879.3 454.4,873.4 455.0,878.6 455.6,877.0 456.2,875.3 456.8,877.5 457.4,877.3 458.0,877.9 458.6,880.1 459.2,876.5 459.8,876.6 460.4,878.4 461.0,877.2 461.6,878.4 462.2,875.4 462.8,880.6 463.4,876.1 464.0,881.0 464.6,880.9 465.2,877.0 465.8,880.7 466.4,882.6 467.0,878.6 467.6,880.4 468.2,877.1 468.8,882.3 469.1,880.2 469.4,883.8 470.0,882.2 470.6,879.8 471.2,877.6 471.8,882.1 472.4,882.7 473.0,878.9 473.6,882.1 474.2,880.7 474.8,878.8 475.4,877.5 476.0,879.1 476.6,881.7 477.2,876.7 477.8,878.7 478.4,878.6 479.0,877.0 479.6,876.2 480.2,879.6 480.8,881.1 481.4,877.6 482.0,875.2 482.6,878.0 483.2,877.0 483.8,878.3 484.4,874.9 484.6,879.5 485.0,876.2 485.6,880.3 486.2,877.4 486.8,876.4 487.4,877.2 488.0,879.3 488.6,879.4 489.2,880.7 489.8,875.2 490.4,877.0 491.0,878.3 491.6,873.7 492.2,878.1 492.8,880.4 493.4,877.6 494.0,879.2 494.6,877.8 495.2,879.0 495.8,876.4 496.4,881.5 497.0,880.9 497.6,879.3 498.2,883.0 498.8,879.6 499.4,878.0 500.0,873.3 500.6,875.8 501.2,879.9 501.8,882.1 502.4,877.4 502.7,880.7 503.0,877.2 503.6,878.3 504.2,877.5 504.8,878.0 505.4,877.6 506.0,879.2 506.6,875.5 507.2,881.8 507.8,879.2 508.4,873.2 509.0,873.8 509.6,881.7 510.2,874.5 510.5,877.9 510.8,874.5 511.4,883.6 512.0,873.8 512.6,881.5 513.2,879.3 513.8,878.1 514.4,878.7 515.0,877.8 515.6,875.4 515.7,881.2 516.2,884.2 516.8,879.3 517.4,880.8 518.0,881.6 518.6,875.9 519.2,877.8 519.8,874.8 520.4,880.0 521.0,875.6 521.6,881.5 522.2,880.1 522.8,875.5 523.4,878.9 523.4,878.3 524.0,876.4 524.6,877.5 525.2,878.2 525.8,873.5 526.4,881.1 527.0,876.6 527.6,876.2 528.2,879.9 528.8,875.9 529.4,882.6 530.0,881.5 530.6,878.7 531.2,882.3 531.8,882.8 532.4,877.8 533.0,874.1 533.6,874.9 534.2,877.1 534.8,880.9 535.4,880.4 536.0,878.6 536.6,883.8 537.2,878.2 537.8,880.4 538.4,875.8 539.0,877.0 539.6,878.8 540.2,881.3 540.8,873.0 541.4,882.0 541.5,876.3 542.0,880.9 542.6,878.9 543.2,878.5 543.8,878.8 544.4,879.6 545.0,878.9 545.6,878.6 546.2,878.0 546.8,877.6 547.4,876.8 548.0,873.8 548.6,870.3 549.2,866.1 549.8,861.1 550.4,855.7 551.0,851.4 551.6,848.2 551.9,847.8 552.2,848.5 552.8,851.8 553.4,857.2 554.0,862.7 554.6,868.2 555.2,872.5 555.8,877.2 556.4,878.8 557.0,879.8 557.6,881.0 558.2,881.7 558.8,882.3 559.4,882.0 560.0,882.8 560.6,883.1 561.2,884.0 561.8,883.0 562.4,882.2 563.0,882.4 563.6,883.3 564.2,885.1 564.8,880.2 564.8,880.9 565.4,880.0 566.0,882.1 566.6,875.5 567.2,885.4 567.8,882.1 568.4,879.1 569.0,880.9 569.6,880.4 570.2,879.6 570.8,880.8 571.4,887.5 572.0,888.3 572.6,875.8 573.2,881.3 573.8,881.7 574.4,877.9 575.0,880.2 575.6,880.3 576.2,881.0 576.8,877.3 577.2,878.5 577.4,883.7 578.0,883.3 578.6,883.7 579.2,883.8 579.8,879.8 580.4,884.1 581.0,882.0 581.6,885.4 582.2,882.9 582.8,885.3 583.4,882.3 584.0,888.0 584.6,884.8 585.2,886.1 585.8,883.5 586.4,889.0 587.0,888.0 587.5,889.5 587.6,883.7 588.2,886.9 588.8,885.0 589.4,883.9 590.0,884.8 590.6,882.4 591.2,885.3 591.8,879.8 592.4,880.1 592.7,880.1 593.0,883.2 593.6,880.0 594.2,879.0 594.8,883.7 595.4,886.2 596.0,883.1 596.6,885.9 597.2,885.0 597.8,886.9 597.9,887.3 598.4,882.5 599.0,889.9 599.6,885.9 600.2,888.1 600.8,887.7 601.4,883.1 602.0,889.3 602.6,884.1 603.2,882.6 603.8,886.1 604.4,890.3 605.0,888.5 605.6,878.7 606.2,883.7 606.8,885.0 606.9,883.5 607.4,882.6 608.0,883.6 608.6,882.5 609.2,889.3 609.8,886.0 610.4,883.0 611.0,886.3 611.6,889.7 612.2,885.1 612.8,889.0 613.4,883.0 614.0,885.3 614.6,893.1 615.2,886.6 615.8,883.3 616.4,890.5 617.0,886.2 617.6,889.6 618.2,886.9 618.8,883.2 619.4,891.6 620.0,887.2 620.6,883.4 621.2,890.2 621.8,887.4 622.4,891.9 623.0,888.7 623.6,887.0 624.2,886.0 624.8,885.9 625.0,886.2 625.4,885.9 626.0,885.6 626.6,885.1 627.2,884.3 627.8,882.8 628.4,879.1 629.0,875.2 629.6,870.7 630.2,864.7 630.8,856.7 631.4,846.3 632.0,833.2 632.6,817.6 633.2,800.9 633.8,785.4 634.4,774.7 634.9,771.6 635.0,771.8 635.6,777.5 636.2,790.1 636.8,806.2 637.4,822.7 638.0,837.4 638.6,849.5 639.2,859.1 639.8,866.3 640.4,871.7 641.0,875.6 641.6,878.8 642.2,882.1 642.8,884.1 643.4,885.1 644.0,885.6 644.6,885.8 645.2,886.3 645.8,886.5 646.4,886.5 647.0,887.4 647.6,887.2 648.2,887.4 648.3,887.9 648.8,886.4 649.4,886.8 650.0,884.4 650.6,883.0 651.2,879.0 651.8,876.8 652.4,875.7 653.0,874.9 653.5,874.4 653.6,874.7 654.2,875.1 654.8,875.5 655.4,877.3 656.0,878.6 656.6,880.7 657.2,884.7 657.8,885.5 658.4,885.6 659.0,886.4 659.6,888.0 659.9,887.8 660.2,887.7 660.8,888.2 661.4,887.9 662.0,887.8 662.6,886.4 663.2,889.7 663.8,892.3 664.4,887.0 665.0,887.4 665.6,890.9 666.2,891.1 666.8,891.6 667.4,888.4 668.0,890.2 668.6,888.4 669.2,890.6 669.8,886.8 670.4,890.5 671.0,886.2 671.6,894.5 672.2,885.9 672.8,889.8 673.4,892.5 674.0,889.0 674.2,890.8 674.6,886.7 675.2,891.4 675.8,892.1 676.4,891.7 677.0,887.8 677.6,891.9 678.2,889.1 678.8,888.1 679.4,886.6 680.0,888.6 680.6,887.8 681.2,886.8 681.8,886.6 681.9,887.2 682.4,886.2 683.0,888.5 683.6,889.2 684.2,890.3 684.8,891.0 685.4,895.8 686.0,896.2 686.6,898.0 687.1,897.8 687.2,898.0 687.8,896.5 688.4,897.7 689.0,895.7 689.6,893.9 690.2,893.5 690.8,894.4 691.4,892.2 692.0,890.5 692.6,887.9 693.2,890.5 693.8,889.1 694.4,887.3 694.9,889.2 695.0,887.5 695.6,886.6 696.2,888.3 696.8,888.5 697.4,885.1 698.0,891.8 698.6,886.0 699.2,888.4 699.8,885.8 700.4,885.5 701.0,886.1 701.6,884.9 702.2,886.3 702.8,887.5 703.4,883.9 704.0,888.2 704.6,888.4 705.2,886.7 705.2,887.9 705.8,887.6 706.4,887.6 707.0,887.1 707.6,886.8 708.2,886.4 708.8,885.9 709.4,885.2 710.0,883.9 710.6,880.8 711.2,876.8 711.8,872.3 712.4,866.1 713.0,857.4 713.6,845.7 714.2,831.1 714.8,814.6 715.4,799.4 716.0,789.9 716.3,788.5 716.6,789.7 717.2,798.9 717.8,813.8 718.4,830.0 719.0,844.1 719.6,855.1 720.2,863.0 720.8,868.3 721.4,871.5 722.0,872.9 722.6,872.6 723.2,870.7 723.8,867.0 724.4,861.0 725.0,852.3 725.6,840.5 726.2,826.2 726.8,811.3 727.4,799.5 728.0,795.0 728.0,795.0 728.6,799.8 729.2,811.9 729.8,827.2 730.4,842.0 731.0,854.3 731.6,863.7 732.2,870.6 732.8,876.0 733.4,880.7 734.0,882.2 734.6,883.1 735.2,883.8 735.8,884.3 736.4,884.7 737.0,885.2 737.6,885.3 738.2,885.3 738.8,886.2 739.4,888.8 740.0,884.7 740.1,888.2 740.6,889.6 741.2,884.6 741.8,885.9 742.4,883.0 743.0,881.4 743.6,880.6 744.2,879.7 744.8,877.8 745.4,878.3 745.8,877.5 746.0,880.2 746.6,880.4 747.2,879.9 747.8,880.9 748.4,883.0 749.0,885.9 749.6,885.9 750.2,886.5 750.8,889.4 751.4,887.0 751.8,887.3 752.0,889.4 752.6,887.9 753.2,888.4 753.8,887.5 754.4,887.2 755.0,886.8 755.6,885.5 756.2,884.9 756.8,886.0 757.4,884.2 758.0,883.7 758.6,883.3 759.2,882.5 759.5,882.1 759.8,883.9 760.4,881.2 761.0,881.3 761.6,879.2 762.2,876.7 762.8,875.5 763.4,874.9 764.0,873.2 764.6,871.7 765.2,870.8 765.2,871.4 765.8,871.6 766.4,872.4 767.0,874.7 767.6,876.6 768.2,880.2 768.8,884.2 769.4,885.5 770.0,886.4 770.6,887.7 771.2,888.4 771.8,888.7 772.4,888.2 772.5,888.1 773.0,887.2 773.6,885.7 774.2,882.4 774.8,875.7 775.4,868.7 776.0,859.7 776.6,848.9 777.2,836.8 777.8,825.3 778.4,817.0 779.0,813.9 779.0,813.9 779.6,817.4 780.2,826.4 780.8,838.4 781.4,850.9 782.0,862.2 782.6,871.7 783.2,879.3 783.8,886.8 784.4,889.5 785.0,891.4 785.6,893.6 786.2,896.2 786.8,898.3 787.4,899.5 788.0,900.2 788.6,900.9 789.2,901.3 789.8,901.3 790.4,901.6 790.6,902.6 791.0,901.8 791.6,904.8 792.2,902.2 792.8,902.5 793.4,900.3 794.0,899.3 794.6,897.6 795.2,895.6 795.8,896.9 796.4,895.4 797.0,893.1 797.6,893.4 798.2,892.9 798.8,891.3 799.4,891.7 800.0,890.1 800.6,890.6 801.2,890.9 801.8,888.9 802.4,890.7 803.0,889.7 803.0,886.5 803.6,889.4 804.2,889.6 804.8,890.5 805.4,890.1 806.0,894.0 806.6,892.4 807.2,895.8 807.8,896.4 808.4,898.1 809.0,896.8 809.6,900.3 810.2,898.7 810.8,902.8 811.3,901.3 811.4,900.7 812.0,900.9 812.6,901.8 813.2,899.3 813.8,900.5 814.4,899.1 815.0,899.8 815.6,897.9 816.2,899.7 816.8,901.4 817.4,897.7 818.0,899.4 818.6,901.5 819.2,900.1 819.8,901.5 820.3,897.0 820.4,897.9 821.0,899.3 821.6,900.7 822.2,897.2 822.8,899.3 823.4,895.3 824.0,898.6 824.6,893.6 825.2,897.1 825.8,892.8 826.3,892.8 826.4,891.9 827.0,893.5 827.6,898.4 828.2,896.5 828.8,896.0 829.4,896.4 830.0,899.4 830.6,896.6 831.2,900.6 831.8,901.3 832.4,900.7 833.0,902.1 833.3,901.5 833.6,902.5 834.2,901.5 834.8,902.5 835.4,900.0 836.0,901.0 836.6,900.1 837.2,898.1 837.8,897.3 838.4,901.6 839.0,894.3 839.6,893.5 840.2,900.0 840.8,900.2 841.4,899.8 842.0,901.1 842.6,898.7 843.2,898.9 843.8,896.8 844.4,897.4 845.0,899.6 845.6,896.4 846.2,893.2 846.7,892.4 846.8,896.8 847.4,892.3 848.0,893.8 848.6,893.9 849.2,900.5 849.8,895.7 850.4,895.8 851.0,898.7 851.6,897.8 852.2,893.5 852.8,896.8 853.4,893.0 854.0,898.4 854.6,899.8 855.2,898.2 855.8,902.5 856.4,893.4 856.6,901.9 857.0,897.9 857.6,898.9 858.2,897.0 858.8,898.2 859.4,899.0 860.0,894.8 860.6,896.2 861.2,895.2 861.8,894.8 862.4,898.0 863.0,896.6 863.6,898.3 864.2,896.8 864.8,897.6 865.4,901.8 865.6,899.4 866.0,895.9 866.6,896.7 867.2,899.1 867.8,900.4 868.4,898.5 869.0,898.2 869.6,900.7 870.2,904.1 870.8,903.1 871.4,902.9 872.0,904.4 872.6,904.2 873.2,906.7 873.4,903.5 873.8,905.1 874.4,905.6 875.0,903.0 875.6,903.7 876.2,903.0 876.8,903.5 877.4,900.3 878.0,898.4 878.6,897.7 878.6,899.6 879.2,896.9 879.8,901.5 880.4,897.9 881.0,897.8 881.6,898.7 882.2,900.5 882.8,899.2 883.4,901.0 884.0,900.0 884.6,902.1 885.2,904.2 885.8,900.4 886.4,902.5 887.0,900.1 887.6,903.6 888.2,907.6 888.8,906.9 889.4,909.3 890.0,906.4 890.6,904.4 891.2,908.4 891.5,910.5 891.8,906.3 892.4,904.8 893.0,903.4 893.6,906.4 894.2,908.6 894.8,902.9 895.4,904.2 896.0,903.3 896.6,906.1 897.2,903.3 897.8,906.5 898.4,901.6 899.0,902.8 899.6,902.8 900.2,902.3 900.8,902.8 901.4,902.6 901.8,902.8 902.0,902.3 902.6,902.0 903.2,901.1 903.8,901.2 904.4,900.2 905.0,897.3 905.6,895.9 906.2,893.7 906.8,890.6 907.4,889.5 908.0,888.9 908.6,887.7 909.2,886.8 909.6,887.7 909.8,886.8 910.4,887.7 911.0,889.2 911.6,889.3 912.2,891.5 912.8,892.2 913.4,894.2 914.0,897.3 914.6,899.3 915.2,901.0 915.8,901.8 916.4,902.1 917.0,903.1 917.4,903.8 917.6,902.6 918.2,901.5 918.8,901.9 919.4,901.4 920.0,901.8 920.6,900.3 921.2,897.0 921.8,896.0 922.4,893.0 923.0,893.2 923.6,892.5 924.2,889.4 924.8,889.7 925.4,888.2 926.0,887.7 926.4,888.2 926.6,888.3 927.2,888.1 927.8,888.8 928.4,889.9 929.0,891.7 929.6,894.2 930.2,895.2 930.8,895.9 931.4,899.7 932.0,899.7 932.6,902.5 933.2,902.9 933.8,903.9 934.4,904.5 935.0,904.4 935.5,904.5 935.6,905.8 936.2,904.5 936.8,906.2 937.4,904.0 938.0,904.2 938.6,907.0 939.2,905.4 939.8,905.2 940.4,907.5 941.0,901.6 941.6,903.9 942.2,906.5 942.8,910.1 943.4,909.2 944.0,908.7 944.6,906.6 945.2,909.0 945.8,907.7 946.4,905.2 947.0,906.4 947.6,913.2 948.2,909.3 948.4,909.2 948.8,911.3 949.4,911.6 950.0,910.1 950.6,910.0 951.2,908.6 951.8,915.5 952.4,913.0 953.0,911.7 953.6,911.9 954.2,910.1 954.8,914.4 955.4,916.1 956.0,911.7 956.6,912.7 957.2,914.5 957.5,912.5 957.8,911.3 958.4,910.3 959.0,912.3 959.6,910.7 960.2,910.6 960.8,907.2 961.4,907.4 962.0,905.2 962.6,903.0 963.2,904.4 963.8,903.6 963.9,902.3 964.4,903.5 965.0,902.0 965.6,901.1 966.2,900.5 966.8,899.0 967.4,897.8 968.0,895.6 968.6,894.3 969.2,893.8 969.8,893.9 970.4,893.8 970.4,893.0 971.0,893.7 971.6,893.7 972.2,893.7 972.8,896.6 973.4,898.8 974.0,899.3 974.6,900.0 975.2,899.6 975.6,899.0 975.8,898.6 976.4,896.7 977.0,895.1 977.6,892.8 978.2,890.4 978.8,886.7 979.4,882.2 980.0,877.1 980.6,871.2 981.2,865.8 981.8,861.7 982.4,859.8 982.5,859.7 983.0,860.1 983.6,863.1 984.2,868.2 984.8,873.3 985.4,878.4 986.0,882.8 986.6,885.9 987.2,889.1 987.8,891.1 988.4,892.7 989.0,893.9 989.6,895.4 990.2,895.5 990.8,895.7 991.4,896.7 992.0,896.8 992.4,897.7 992.6,896.3 993.2,897.8 993.8,897.4 994.4,900.7 995.0,901.4 995.6,903.7 996.2,903.9 996.8,904.8 997.4,906.1 998.0,906.5 998.6,906.4 999.2,909.5 999.8,908.2 1000.1,907.0 1000.4,905.5 1001.0,908.3 1001.6,909.2 1002.2,905.0 1002.8,907.4 1003.4,908.9 1004.0,907.2 1004.6,907.5 1005.2,910.5 1005.8,905.0 1006.4,904.2 1007.0,906.3 1007.6,906.9 1008.2,910.3 1008.8,910.6 1009.4,906.1 1010.0,908.0 1010.6,906.5 1011.2,906.9 1011.8,910.4 1012.4,906.1 1013.0,910.0 1013.6,907.7 1014.2,909.9 1014.8,906.3 1015.4,904.3 1015.7,911.9 1016.0,914.0 1016.6,912.0 1017.2,908.5 1017.8,908.8 1018.4,909.0 1019.0,908.8 1019.6,913.4 1020.2,910.3 1020.8,912.5 1021.4,909.6 1022.0,911.9 1022.6,907.8 1023.2,908.0 1023.8,907.7 1024.4,911.4 1024.7,912.7 1025.0,908.6 1025.6,909.5 1026.2,907.3 1026.8,907.0 1027.4,905.0 1028.0,910.1 1028.6,905.9 1029.2,905.2 1029.8,905.9 1030.4,905.3 1031.0,905.1 1031.6,904.1 1032.2,907.0 1032.8,904.4 1033.4,904.1 1034.0,902.7 1034.6,900.6 1035.2,901.3 1035.8,900.2 1036.4,900.8 1037.0,900.1 1037.6,898.8 1037.7,900.4 1038.2,899.2 1038.8,901.6 1039.4,900.3 1040.0,902.2 1040.6,903.3 1041.2,903.5 1041.8,905.3 1042.4,905.2 1043.0,905.9 1043.6,909.4 1044.2,908.1 1044.8,906.5 1045.4,908.7 1046.0,907.3 1046.6,906.1 1046.7,906.7 1047.2,910.4 1047.8,905.2 1048.4,906.7 1049.0,906.5 1049.6,907.1 1050.2,910.3 1050.8,908.0 1051.4,910.5 1052.0,906.8 1052.6,910.1 1053.2,907.3 1053.8,909.3 1054.4,906.9 1055.0,910.1 1055.6,911.1 1056.2,905.9 1056.8,906.1 1057.4,908.5 1058.0,907.7 1058.6,904.2 1059.2,906.4 1059.8,908.4 1060.4,911.0 1061.0,906.0 1061.6,905.3 1062.2,908.1 1062.8,906.9 1063.4,906.1 1064.0,906.6 1064.6,905.5 1064.8,908.2 1065.2,902.8 1065.8,906.3 1066.4,907.6 1067.0,906.8 1067.6,900.7 1068.2,905.2 1068.8,903.3 1069.4,909.2 1070.0,908.8 1070.6,906.3 1071.2,904.8 1071.8,907.2 1072.4,907.0 1073.0,901.6 1073.6,908.7 1074.2,905.7 1074.8,902.5 1075.4,907.6 1076.0,902.5 1076.6,906.4 1077.2,908.4 1077.8,908.6 1078.4,906.5 1079.0,904.1 1079.6,907.6 1080.2,907.5 1080.8,908.8 1081.4,902.6 1082.0,905.3 1082.6,905.5 1083.2,904.4 1083.6,904.3 1083.8,905.0 1084.4,902.5 1085.0,904.6 1085.6,905.7 1086.2,901.3 1086.8,905.1 1087.4,904.1 1088.0,905.8 1088.6,908.2 1089.2,904.5 1089.8,903.5 1090.4,908.9 1091.0,906.4 1091.6,903.0 1092.2,908.2 1092.8,907.9 1093.4,904.8 1094.0,907.7 1094.6,909.1 1095.2,905.7 1095.8,908.9 1096.4,908.4 1097.0,909.8 1097.6,911.6 1098.2,909.4 1098.8,909.4 1099.4,912.0 1100.0,911.3 1100.6,914.4 1101.2,910.0 1101.7,908.5 1101.8,913.7 1102.4,910.6 1103.0,909.6 1103.6,910.1 1104.2,912.4 1104.8,906.1 1105.4,903.2 1106.0,905.6 1106.6,905.0 1107.2,908.1 1107.8,905.1 1108.4,905.8 1109.0,904.6 1109.6,902.1 1110.2,906.1 1110.8,904.2 1111.4,906.0 1112.0,902.8 1112.1,900.5 1112.6,904.0 1113.2,905.8 1113.8,903.9 1114.4,901.8 1115.0,903.8 1115.6,907.0 1116.2,907.5 1116.8,904.3 1117.4,905.5 1118.0,903.4 1118.6,907.2 1119.2,907.9 1119.8,913.7 1120.4,908.8 1121.0,912.1 1121.6,910.7 1122.2,910.4 1122.8,913.3 1123.4,915.2 1124.0,911.5 1124.6,914.4 1125.0,915.4 1125.2,912.0 1125.8,914.3 1126.4,914.0 1127.0,914.9 1127.6,917.7 1128.2,912.6 1128.8,912.4 1129.4,915.2 1130.0,914.1 1130.6,913.5 1131.2,909.0 1131.8,913.3 1132.4,912.8 1133.0,912.1 1133.6,911.0 1134.2,911.0 1134.8,910.7 1135.4,914.1 1136.0,912.1 1136.6,912.4 1137.2,911.3 1137.8,911.7 1138.4,909.2 1139.0,912.4 1139.6,910.9 1140.2,911.0 1140.5,910.3 1140.8,910.4 1141.4,910.2 1142.0,909.4 1142.6,908.2 1143.2,908.1 1143.8,907.7 1144.4,905.1 1145.0,901.5 1145.6,900.3 1146.2,899.0 1146.8,897.2 1147.4,895.3 1148.0,893.9 1148.6,894.5 1149.2,893.6 1149.6,895.2 1149.8,894.0 1150.4,894.8 1151.0,894.8 1151.6,897.5 1152.2,900.3 1152.8,900.7 1153.4,901.9 1154.0,902.2 1154.6,904.5 1154.8,902.4 1155.2,904.9 1155.8,904.6 1156.4,902.0 1157.0,901.6 1157.6,900.9 1158.2,897.8 1158.8,897.4 1159.4,897.5 1160.0,895.6 1160.6,897.4 1161.2,896.6 1161.8,895.2 1162.4,895.7 1162.5,893.3 1163.0,895.0 1163.6,895.4 1164.2,896.1 1164.8,896.6 1165.4,897.9 1166.0,899.8 1166.6,900.2 1167.2,900.6 1167.8,903.1 1168.4,905.1 1169.0,906.6 1169.6,909.3 1170.2,910.6 1170.8,911.1 1171.4,911.2 1171.6,911.2 1172.0,910.1 1172.6,910.8 1173.2,912.5 1173.8,910.0 1174.4,911.4 1175.0,915.3 1175.6,910.6 1176.2,913.4 1176.8,915.3 1177.4,911.1 1178.0,909.3 1178.6,911.1 1179.2,914.3 1179.8,913.0 1180.4,916.6 1181.0,916.8 1181.6,912.0 1181.9,915.3 1182.2,914.3 1182.8,915.0 1183.4,912.9 1184.0,912.2 1184.6,912.9 1185.2,915.2 1185.8,913.1 1186.4,913.5 1187.0,913.5 1187.6,912.7 1188.2,911.3 1188.8,908.9 1189.4,911.5 1190.0,912.3 1190.6,911.3 1191.2,909.7 1191.8,913.0 1192.4,909.1 1193.0,912.0 1193.6,912.8 1194.2,912.0 1194.8,912.1 1194.9,911.2 1195.4,909.7 1196.0,907.7 1196.6,911.5 1197.2,911.9 1197.8,908.2 1198.4,915.5 1199.0,912.9 1199.6,912.8 1200.2,912.6 1200.8,912.4 1201.4,914.0 1202.0,913.7 1202.6,911.1 1203.2,913.3 1203.8,915.0 1204.4,913.5 1205.0,917.1 1205.6,916.2 1206.2,916.3 1206.8,916.5 1207.4,917.8 1208.0,910.7 1208.6,912.8 1209.2,915.2 1209.8,913.9 1210.4,914.7 1210.4,913.8 1211.0,911.2 1211.6,916.6 1212.2,917.5 1212.8,915.2 1213.4,912.6 1214.0,913.1 1214.6,917.4 1215.2,913.7 1215.8,916.9 1216.4,915.5 1217.0,916.7 1217.6,915.1 1218.2,914.2 1218.8,913.5 1219.4,912.2 1220.0,912.8 1220.6,913.7 1221.2,911.8 1221.8,914.7 1222.4,912.7 1223.0,913.7 1223.6,913.9 1224.2,908.9 1224.8,913.4 1225.4,911.8 1226.0,913.9 1226.6,911.3 1227.2,910.9 1227.8,908.6 1228.4,906.8 1228.5,910.7 1229.0,910.4 1229.6,909.4 1230.2,912.7 1230.8,909.2 1231.4,909.1 1232.0,912.3 1232.6,907.8 1233.2,906.2 1233.8,913.1 1234.4,909.0 1235.0,910.4 1235.6,905.4 1236.2,906.8 1236.8,908.2 1237.4,904.1 1238.0,904.5 1238.6,904.2 1239.2,905.8 1239.8,904.3 1240.1,903.9 1240.4,903.6 1241.0,904.4 1241.6,906.4 1242.2,904.1 1242.8,907.6 1243.4,909.2 1244.0,909.8 1244.6,910.6 1245.2,911.6 1245.8,914.3 1246.4,914.6 1247.0,914.6 1247.6,915.0 1248.2,914.2 1248.8,913.4 1249.2,914.7 1249.4,915.7 1250.0,916.8 1250.6,912.6 1251.2,913.4 1251.8,913.9 1252.4,918.0 1253.0,916.2 1253.6,916.1 1254.2,913.8 1254.8,917.4 1255.4,915.4 1256.0,914.6 1256.6,914.4 1257.2,915.0 1257.8,919.0 1258.4,915.5 1259.0,914.1 1259.6,916.6 1260.2,918.3 1260.8,914.3 1261.4,918.1 1262.0,911.7 1262.6,918.9 1263.2,918.7 1263.8,914.4 1264.4,917.2 1264.7,918.5 1265.0,920.0 1265.6,918.9 1266.2,917.0 1266.8,919.4 1267.4,918.0 1268.0,917.9 1268.6,921.9 1269.2,920.7 1269.8,920.4 1270.4,916.7 1271.0,918.0 1271.6,917.5 1272.2,922.5 1272.8,921.5 1273.4,922.1 1273.8,922.5 1274.0,919.9 1274.6,917.6 1275.2,919.1 1275.8,920.9 1276.4,920.1 1277.0,919.0 1277.6,920.5 1278.2,917.3 1278.8,919.3 1279.4,917.3 1280.0,917.1 1280.6,916.3 1281.2,916.5 1281.5,916.5 1281.8,916.1 1282.4,915.4 1283.0,914.0 1283.6,911.1 1284.2,907.9 1284.8,904.8 1285.4,900.8 1286.0,896.2 1286.6,890.3 1287.2,883.9 1287.8,877.6 1288.4,872.2 1289.0,869.2 1289.3,868.6 1289.6,869.0 1290.2,872.0 1290.8,877.0 1291.4,883.2 1292.0,889.5 1292.6,894.9 1293.2,899.5 1293.8,903.4 1294.4,906.1 1295.0,908.4 1295.6,910.2 1296.2,912.3 1296.8,913.8 1297.1,914.3 1297.4,914.6 1298.0,915.6 1298.6,915.8 1299.2,917.8 1299.8,917.1 1300.4,918.4 1301.0,914.8 1301.6,919.0 1302.2,918.5 1302.8,919.6 1303.4,916.8 1304.0,917.6 1304.6,918.6 1305.2,919.4 1305.8,919.0 1306.1,921.0 1306.4,920.7 1307.0,923.0 1307.6,917.1 1308.2,917.3 1308.8,921.1 1309.4,919.0 1310.0,917.4 1310.6,918.9 1311.2,919.6 1311.8,915.4 1312.4,920.6 1313.0,916.2 1313.6,920.5 1314.2,919.8 1314.8,915.7 1315.4,917.4 1316.0,917.8 1316.6,917.0 1317.2,916.0 1317.8,916.3 1318.4,919.5 1319.0,917.5 1319.6,914.9 1320.2,917.2 1320.8,917.2 1321.4,919.1 1322.0,920.7 1322.6,914.2 1323.2,920.5 1323.8,918.2 1324.4,919.5 1325.0,920.5 1325.6,918.1 1326.2,918.3 1326.8,921.2 1327.4,920.7 1328.0,920.1 1328.6,920.8 1329.2,918.3 1329.8,917.3 1330.4,918.7 1331.0,918.6 1331.6,922.1 1332.2,915.4 1332.8,913.4 1333.4,917.7 1334.0,918.5 1334.6,915.7 1334.6,921.7 1335.2,919.2 1335.8,915.6 1336.4,917.9 1337.0,917.6 1337.6,920.4 1338.2,918.7 1338.8,923.3 1339.4,919.6 1340.0,917.3 1340.6,920.1 1341.2,920.7 1341.8,923.2 1342.4,920.3 1343.0,916.8 1343.6,916.2 1344.2,923.9 1344.8,919.0 1345.4,918.7 1346.0,920.6 1346.6,921.5 1347.2,922.5 1347.8,923.3 1348.4,921.3 1349.0,917.9 1349.6,922.4 1350.2,917.1 1350.8,921.4 1351.4,923.7 1352.0,923.0 1352.6,916.8 1353.2,921.8 1353.8,920.2 1354.4,915.7 1355.0,920.1 1355.3,920.2 1355.6,918.6 1356.2,919.5 1356.8,923.2 1357.4,922.0 1358.0,922.7 1358.6,918.5 1359.2,923.3 1359.8,926.4 1360.4,922.6 1361.0,920.4 1361.6,919.6 1362.2,921.3 1362.8,918.5 1363.4,922.4 1364.0,920.4 1364.6,921.3 1365.2,920.4 1365.8,920.2 1366.4,918.3 1367.0,921.2 1367.6,916.7 1368.2,919.8 1368.8,920.1 1369.4,923.2 1370.0,923.1 1370.6,919.9 1371.2,922.2 1371.8,918.9 1372.4,918.4 1373.0,919.1 1373.4,921.0 1373.6,919.6 1374.2,916.2 1374.8,921.7 1375.4,920.6 1376.0,921.1 1376.6,920.8 1377.2,918.8 1377.8,921.8 1378.4,920.5 1379.0,920.9 1379.6,920.0 1380.2,923.9 1380.8,921.2 1381.4,924.0 1382.0,922.6 1382.6,918.0 1383.2,922.0 1383.8,922.8 1384.4,920.5 1385.0,918.3 1385.6,923.2 1386.2,920.9 1386.8,918.7 1387.4,922.8 1388.0,922.4 1388.6,925.5 1389.2,920.6 1389.8,921.7 1390.4,920.6 1391.0,922.7 1391.6,920.3 1392.2,918.9 1392.8,919.7 1393.4,919.4 1394.0,923.1 1394.6,922.4 1395.2,922.8 1395.8,918.2 1396.4,922.0 1397.0,920.4 1397.6,918.4 1398.2,924.1 1398.8,920.3 1399.2,922.6 1399.4,923.9 1400.0,917.8 1400.6,917.3 1401.2,922.9 1401.8,918.5 1402.4,922.7 1403.0,917.8 1403.6,918.5 1404.2,924.2 1404.8,923.4 1405.4,921.3 1406.0,921.7 1406.6,917.4 1407.2,919.1 1407.8,915.3 1408.4,922.9 1409.0,919.4 1409.6,914.8 1410.2,917.0 1410.8,921.8 1411.4,919.3 1412.0,919.2 1412.6,918.0 1413.2,915.9 1413.8,913.8 1414.4,918.0 1415.0,917.5 1415.6,918.4 1416.2,917.0 1416.8,916.3 1417.4,915.4 1417.4,915.5 1418.0,916.7 1418.6,918.3 1419.2,913.9 1419.8,914.8 1420.4,914.3 1421.0,910.2 1421.6,910.8 1422.2,909.7 1422.8,909.0 1423.4,908.5 1424.0,907.1 1424.6,906.3 1425.2,902.7 1425.8,905.1 1426.4,906.0 1427.0,904.8 1427.6,905.9 1428.2,906.5 1428.8,904.2 1429.4,900.6 1429.5,904.4 1430.0,904.3 1430.6,902.4 1431.2,902.4 1431.8,903.8 1432.4,905.9 1433.0,905.6 1433.6,907.3 1434.2,907.2 1434.8,907.9 1435.4,909.5 1436.0,911.4 1436.6,912.5 1437.2,914.2 1437.8,915.7 1438.4,917.9 1439.0,920.0 1439.6,919.5 1440.2,919.0 1440.6,917.2 1440.8,919.9 1441.4,918.5 1442.0,917.6 1442.6,916.9 1443.2,919.5 1443.8,917.0 1444.4,919.0 1445.0,922.1 1445.6,921.6 1446.2,919.4 1446.8,919.1 1447.4,919.5 1448.0,920.3 1448.4,920.1 1448.6,920.4 1449.2,918.8 1449.8,918.8 1450.4,918.0 1451.0,915.5 1451.6,911.6 1452.2,909.0 1452.8,906.8 1453.4,905.0 1454.0,905.5 1454.1,904.5 1454.6,905.4 1455.2,905.7 1455.8,906.8 1456.4,909.4 1457.0,910.2 1457.6,912.4 1458.2,916.4 1458.8,918.0 1459.4,919.0 1460.0,919.3 1460.6,920.2 1461.2,919.5 1461.3,920.0 1461.8,919.7 1462.4,918.5 1463.0,920.1 1463.6,920.2 1464.2,918.1 1464.8,915.8 1465.4,918.7 1466.0,919.3 1466.6,918.0 1467.2,919.9 1467.8,920.5 1468.4,921.5 1469.0,920.7 1469.6,921.8 1470.2,916.9 1470.8,921.5 1471.4,918.8 1472.0,915.3 1472.6,919.9 1473.2,918.6 1473.8,918.3 1474.4,922.6 1475.0,922.9 1475.6,922.3 1476.2,921.0 1476.8,918.7 1477.4,919.1 1478.0,913.3 1478.6,918.3 1479.2,917.0 1479.8,922.4 1480.4,914.7 1481.0,918.5 1481.6,918.1 1482.2,923.7 1482.8,916.6 1483.4,918.8 1484.0,916.9 1484.6,918.6 1485.2,917.2 1485.8,919.7 1486.4,916.6 1487.0,922.0 1487.6,919.8 1488.2,920.6 1488.8,920.0 1489.4,920.0 1489.8,919.2 1490.0,917.5 1490.6,918.7 1491.2,915.6 1491.8,919.7 1492.4,917.1 1493.0,916.1 1493.6,916.3 1494.2,914.9 1494.8,919.8 1495.4,915.7 1496.0,918.2 1496.6,919.1 1497.2,919.8 1497.8,920.4 1498.4,916.9 1499.0,917.0 1499.6,919.6 1500.2,920.5 1500.8,917.1 1501.4,920.9 1502.0,921.5 1502.6,920.8 1503.2,919.1 1503.8,921.3 1504.4,920.7 1505.0,914.8 1505.6,922.8 1506.2,919.2 1506.8,923.3 1507.4,918.5 1508.0,918.5 1508.6,915.4 1509.2,920.8 1509.8,919.2 1510.4,919.6 1511.0,917.4 1511.6,917.5 1512.2,917.5 1512.8,916.0 1513.4,917.7 1514.0,919.7 1514.6,919.5 1515.2,916.3 1515.7,918.1 1515.8,918.2 1516.4,916.3 1517.0,919.0 1517.6,917.9 1518.2,915.6 1518.8,918.3 1519.4,914.5 1520.0,916.5 1520.6,915.5 1521.2,911.6 1521.8,913.3 1522.4,912.7 1523.0,908.4 1523.6,908.4 1524.2,907.3 1524.8,905.9 1525.4,906.4 1526.0,904.1 1526.6,904.8 1527.2,904.3 1527.8,901.8 1528.4,904.0 1529.0,902.6 1529.6,902.6 1529.9,904.6 1530.2,903.2 1530.8,903.1 1531.4,904.5 1532.0,905.4 1532.6,906.4 1533.2,905.9 1533.8,907.7 1534.4,909.0 1535.0,908.2 1535.6,913.9 1536.2,913.3 1536.8,916.3 1537.4,915.4 1538.0,913.7 1538.6,915.8 1539.2,916.9 1539.8,915.4 1540.2,916.0 1540.4,916.2 1541.0,916.4 1541.6,916.6 1542.2,919.8 1542.8,916.0 1543.4,914.7 1544.0,915.6 1544.6,913.7 1545.2,915.1 1545.8,915.1 1546.4,914.1 1547.0,914.7 1547.6,913.5 1548.2,913.0 1548.8,915.0 1549.3,910.1 1549.4,911.9 1550.0,913.2 1550.6,913.5 1551.2,916.6 1551.8,917.6 1552.4,916.0 1553.0,913.3 1553.6,916.5 1554.2,913.7 1554.8,915.8 1555.4,915.1 1556.0,913.8 1556.6,914.7 1557.2,919.0 1557.8,918.9 1558.4,914.6 1559.0,917.8 1559.6,918.1 1559.6,919.1 1560.2,918.3 1560.8,918.9 1561.4,917.3 1562.0,920.3 1562.6,919.5 1563.2,915.0 1563.8,915.3 1564.4,918.7 1565.0,919.4 1565.6,917.5 1566.2,916.6 1566.8,919.7 1567.4,916.9 1568.0,919.1 1568.6,918.4 1569.2,919.7 1569.8,916.1 1570.4,919.4 1571.0,922.2 1571.6,920.6 1572.2,918.7 1572.8,926.4 1573.4,920.2 1574.0,918.3 1574.6,918.8 1575.2,920.2 1575.8,921.8 1576.4,917.0 1577.0,921.7 1577.6,925.1 1578.2,921.2 1578.8,924.4 1579.4,925.0 1580.0,922.7 1580.6,922.7 1581.2,923.7 1581.8,920.9 1582.4,922.0 1582.9,924.5 1583.0,918.3 1583.6,921.2 1584.2,921.0 1584.8,924.8 1585.4,922.6 1586.0,920.9 1586.6,922.4 1587.2,918.2 1587.8,921.0 1588.4,918.6 1589.0,920.2 1589.6,919.7 1590.2,920.6 1590.3,921.4 1590.8,920.8 1591.4,919.6 1592.0,918.2 1592.6,919.5 1593.2,917.8 1593.8,915.6 1594.4,913.5 1595.0,912.1 1595.6,910.9 1596.2,908.3 1596.8,906.6 1597.4,905.4 1598.0,904.1 1598.6,902.1 1599.2,901.4 1599.8,900.8 1600.4,901.0 1600.7,901.9 1601.0,900.3 1601.6,901.8 1602.2,902.8 1602.8,902.0 1603.4,904.1 1604.0,905.1 1604.6,907.3 1605.2,908.6 1605.8,909.7 1606.4,912.7 1607.0,913.7 1607.6,916.3 1608.2,918.4 1608.8,919.7 1609.4,919.0 1610.0,921.1 1610.6,920.7 1611.0,919.7 1611.2,919.2 1611.8,921.7 1612.4,919.7 1613.0,919.6 1613.6,920.4 1614.2,918.5 1614.8,922.0 1615.4,916.7 1616.0,919.3 1616.6,917.3 1617.2,918.2 1617.8,921.5 1618.4,918.7 1619.0,922.1 1619.6,919.2 1620.2,922.7 1620.8,917.2 1621.4,919.8 1622.0,923.8 1622.6,921.8 1623.2,920.9 1623.8,922.6 1624.4,921.1 1625.0,921.1 1625.6,921.5 1626.2,917.6 1626.6,921.3 1626.8,924.8 1627.4,922.2 1628.0,918.9 1628.6,923.7 1629.2,917.0 1629.8,918.3 1630.4,922.8 1631.0,921.5 1631.6,920.9 1632.2,921.9 1632.8,921.7 1633.4,918.9 1634.0,918.3 1634.6,917.4 1635.2,919.4 1635.8,921.0 1636.4,920.5 1637.0,916.3 1637.6,918.2 1638.2,921.0 1638.8,912.4 1639.4,918.1 1639.5,919.4 1640.0,919.2 1640.6,913.3 1641.2,919.1 1641.8,918.4 1642.4,917.0 1643.0,919.6 1643.6,919.9 1644.2,918.2 1644.8,917.7 1645.4,919.1 1646.0,923.0 1646.6,919.9 1647.2,918.4 1647.8,920.5 1648.4,919.1 1649.0,921.6 1649.6,924.2 1650.2,922.0 1650.8,921.7 1651.4,922.4 1652.0,920.2 1652.6,920.9 1653.2,920.5 1653.8,922.8 1654.4,922.3 1655.0,922.2 1655.6,926.8 1656.2,923.5 1656.8,924.8 1657.4,922.5 1657.6,918.1 1658.0,923.4 1658.6,918.3 1659.2,921.5 1659.8,917.0 1660.4,920.3 1661.0,921.2 1661.6,926.8 1662.2,920.2 1662.8,922.9 1663.4,920.2 1664.0,921.6 1664.6,918.9 1665.2,921.4 1665.8,919.2 1666.4,919.6 1667.0,920.5 1667.6,921.2 1668.2,923.9 1668.8,924.3 1669.4,919.5 1670.0,918.3 1670.6,922.1 1671.2,922.7 1671.8,920.7 1672.4,922.1 1673.0,922.1 1673.6,919.2 1674.2,917.5 1674.8,923.4 1675.4,923.0 1676.0,918.1 1676.6,920.4 1677.2,919.0 1677.8,919.4 1678.4,918.0 1679.0,916.3 1679.6,917.5 1680.2,922.0 1680.8,919.5 1681.4,917.4 1682.0,923.1 1682.6,918.0 1683.2,920.4 1683.8,916.5 1684.4,920.8 1685.0,922.1 1685.6,918.7 1686.2,920.6 1686.8,918.1 1687.4,922.0 1688.0,923.1 1688.6,921.8 1689.2,921.3 1689.8,923.0 1690.4,922.2 1691.0,924.1 1691.6,922.7 1692.2,924.2 1692.8,918.3 1693.4,921.0 1693.8,917.4 1694.0,920.3 1694.6,922.0 1695.2,922.2 1695.8,919.7 1696.4,921.1 1697.0,919.7 1697.6,920.6 1698.2,923.6 1698.8,922.7 1699.4,921.7 1700.0,922.9 1700.6,922.1 1701.2,918.6 1701.8,921.4 1702.4,922.6 1703.0,920.8 1703.6,922.9 1704.2,921.3 1704.8,925.2 1705.4,921.5 1706.0,925.2 1706.6,923.7 1707.2,921.2 1707.8,923.2 1708.4,923.7 1709.0,920.2 1709.4,922.8 1709.6,923.1 1710.2,919.7 1710.8,922.0 1711.4,921.1 1712.0,918.6 1712.6,921.2 1713.2,925.6 1713.8,919.7 1714.4,921.3 1715.0,917.7 1715.6,923.0 1716.2,920.6 1716.8,921.9 1717.4,920.5 1718.0,921.9 1718.6,919.7 1719.2,922.1 1719.8,921.9 1720.4,922.2 1721.0,918.7 1721.6,921.2 1722.2,920.7 1722.3,924.8 1722.8,923.5 1723.4,920.8 1724.0,920.6 1724.6,922.2 1725.2,920.5 1725.8,921.0 1726.4,921.6 1727.0,920.8 1727.6,926.4 1728.2,920.2 1728.8,922.5 1729.4,928.0 1730.0,923.7 1730.6,924.8 1731.2,925.8 1731.8,921.4 1732.4,924.7 1733.0,926.4 1733.6,921.1 1734.2,929.4 1734.8,928.2 1735.2,923.1 1735.4,924.6 1736.0,927.5 1736.6,924.6 1737.2,925.2 1737.8,926.6 1738.4,921.9 1739.0,926.9 1739.6,926.9 1740.2,925.7 1740.8,924.6 1741.4,926.9 1742.0,923.4 1742.6,924.9 1743.2,923.6 1743.8,920.5 1744.4,924.2 1745.0,923.5 1745.6,923.1 1746.2,923.6 1746.8,921.7 1747.4,921.0 1748.0,922.2 1748.2,923.5 1748.6,920.6 1749.2,923.8 1749.8,920.3 1750.4,921.3 1751.0,922.1 1751.6,920.4 1752.2,922.5 1752.8,919.2 1753.4,922.3 1754.0,920.4 1754.6,923.7 1755.2,920.8 1755.8,923.9 1756.4,921.5 1757.0,924.9 1757.6,922.8 1758.2,924.5 1758.8,923.8 1759.4,924.2 1760.0,924.1 1760.6,922.0 1761.2,924.7 1761.8,924.7 1762.4,924.0 1763.0,927.1 1763.6,923.8 1763.7,926.1 1764.2,923.9 1764.8,924.6 1765.4,923.2 1766.0,924.9 1766.6,923.9 1767.2,922.1 1767.8,923.4 1768.4,922.1 1769.0,920.1 1769.6,918.5 1770.2,915.7 1770.8,916.0 1771.4,912.3 1772.0,913.5 1772.6,912.2 1773.2,911.7 1773.8,911.4 1774.0,911.6 1774.4,912.2 1775.0,912.4 1775.6,913.2 1776.2,914.0 1776.8,915.0 1777.4,914.2 1778.0,916.0 1778.6,919.6 1779.2,920.1 1779.8,922.9 1780.4,921.9 1781.0,922.7 1781.6,924.1 1782.2,923.8 1782.8,925.3 1783.4,924.8 1784.0,925.6 1784.4,923.4 1784.6,927.0 1785.2,925.6 1785.8,923.5 1786.4,925.0 1787.0,924.2 1787.6,926.4 1788.2,926.1 1788.8,926.8 1789.4,925.0 1790.0,922.6 1790.6,926.3 1791.2,923.0 1791.8,930.3 1792.4,923.0 1793.0,925.8 1793.6,928.3 1794.2,924.5 1794.8,929.3 1795.4,925.7 1796.0,922.3 1796.6,924.9 1797.2,924.3 1797.8,925.3 1798.4,926.6 1799.0,923.5 1799.6,925.4 1800.2,922.2 1800.8,922.7 1801.4,923.8 1802.0,925.4 1802.6,921.5 1803.2,923.2 1803.8,925.8 1804.4,923.7 1805.0,922.8 1805.6,925.3 1806.2,923.6 1806.8,923.4 1807.4,924.0 1808.0,926.6 1808.6,925.7 1809.2,927.8 1809.8,924.6 1810.4,923.5 1811.0,922.2 1811.6,924.4 1812.2,924.6 1812.8,922.3 1812.8,927.5 1813.4,925.6 1814.0,921.3 1814.6,925.3 1815.2,924.2 1815.8,924.8 1816.4,926.3 1817.0,922.5 1817.6,924.3 1818.2,928.3 1818.8,927.0 1819.4,927.5 1820.0,924.3 1820.6,924.1 1821.2,922.6 1821.8,925.9 1822.4,929.6 1823.0,924.1 1823.6,927.1 1824.2,924.9 1824.8,925.7 1825.4,928.8 1826.0,925.2 1826.6,926.8 1827.2,922.9 1827.8,922.0 1828.4,924.7 1829.0,925.0 1829.6,927.0 1830.2,926.0 1830.8,921.7 1831.4,929.1 1832.0,925.0 1832.6,926.1 1833.2,926.9 1833.8,925.0 1834.4,926.1 1835.0,925.6 1835.6,926.3 1836.2,923.3 1836.8,920.7 1837.4,924.7 1838.0,925.5 1838.6,926.6 1838.7,929.3 1839.2,925.9 1839.8,928.0 1840.4,921.3 1841.0,923.2 1841.6,924.6 1842.2,923.9 1842.8,924.7 1843.4,921.5 1844.0,926.1 1844.6,923.3 1845.2,925.4 1845.8,925.9 1846.4,922.4 1847.0,924.4 1847.6,924.2 1848.2,923.4 1848.8,922.1 1849.4,923.4 1850.0,925.9 1850.6,924.5 1851.2,925.7 1851.8,926.2 1852.4,923.2 1853.0,923.9 1853.6,926.9 1854.2,925.5 1854.8,923.8 1855.4,923.5 1856.0,924.3 1856.6,922.0 1857.2,923.5 1857.8,922.6 1858.4,925.5 1859.0,925.9 1859.6,923.2 1860.2,927.9 1860.8,922.1 1861.4,923.3 1862.0,923.0 1862.6,924.8 1863.2,923.9 1863.8,925.4 1864.4,925.1 1864.6,925.1 1865.0,926.5 1865.6,924.1 1866.2,923.5 1866.8,924.1 1867.4,923.7 1868.0,922.5 1868.6,925.4 1869.2,922.9 1869.8,925.7 1870.4,926.0 1871.0,923.6 1871.6,925.4 1872.2,924.2 1872.8,927.7 1873.4,924.6 1874.0,927.2 1874.6,924.5 1875.2,925.9 1875.8,932.4 1876.4,926.8 1877.0,925.1 1877.6,926.2 1878.2,926.9 1878.8,927.0 1879.4,926.7 1880.0,929.7 1880.6,929.6 1881.2,927.9 1881.8,931.4 1882.4,928.4 1883.0,926.0 1883.6,928.1 1884.2,928.7 1884.8,929.4 1885.3,923.6 1885.4,926.8 1886.0,928.2 1886.6,929.3 1887.2,928.7 1887.8,930.6 1888.4,927.4 1889.0,929.7 1889.6,926.1 1890.2,929.6 1890.8,926.3 1891.4,929.7 1892.0,928.6 1892.6,926.1 1893.2,929.9 1893.8,926.8 1894.4,927.2 1895.0,927.1 1895.6,928.2 1896.2,931.4 1896.8,928.2 1897.4,929.9 1898.0,931.0 1898.6,926.5 1899.2,928.7 1899.8,928.3 1900.4,925.8 1901.0,925.8 1901.6,924.8 1902.2,927.5 1902.8,925.4 1903.4,926.2 1904.0,927.9 1904.6,926.7 1905.2,930.4 1905.8,927.7 1906.4,927.5 1907.0,922.7 1907.6,925.7 1908.2,926.2 1908.8,925.9 1909.4,928.2 1910.0,927.5 1910.6,922.8 1911.2,925.7 1911.8,927.5 1912.4,925.3 1913.0,926.0 1913.6,925.6 1914.2,928.8 1914.8,929.2 1915.4,929.2 1916.0,927.7 1916.3,924.9 1916.6,928.5 1917.2,930.1 1917.8,931.0 1918.4,927.3 1919.0,927.0 1919.6,927.1 1920.2,928.1 1920.8,926.3 1921.4,929.3 1922.0,929.4 1922.6,927.7 1923.2,924.1 1923.8,929.4 1924.4,928.1 1925.0,925.0 1925.6,930.6 1926.2,927.1 1926.8,926.9 1927.4,927.9 1928.0,924.8 1928.6,927.3 1929.2,927.1 1929.8,927.0 1930.4,925.1 1931.0,928.1 1931.6,928.7 1932.2,925.5 1932.8,927.0 1933.4,927.2 1934.0,927.1 1934.6,925.1 1935.2,925.7 1935.8,927.4 1936.4,926.3 1937.0,928.9 1937.6,927.1 1938.2,928.8 1938.8,927.1 1939.4,929.0 1940.0,930.2 1940.6,923.6 1941.2,929.9 1941.8,927.7 1942.4,928.4 1943.0,928.9 1943.6,925.3 1944.2,929.3 1944.8,925.0 1945.4,926.9 1946.0,925.6 1946.6,927.0 1947.2,931.4 1947.8,928.3 1948.4,929.4 1949.0,927.9 1949.6,927.0 1950.2,928.6 1950.8,930.7 1951.4,924.7 1952.0,930.2 1952.6,929.8 1953.2,925.0 1953.8,927.3 1954.4,930.0 1955.0,931.0 1955.6,930.8 1956.2,927.7 1956.8,930.3 1957.4,929.7 1958.0,926.5 1958.6,927.0 1959.2,925.2 1959.8,929.3 1960.4,926.7 1961.0,930.0 1961.6,926.1 1962.2,929.1 1962.8,928.2 1963.4,927.1 1964.0,928.3 1964.6,929.3 1965.2,926.6 1965.8,929.2 1966.4,928.1 1967.0,928.3 1967.6,929.7 1968.1,927.3 1968.2,926.8 1968.8,927.5 1969.4,930.4 1970.0,928.9 1970.6,928.1 1971.2,926.8 1971.8,927.5 1972.4,928.8 1973.0,929.2 1973.6,929.8 1974.2,929.3 1974.8,930.6 1975.4,928.0 1976.0,926.2 1976.6,928.0 1977.2,930.0 1977.8,930.0 1978.4,929.1 1979.0,929.0 1979.6,927.3 1980.2,930.2 1980.8,930.1 1981.4,927.1 1982.0,929.9 1982.6,928.9 1983.2,925.9 1983.8,928.7 1984.4,925.9 1985.0,929.9 1985.6,928.6 1986.2,926.4 1986.8,929.3 1987.4,927.6 1988.0,931.2 1988.6,929.9 1989.2,928.7 1989.8,930.9 1990.4,927.8 1991.0,930.6 1991.6,929.9 1992.2,929.8 1992.8,925.7 1993.4,928.1 1994.0,928.1 1994.6,928.3 1995.2,929.5 1995.8,927.4 1996.4,926.0 1997.0,930.4 1997.6,930.2 1998.2,926.1 1998.8,929.6 1999.4,929.0 2000.0,930.1 2000.6,927.9 2001.2,929.2 2001.8,927.3 2002.4,929.4 2003.0,929.4 2003.6,928.9 2004.2,932.2 2004.8,930.7 2005.4,929.3 2006.0,929.4 2006.6,932.9 2007.2,928.4 2007.8,928.4 2008.4,929.0 2009.0,928.1 2009.6,929.8 2010.2,929.6 2010.8,928.6 2011.4,930.3 2012.0,931.7 2012.6,927.8 2013.2,931.7 2013.8,927.7 2014.4,928.3 2015.0,927.2 2015.6,929.3 2016.2,930.7 2016.8,930.0 2017.4,933.1 2018.0,929.3 2018.6,929.6 2019.2,926.5 2019.8,932.5 2019.8,925.9 2020.4,930.1 2021.0,930.4 2021.6,930.4 2022.2,927.8 2022.8,926.4 2023.4,931.1 2024.0,927.5 2024.6,930.0 2025.2,928.0 2025.8,928.8 2026.4,928.5 2027.0,929.6 2027.6,929.6 2028.2,931.8 2028.8,927.8 2029.4,928.5 2030.0,932.9 2030.6,926.9 2031.2,929.8 2031.8,931.4 2032.4,927.9 2033.0,928.3 2033.6,931.2 2034.2,923.5 2034.8,930.6 2035.4,925.6 2036.0,927.2 2036.6,930.6 2037.2,928.7 2037.8,930.3 2038.4,932.6 2039.0,924.4 2039.6,930.7 2040.2,927.1 2040.8,927.5 2041.4,926.9 2042.0,928.5 2042.6,929.3 2043.2,926.4 2043.8,928.2 2044.4,929.1 2045.0,929.3 2045.6,930.5 2046.2,927.8 2046.8,927.8 2047.4,930.1 2048.0,929.1 2048.6,927.2 2049.2,927.8 2049.8,927.7 2050.4,929.5 2051.0,924.7 2051.6,926.5 2052.2,928.1 2052.8,927.1 2053.4,927.4 2054.0,928.4 2054.6,927.4 2055.2,927.2 2055.8,928.8 2056.4,926.8 2057.0,926.0 2057.6,931.9 2058.2,930.2 2058.8,929.0 2059.4,927.7 2060.0,927.9 2060.6,930.8 2061.2,929.5 2061.8,927.0 2062.4,926.4 2063.0,929.0 2063.6,928.7 2064.2,924.8 2064.8,931.8 2065.4,931.3 2066.0,927.1 2066.6,925.5 2067.2,931.6 2067.8,928.0 2068.4,928.2 2069.0,930.3 2069.6,927.1 2070.2,929.2 2070.8,929.9 2071.4,926.6 2071.5,927.8 2072.0,928.5 2072.6,928.5 2073.2,929.2 2073.8,929.2 2074.4,925.8 2075.0,927.0 2075.6,926.7 2076.2,931.6 2076.8,925.9 2077.4,929.1 2078.0,928.3 2078.6,928.2 2079.2,927.3 2079.8,928.0 2080.4,927.8 2081.0,930.2 2081.6,927.6 2082.2,926.8 2082.8,927.2 2083.4,929.6 2084.0,926.7 2084.6,923.5 2085.2,927.8 2085.8,926.4 2086.4,923.5 2087.0,926.0 2087.6,925.1 2088.2,928.4 2088.8,929.9 2089.4,928.0 2090.0,926.2 2090.6,925.1 2091.2,929.4 2091.8,929.4 2092.4,929.8 2093.0,928.8 2093.6,929.8 2094.2,926.7 2094.8,930.0 2095.4,927.9 2096.0,929.5 2096.6,931.1 2097.2,927.5 2097.8,928.3 2098.4,931.9 2099.0,929.8 2099.6,931.6 2100.2,928.0 2100.8,928.3 2101.4,930.3 2102.0,928.9 2102.6,926.3 2103.2,928.7 2103.8,930.0 2104.4,929.4 2105.0,930.9 2105.6,930.0 2106.2,930.5 2106.8,927.9 2107.4,929.3 2108.0,928.8 2108.6,927.7 2109.2,926.1 2109.8,929.6 2110.4,927.6 2111.0,931.5 2111.6,928.7 2112.2,927.8 2112.8,931.5 2113.4,927.0 2114.0,927.0 2114.6,929.1 2115.2,929.3 2115.8,928.5 2116.4,928.6 2117.0,928.2 2117.0,928.5" fill="none" stroke="#fd3c3c" stroke-width="6.3" stroke-linejoin="round" stroke-linecap="butt" shape-rendering="crispEdges"/>
<path d="M65.0,626.1 65.6,622.5 66.2,622.7 66.8,625.5 67.4,626.5 68.0,627.8 68.6,626.6 69.2,632.6 69.8,626.7 70.4,628.1 71.0,626.2 71.6,624.9 72.2,626.5 72.8,629.3 73.4,623.2 74.0,620.0 74.6,623.4 75.2,628.2 75.8,623.0 76.4,626.7 77.0,630.1 77.6,627.7 78.2,620.1 78.8,626.7 79.4,624.1 80.0,625.3 80.6,622.7 81.2,626.7 81.8,628.3 82.4,625.2 83.0,623.2 83.6,623.7 83.6,630.6 84.2,626.0 84.8,624.6 85.4,627.8 86.0,623.7 86.6,624.0 87.2,621.6 87.8,624.2 88.4,622.7 89.0,625.0 89.6,621.5 90.2,621.0 90.8,620.6 91.4,621.1 92.0,620.4 92.6,620.6 92.7,620.4 93.2,621.7 93.8,622.0 94.4,623.8 95.0,628.1 95.6,631.3 96.2,633.1 96.8,635.1 97.4,636.2 97.9,636.8 98.0,637.5 98.6,637.0 99.2,638.3 99.8,638.0 100.4,639.6 101.0,635.2 101.6,638.9 102.2,642.0 102.8,643.4 103.4,641.3 104.0,639.2 104.6,644.7 105.2,646.5 105.8,638.1 106.4,643.1 107.0,644.4 107.6,644.3 108.2,639.7 108.8,644.5 109.4,644.1 109.5,643.2 110.0,646.4 110.6,646.6 111.2,642.9 111.8,648.0 112.4,641.0 113.0,648.7 113.6,640.7 114.2,647.0 114.7,640.9 114.8,645.0 115.4,646.0 116.0,642.6 116.6,646.4 117.2,642.8 117.8,644.3 118.4,646.5 119.0,646.9 119.6,648.3 120.2,649.2 120.8,654.8 121.4,650.8 122.0,649.4 122.6,649.5 123.2,649.8 123.7,650.7 123.8,648.6 124.4,654.5 125.0,651.2 125.6,648.4 126.2,648.9 126.8,653.3 127.4,652.2 128.0,649.7 128.6,649.0 129.2,649.2 129.8,652.9 130.4,651.0 131.0,647.5 131.6,653.4 132.2,645.1 132.8,650.3 133.4,656.6 134.0,654.6 134.6,646.3 135.2,650.5 135.8,650.1 136.4,653.3 137.0,652.2 137.6,653.7 138.2,652.7 138.8,652.5 139.3,649.9 139.4,650.7 140.0,651.4 140.6,651.0 141.2,656.4 141.8,656.2 142.4,654.1 143.0,659.2 143.1,656.3 143.6,658.7 144.2,656.4 144.8,655.5 145.4,655.2 146.0,654.4 146.6,655.4 147.2,651.2 147.8,657.0 148.4,653.3 149.0,654.9 149.6,656.6 150.2,652.1 150.8,651.0 151.4,660.6 152.0,650.7 152.6,653.5 153.2,657.3 153.5,657.3 153.8,655.2 154.4,652.8 155.0,659.9 155.6,658.3 156.2,656.6 156.8,656.6 157.4,659.6 158.0,660.8 158.6,657.7 159.2,657.7 159.8,659.6 160.4,651.1 161.0,662.6 161.6,654.7 162.2,657.7 162.8,659.9 163.4,657.9 164.0,661.9 164.6,664.2 165.2,658.7 165.8,660.6 166.4,660.3 167.0,662.0 167.6,658.6 168.2,658.2 168.8,657.9 169.0,658.9 169.4,661.4 170.0,655.5 170.6,660.8 171.2,658.2 171.8,657.8 172.4,653.7 173.0,656.2 173.6,661.8 174.2,657.3 174.8,663.3 175.4,656.5 176.0,655.4 176.6,660.0 177.2,656.4 177.8,660.7 178.4,662.2 179.0,660.7 179.6,659.3 180.2,657.2 180.8,660.1 181.4,660.0 182.0,658.5 182.6,658.7 183.2,657.8 183.2,659.4 183.8,659.5 184.4,659.9 185.0,662.2 185.6,663.5 186.2,663.9 186.8,663.9 187.1,663.5 187.4,665.6 188.0,664.2 188.6,666.4 189.2,665.5 189.8,667.9 190.4,664.6 191.0,664.6 191.6,666.2 192.2,666.1 192.8,665.3 193.4,665.8 194.0,667.6 194.6,666.0 195.2,662.4 195.8,663.8 196.4,670.5 197.0,664.7 197.6,666.2 198.2,665.9 198.8,665.9 199.4,666.8 200.0,669.8 200.6,667.1 201.2,665.9 201.8,667.4 202.4,668.7 203.0,663.3 203.6,671.3 204.2,664.6 204.8,668.1 205.2,670.7 205.4,669.6 206.0,670.0 206.6,668.5 207.2,665.9 207.8,670.3 208.4,672.6 209.0,666.0 209.6,664.7 209.9,664.2 210.2,664.2 210.8,664.3 211.4,667.3 212.0,664.8 212.6,669.7 213.2,665.6 213.8,665.0 214.4,667.4 215.0,668.8 215.6,668.1 215.6,669.2 216.2,668.0 216.8,667.7 217.4,668.4 218.0,666.9 218.6,667.8 219.2,668.7 219.8,664.9 220.4,674.5 221.0,664.7 221.6,669.7 222.2,671.6 222.8,670.7 223.4,673.6 224.0,671.3 224.6,669.2 225.2,671.4 225.8,672.9 226.4,674.5 227.0,670.0 227.6,672.6 228.2,670.6 228.8,667.0 229.4,664.7 230.0,668.2 230.6,667.3 231.1,663.9 231.2,670.7 231.8,672.4 232.4,671.8 233.0,666.8 233.6,668.3 234.2,666.6 234.8,669.9 235.4,669.7 236.0,670.2 236.6,669.5 237.2,674.1 237.8,671.2 238.4,670.9 239.0,671.3 239.6,675.9 240.2,670.9 240.8,673.4 241.4,669.4 242.0,674.5 242.6,672.3 243.2,667.5 243.8,675.3 244.4,668.8 245.0,669.6 245.6,674.1 246.2,674.7 246.8,673.0 247.4,672.7 248.0,672.2 248.6,672.8 249.2,671.7 249.8,670.8 250.4,676.3 251.0,672.5 251.6,676.7 252.2,677.5 252.8,675.5 253.4,674.8 254.0,670.6 254.4,671.4 254.6,671.4 255.2,672.0 255.8,675.6 256.4,670.5 257.0,675.7 257.6,677.1 258.2,675.6 258.8,676.9 259.4,667.5 260.0,674.5 260.6,675.6 261.2,675.1 261.8,675.2 262.4,674.5 263.0,674.2 263.6,674.8 264.2,677.8 264.8,672.5 265.4,674.5 266.0,677.8 266.6,675.1 267.2,675.7 267.8,673.0 268.4,673.8 269.0,676.8 269.6,670.3 270.2,673.7 270.8,677.0 271.4,676.9 272.0,677.0 272.5,677.9 272.6,671.8 273.2,671.8 273.8,675.4 274.4,672.9 275.0,671.6 275.6,676.0 276.2,677.6 276.8,678.2 277.4,676.8 278.0,675.6 278.6,681.3 279.2,675.9 279.8,675.8 280.4,675.9 281.0,676.9 281.6,676.8 282.2,678.2 282.8,675.7 283.4,678.8 284.0,680.0 284.6,679.6 285.2,678.0 285.8,677.1 286.4,682.7 287.0,678.4 287.6,682.6 288.0,683.6 288.2,673.4 288.8,681.1 289.4,679.0 290.0,676.1 290.6,680.3 291.2,680.4 291.8,679.4 292.4,680.7 293.0,678.3 293.6,678.4 294.2,682.9 294.8,679.5 295.4,675.8 296.0,672.4 296.6,676.5 297.2,674.4 297.8,675.8 298.4,679.6 299.0,677.2 299.6,677.1 300.2,678.0 300.8,683.8 301.4,683.3 302.0,679.8 302.6,678.2 303.2,680.5 303.8,676.2 304.4,675.8 305.0,678.9 305.6,677.3 306.2,677.8 306.8,678.8 307.4,678.5 308.0,679.8 308.6,675.7 308.7,677.9 309.2,678.3 309.8,679.6 310.4,677.4 311.0,674.2 311.6,671.1 312.2,675.8 312.8,672.6 313.4,676.0 314.0,676.6 314.6,674.0 315.2,677.4 315.8,678.1 316.4,673.9 317.0,676.1 317.6,675.7 318.2,671.1 318.8,674.6 319.4,677.7 320.0,676.9 320.6,679.0 321.2,674.1 321.8,676.2 322.4,675.1 323.0,676.3 323.6,676.3 324.2,678.4 324.8,679.3 325.4,679.5 326.0,677.2 326.6,679.6 327.2,677.0 327.8,679.2 328.4,682.6 329.0,683.0 329.6,680.2 330.2,676.2 330.8,680.2 331.4,683.8 332.0,681.3 332.0,680.4 332.6,679.5 333.2,678.6 333.8,676.1 334.4,678.4 335.0,677.0 335.6,680.9 336.2,681.9 336.8,679.3 337.4,678.2 338.0,678.4 338.6,680.2 339.2,682.6 339.8,681.5 340.4,674.5 341.0,680.0 341.6,686.2 342.2,681.8 342.3,682.0 342.8,682.2 343.4,679.4 344.0,676.4 344.6,683.5 345.2,675.9 345.8,682.6 346.4,680.9 347.0,681.2 347.6,677.3 348.2,681.8 348.8,678.5 349.4,678.4 350.0,679.0 350.6,680.6 351.2,679.6 351.8,681.4 352.4,684.4 353.0,683.0 353.6,679.8 354.2,684.2 354.8,680.3 355.4,679.7 356.0,685.7 356.6,682.1 357.2,678.9 357.8,683.9 358.4,682.6 359.0,683.7 359.6,682.9 360.2,678.2 360.8,680.2 361.4,684.8 362.0,679.7 362.6,680.3 363.0,680.0 363.2,679.8 363.8,683.0 364.4,682.7 365.0,682.4 365.6,682.5 366.2,681.2 366.8,684.5 367.4,686.2 368.0,685.2 368.6,681.6 369.2,684.8 369.8,684.3 370.4,683.5 371.0,681.6 371.6,683.6 372.2,685.5 372.8,684.7 373.4,684.0 374.0,686.2 374.6,686.2 375.2,685.0 375.8,688.6 376.0,688.9 376.4,688.3 377.0,684.2 377.6,690.0 378.2,689.0 378.8,682.8 379.4,685.3 380.0,688.2 380.6,687.6 381.2,678.9 381.8,682.9 382.4,682.0 383.0,682.7 383.6,683.5 384.2,686.2 384.8,683.4 385.4,683.2 386.0,680.0 386.3,683.9 386.6,682.6 387.2,681.1 387.8,682.7 388.4,680.2 389.0,677.2 389.6,677.8 390.2,683.9 390.8,680.8 391.4,680.5 392.0,686.4 392.6,677.4 393.2,678.6 393.8,677.8 394.4,676.3 395.0,679.1 395.6,677.9 396.2,679.0 396.8,672.5 397.4,679.2 398.0,679.5 398.6,680.0 399.2,677.1 399.2,678.5 399.8,676.2 400.4,674.3 401.0,683.6 401.6,680.5 402.2,680.6 402.8,682.8 403.4,678.5 404.0,679.7 404.4,685.1 404.6,682.8 405.2,686.3 405.8,682.5 406.4,686.1 407.0,682.0 407.6,682.7 408.2,681.4 408.8,683.8 409.4,682.2 410.0,679.7 410.6,680.3 411.2,684.3 411.8,679.9 412.4,681.6 413.0,679.6 413.6,683.2 414.2,681.4 414.8,685.5 415.4,682.6 416.0,684.1 416.6,679.5 417.2,683.7 417.4,676.4 417.8,684.4 418.4,682.3 419.0,684.8 419.6,678.3 420.2,682.5 420.8,678.8 421.4,682.5 422.0,682.1 422.6,681.3 423.2,680.1 423.8,685.7 424.4,686.3 425.0,684.4 425.6,687.3 426.2,685.7 426.8,685.2 427.4,684.9 428.0,688.8 428.6,684.8 429.0,686.6 429.2,685.8 429.8,684.0 430.4,686.6 431.0,682.0 431.6,685.3 432.2,678.6 432.8,681.1 433.4,682.3 434.0,683.7 434.6,685.1 435.2,681.0 435.8,682.4 436.4,680.7 437.0,682.1 437.6,683.4 438.1,684.7 438.2,682.3 438.8,681.7 439.4,677.0 440.0,679.2 440.6,676.5 441.2,676.5 441.8,678.6 442.4,675.5 443.0,674.3 443.6,672.7 444.2,674.3 444.8,674.0 445.4,676.6 446.0,672.9 446.6,674.8 447.1,675.5 447.2,673.4 447.8,671.9 448.4,674.1 449.0,676.9 449.6,676.0 450.2,677.5 450.8,680.2 451.4,680.8 452.0,680.1 452.6,685.5 453.2,683.6 453.8,686.2 454.4,686.7 455.0,687.0 455.6,685.4 456.2,688.3 456.2,687.0 456.8,683.4 457.4,686.6 458.0,686.6 458.6,689.6 459.2,685.2 459.8,684.7 460.4,690.1 461.0,693.1 461.6,690.5 462.2,687.8 462.8,688.4 463.4,688.9 464.0,689.4 464.6,691.6 465.2,686.9 465.8,692.3 466.4,693.2 467.0,689.1 467.6,694.3 468.2,689.2 468.8,688.9 469.4,693.3 470.0,686.1 470.6,693.1 471.2,685.8 471.8,688.7 472.4,690.5 473.0,687.7 473.6,688.2 474.2,685.6 474.8,688.9 475.4,691.2 476.0,689.1 476.6,691.9 476.9,688.5 477.2,690.5 477.8,688.5 478.4,693.1 479.0,687.3 479.6,689.2 480.2,691.0 480.8,684.7 481.4,692.3 482.0,690.3 482.6,689.7 483.2,690.3 483.8,691.2 484.4,688.7 485.0,690.7 485.6,687.2 486.2,689.3 486.8,691.6 487.4,689.4 488.0,693.2 488.6,688.4 489.2,688.6 489.8,690.2 490.4,688.5 491.0,694.3 491.6,693.6 492.2,684.7 492.4,691.7 492.8,689.6 493.4,690.1 494.0,688.2 494.6,691.4 495.2,690.5 495.8,692.3 496.4,688.2 497.0,687.0 497.6,689.3 498.2,686.9 498.8,688.8 499.4,693.9 500.0,690.4 500.6,691.2 501.2,694.8 501.8,695.4 502.4,690.3 503.0,690.1 503.6,690.8 504.2,688.8 504.8,692.8 505.4,690.9 506.0,690.7 506.6,690.8 507.2,689.3 507.8,692.3 508.4,686.8 509.0,688.9 509.6,685.5 510.2,686.8 510.8,687.3 511.4,689.8 512.0,689.2 512.6,694.0 513.2,690.9 513.8,689.8 514.4,689.5 515.0,687.9 515.6,691.0 515.7,693.0 516.2,694.4 516.8,695.2 517.4,689.7 518.0,688.1 518.6,692.1 519.2,691.0 519.8,691.7 520.4,693.7 521.0,692.6 521.6,691.6 522.2,690.5 522.8,687.0 523.4,690.9 524.0,688.9 524.6,690.1 525.2,688.7 525.8,692.2 526.4,686.5 527.0,689.4 527.6,689.3 528.2,691.6 528.8,691.4 529.4,690.5 530.0,686.0 530.6,684.4 531.2,688.9 531.8,687.0 532.4,689.3 533.0,687.7 533.6,685.9 533.8,685.9 534.2,687.3 534.8,684.8 535.4,687.0 536.0,683.2 536.6,684.1 537.2,687.7 537.8,685.1 538.4,686.1 539.0,683.6 539.6,682.9 540.2,685.2 540.8,683.9 541.4,686.2 542.0,683.6 542.6,684.4 543.2,685.4 543.8,683.9 544.4,684.7 545.0,684.0 545.6,683.5 546.2,683.5 546.7,683.8 546.8,682.8 547.4,681.4 548.0,678.9 548.6,675.9 549.2,673.2 549.8,670.6 550.4,668.0 551.0,665.5 551.6,662.6 552.2,660.8 552.8,659.9 553.2,659.5 553.4,659.9 554.0,661.6 554.6,664.9 555.2,669.3 555.8,674.1 556.4,679.3 557.0,684.5 557.6,686.3 558.2,687.3 558.3,687.3 558.8,687.6 559.4,687.4 560.0,687.4 560.6,687.2 561.2,687.2 561.8,686.2 562.4,682.7 563.0,683.9 563.6,690.3 564.2,690.7 564.8,685.6 565.4,685.9 566.0,691.1 566.6,686.2 567.2,689.9 567.8,685.6 568.4,681.1 569.0,687.4 569.6,682.1 570.2,686.9 570.8,684.8 571.4,686.1 572.0,683.4 572.6,685.0 572.6,685.6 573.2,681.5 573.8,686.0 574.4,684.9 575.0,689.2 575.6,687.6 575.9,686.8 576.2,686.6 576.8,686.2 577.4,688.7 578.0,684.2 578.6,686.2 579.2,685.7 579.8,682.0 580.4,686.6 581.0,686.0 581.6,682.4 582.2,685.6 582.8,682.0 583.4,684.2 584.0,682.6 584.6,686.9 585.2,682.6 585.8,681.3 586.4,683.3 587.0,682.2 587.6,682.3 588.2,683.7 588.8,682.3 589.4,682.0 590.0,683.2 590.6,683.1 591.2,676.3 591.4,680.3 591.8,680.6 592.4,681.0 593.0,684.0 593.6,684.3 594.2,683.9 594.8,683.3 595.4,685.3 596.0,684.6 596.6,686.4 596.6,684.4 597.2,687.4 597.8,683.0 598.4,683.5 599.0,681.2 599.6,681.2 600.2,678.1 600.8,677.7 601.4,676.2 601.7,676.7 602.0,677.1 602.6,676.2 603.2,681.0 603.8,682.6 604.4,682.1 605.0,682.9 605.6,685.3 605.6,683.8 606.2,683.3 606.8,682.9 607.4,684.0 608.0,684.4 608.6,687.7 609.2,686.2 609.8,689.1 610.4,685.2 611.0,684.0 611.6,686.1 612.2,685.9 612.8,683.3 613.4,684.3 614.0,684.4 614.6,685.9 615.2,684.0 615.8,684.2 616.4,681.2 617.0,680.6 617.6,684.2 618.2,681.4 618.8,683.3 619.4,677.9 619.8,684.8 620.0,683.6 620.6,678.8 621.2,682.8 621.8,678.4 622.4,683.2 623.0,679.9 623.6,682.9 624.2,678.7 624.8,680.3 625.4,678.9 626.0,679.0 626.6,678.4 627.2,677.4 627.8,677.0 628.4,676.1 628.9,674.8 629.0,674.6 629.6,671.5 630.2,667.8 630.8,663.0 631.4,657.7 632.0,652.7 632.3,650.5 632.6,647.7 633.2,641.7 633.8,635.0 634.4,629.1 635.0,625.2 635.4,624.6 635.6,624.9 636.2,627.8 636.8,633.3 637.4,639.5 638.0,646.3 638.5,650.5 638.6,651.6 639.2,657.0 639.8,663.0 640.4,668.4 641.0,673.9 641.6,677.4 641.8,678.3 642.2,678.3 642.8,678.8 643.4,679.1 644.0,679.2 644.6,679.8 645.2,679.8 645.8,679.1 646.4,679.2 647.0,681.9 647.6,676.9 648.2,682.7 648.8,684.5 649.4,678.9 649.6,681.1 650.0,680.8 650.6,676.7 651.2,679.1 651.8,676.8 652.4,676.9 653.0,674.1 653.5,676.3 653.6,677.8 654.2,679.4 654.8,677.2 655.4,675.5 656.0,680.5 656.6,677.5 657.2,678.6 657.8,681.8 658.4,681.6 659.0,680.9 659.6,680.2 660.2,681.0 660.8,682.8 661.4,681.4 662.0,684.8 662.6,685.4 663.2,686.1 663.8,686.3 664.4,689.9 665.0,688.2 665.6,686.7 666.2,687.2 666.4,688.1 666.8,689.4 667.4,687.4 668.0,688.8 668.6,686.9 669.2,684.8 669.8,686.5 670.4,686.9 671.0,686.5 671.6,683.2 672.2,682.3 672.8,682.2 673.4,680.8 674.0,680.4 674.2,680.4 674.6,679.7 675.2,678.8 675.8,676.9 676.4,674.5 677.0,669.7 677.6,666.0 678.2,662.4 678.6,661.1 678.8,659.6 679.4,656.3 680.0,652.3 680.6,648.1 681.2,645.1 681.8,642.6 682.4,642.0 682.5,640.8 683.0,642.0 683.6,644.4 684.2,647.2 684.8,651.3 685.4,654.8 686.0,658.8 686.3,660.8 686.6,662.4 687.2,666.7 687.8,672.3 688.4,676.2 689.0,678.5 689.6,679.9 689.7,679.9 690.2,680.4 690.8,681.2 691.4,682.1 692.0,682.6 692.6,683.8 693.2,683.1 693.8,685.3 694.4,682.8 695.0,686.2 695.6,683.8 696.2,685.7 696.8,686.0 697.4,685.4 698.0,688.6 698.6,687.6 699.2,688.4 699.8,688.8 700.4,688.8 701.0,688.6 701.3,688.2 701.6,687.5 702.2,688.8 702.8,686.1 703.4,685.2 704.0,684.5 704.6,682.7 705.2,679.1 705.8,678.5 706.4,676.7 707.0,676.4 707.6,675.9 707.8,675.4 708.2,674.3 708.8,673.0 709.4,671.1 710.0,667.8 710.6,665.6 711.2,663.7 711.8,661.2 712.4,660.7 713.0,657.6 713.0,658.7 713.6,655.3 714.2,651.8 714.8,649.5 715.4,646.7 716.0,644.1 716.6,641.9 717.2,640.4 717.6,639.9 717.8,640.2 718.4,641.5 719.0,644.4 719.6,648.5 720.2,653.1 720.8,658.0 721.4,661.2 722.0,664.2 722.6,665.7 722.8,665.8 723.2,665.7 723.8,664.1 724.4,660.9 725.0,657.6 725.6,653.3 726.2,648.4 726.8,644.5 727.4,641.5 728.0,639.6 728.5,638.7 728.6,638.7 729.2,639.9 729.8,642.3 730.4,645.0 731.0,648.0 731.6,651.6 732.2,655.0 732.4,655.2 732.8,657.7 733.4,661.5 734.0,664.9 734.6,667.7 735.0,670.0 735.2,671.1 735.8,672.5 736.4,675.1 737.0,675.2 737.6,676.2 738.2,677.9 738.8,678.5 739.4,680.7 740.0,681.8 740.6,681.4 741.2,682.7 741.4,684.9 741.8,683.1 742.4,682.3 743.0,678.7 743.6,677.8 744.2,676.6 744.8,677.0 745.4,676.0 745.8,674.3 746.0,676.4 746.6,674.5 747.2,675.8 747.8,675.5 748.4,676.9 749.0,677.7 749.6,673.7 750.2,674.9 750.8,677.1 751.4,678.0 752.0,678.0 752.6,680.4 753.2,681.9 753.8,682.9 754.4,683.9 755.0,684.5 755.6,685.8 756.2,684.8 756.8,684.0 757.0,686.6 757.4,686.3 758.0,686.4 758.6,686.1 759.2,683.9 759.8,681.3 760.4,680.0 761.0,676.6 761.6,677.6 762.2,677.2 762.8,675.7 763.4,679.8 764.0,676.2 764.6,676.9 765.2,676.5 765.8,676.5 766.0,678.5 766.4,675.6 767.0,675.1 767.6,677.7 768.2,675.5 768.8,672.0 769.4,675.3 770.0,676.2 770.6,674.1 771.2,675.9 771.8,675.2 772.4,675.1 773.0,674.4 773.6,674.9 774.2,674.7 774.8,675.1 775.1,674.5 775.4,674.1 776.0,671.3 776.6,667.7 777.2,663.8 777.7,661.0 777.8,659.9 778.4,656.1 779.0,651.9 779.6,648.4 780.2,646.6 780.2,646.7 780.8,648.7 781.4,653.7 782.0,660.2 782.6,666.6 782.8,668.5 783.2,672.2 783.8,680.5 784.4,684.3 785.0,688.6 785.4,690.1 785.6,690.3 786.2,690.1 786.8,689.9 787.4,689.9 788.0,689.7 788.6,689.3 789.2,689.8 789.8,688.5 790.4,691.5 791.0,691.2 791.6,693.5 792.2,687.7 792.8,687.3 793.4,688.8 794.0,692.5 794.6,688.0 795.2,689.1 795.8,691.9 795.8,690.5 796.4,690.0 797.0,686.4 797.6,686.0 798.2,685.9 798.8,682.9 799.4,684.5 800.0,686.3 800.6,681.2 801.2,686.6 801.8,683.7 802.2,684.2 802.4,684.7 803.0,682.2 803.6,683.0 804.2,684.8 804.8,685.7 805.4,685.0 806.0,686.9 806.6,688.9 807.2,686.4 807.8,690.6 808.4,692.9 809.0,692.6 809.6,692.8 810.2,695.9 810.8,695.5 811.3,694.8 811.4,696.0 812.0,695.7 812.6,692.3 813.2,694.5 813.8,691.8 814.4,692.9 815.0,690.1 815.6,689.8 816.2,689.9 816.8,691.2 817.4,691.8 818.0,690.9 818.6,689.5 819.2,692.2 819.8,691.3 820.4,690.0 821.0,693.8 821.6,690.4 821.6,688.9 822.2,692.8 822.8,689.6 823.4,686.3 824.0,688.1 824.6,690.6 825.2,689.6 825.8,693.0 826.4,684.8 827.0,690.2 827.6,682.5 828.2,684.1 828.8,691.3 829.4,688.4 829.4,684.2 830.0,684.1 830.6,685.5 831.2,684.5 831.8,687.7 832.4,686.9 833.0,683.7 833.6,686.7 834.2,685.4 834.8,689.9 835.4,688.4 836.0,687.2 836.6,687.9 837.2,686.2 837.2,689.7 837.8,689.5 838.4,688.2 839.0,688.3 839.6,686.9 840.2,686.8 840.8,686.4 841.4,685.5 842.0,685.1 842.6,682.9 843.2,679.4 843.8,677.0 844.4,677.9 845.0,678.0 845.6,675.0 846.2,674.5 846.8,673.3 847.4,674.9 847.5,673.2 848.0,673.4 848.6,673.7 849.2,674.8 849.8,674.3 850.4,677.3 851.0,679.2 851.6,679.8 852.2,682.3 852.8,684.2 853.4,685.7 854.0,686.3 854.6,687.5 855.2,690.1 855.8,689.0 856.4,690.5 857.0,691.9 857.6,691.3 857.9,691.1 858.2,690.5 858.8,689.8 859.4,689.5 860.0,689.0 860.6,688.4 861.2,689.8 861.8,688.0 862.4,685.4 863.0,684.9 863.6,686.5 864.2,685.2 864.8,687.5 865.4,685.0 865.6,686.0 866.0,683.1 866.6,685.6 867.2,686.5 867.8,686.4 868.4,687.6 869.0,686.6 869.6,689.2 870.2,687.9 870.8,689.0 871.4,693.5 872.0,696.7 872.6,694.2 873.2,693.7 873.4,695.4 873.8,695.4 874.4,697.3 875.0,691.6 875.6,693.7 876.2,695.0 876.8,689.6 877.4,693.5 878.0,695.4 878.6,694.7 879.2,694.2 879.8,691.3 880.4,689.1 881.0,688.8 881.6,688.9 882.2,691.9 882.8,685.4 883.4,689.9 884.0,690.2 884.6,685.1 885.2,684.8 885.8,690.3 886.4,684.6 887.0,682.8 887.6,684.6 888.2,685.0 888.8,684.1 888.9,679.5 889.4,684.6 890.0,685.0 890.6,683.8 891.2,684.3 891.8,684.1 892.4,687.2 893.0,690.5 893.6,691.0 894.2,691.4 894.8,692.0 895.4,693.0 896.0,692.8 896.6,691.3 897.2,694.3 897.8,692.9 898.4,694.6 899.0,698.5 899.6,695.5 900.2,701.6 900.8,700.0 901.4,698.4 901.8,699.9 902.0,699.3 902.6,700.2 903.2,700.9 903.8,698.1 904.4,695.9 905.0,695.0 905.6,696.1 906.2,693.1 906.8,693.2 907.4,694.1 908.0,690.5 908.6,692.2 909.2,693.3 909.6,694.6 909.8,691.0 910.4,689.6 911.0,691.3 911.6,690.7 912.2,695.0 912.8,692.1 913.4,691.6 914.0,694.2 914.6,692.6 915.2,693.2 915.8,694.2 916.4,694.3 917.0,693.7 917.4,694.0 917.6,693.1 918.2,688.0 918.8,694.2 919.4,687.4 920.0,696.4 920.6,689.3 921.2,692.9 921.8,691.2 922.4,691.3 923.0,690.9 923.6,690.4 924.2,689.4 924.8,689.8 925.4,687.7 926.0,688.8 926.6,685.9 927.2,687.4 927.7,685.9 927.8,687.4 928.4,686.6 929.0,686.8 929.6,688.4 930.2,690.2 930.8,689.2 931.4,694.4 932.0,693.4 932.6,688.6 933.2,689.8 933.8,693.7 934.4,693.3 935.0,692.0 935.5,690.8 935.6,697.0 936.2,696.6 936.8,694.1 937.4,693.2 938.0,697.5 938.6,698.3 939.2,700.5 939.8,695.3 940.4,696.8 941.0,695.9 941.6,699.2 942.2,694.0 942.8,699.3 943.4,704.5 944.0,699.5 944.6,699.0 945.2,699.8 945.8,698.2 946.4,698.7 947.0,701.6 947.6,703.4 948.2,701.0 948.8,701.4 949.4,702.9 950.0,700.5 950.6,697.1 951.0,702.4 951.2,702.2 951.8,700.4 952.4,700.4 953.0,703.1 953.6,703.0 954.2,703.2 954.8,696.3 955.4,699.1 956.0,702.4 956.6,699.2 957.2,694.5 957.8,695.0 958.4,698.0 959.0,697.6 959.6,694.6 960.2,694.6 960.8,691.3 961.4,698.6 962.0,694.3 962.6,695.3 963.2,694.5 963.8,690.9 964.4,698.6 965.0,693.6 965.6,694.5 966.2,694.4 966.8,694.3 967.4,693.0 968.0,692.6 968.6,690.9 969.1,693.2 969.2,690.1 969.8,692.2 970.4,688.7 971.0,690.3 971.6,692.1 972.2,691.6 972.8,687.9 973.4,690.4 974.0,691.7 974.6,691.1 975.2,691.8 975.8,691.0 976.4,690.7 976.9,689.9 977.0,689.9 977.6,689.3 978.2,686.8 978.8,685.5 979.4,685.8 980.0,680.8 980.6,679.5 981.2,677.0 981.8,675.6 982.4,673.7 983.0,672.6 983.6,672.4 983.6,672.4 984.2,673.7 984.8,676.1 985.4,679.6 986.0,683.7 986.6,687.8 987.2,693.7 987.8,695.6 988.4,696.3 988.5,696.5 989.0,696.5 989.6,696.4 990.2,696.0 990.8,695.6 991.4,694.9 992.0,695.5 992.6,694.8 993.2,695.0 993.7,693.3 993.8,691.4 994.4,691.3 995.0,691.0 995.6,695.0 996.2,694.4 996.8,694.0 997.4,692.3 998.0,693.0 998.6,696.2 999.2,693.5 999.8,698.6 1000.4,697.1 1001.0,698.8 1001.6,697.4 1002.2,697.6 1002.7,698.8 1002.8,697.6 1003.4,698.5 1004.0,698.3 1004.6,700.0 1005.2,697.5 1005.8,702.3 1006.4,697.6 1007.0,691.3 1007.6,697.7 1008.2,696.3 1008.8,699.3 1009.4,701.4 1010.0,701.6 1010.6,699.3 1011.2,701.9 1011.8,695.7 1012.4,697.0 1013.0,697.3 1013.6,697.6 1014.2,693.7 1014.8,693.7 1015.4,698.1 1016.0,696.9 1016.6,699.2 1017.2,693.6 1017.8,697.2 1018.3,694.2 1018.4,696.8 1019.0,697.0 1019.6,693.8 1020.2,698.3 1020.8,697.1 1021.4,697.3 1022.0,697.5 1022.6,696.3 1023.2,699.2 1023.8,695.0 1024.4,698.3 1025.0,695.3 1025.6,697.1 1026.2,696.0 1026.8,699.5 1027.4,694.4 1028.0,695.1 1028.6,696.8 1029.2,698.0 1029.8,700.0 1030.4,700.2 1031.0,699.3 1031.2,699.8 1031.6,699.9 1032.2,698.1 1032.8,698.8 1033.4,696.2 1034.0,694.7 1034.6,694.0 1035.2,694.7 1035.8,692.8 1036.4,692.7 1036.4,693.9 1037.0,692.6 1037.6,694.8 1038.2,697.3 1038.8,694.8 1039.4,696.4 1040.0,694.4 1040.6,699.0 1041.2,694.8 1041.8,694.7 1042.4,696.0 1043.0,696.0 1043.6,699.3 1044.1,693.9 1044.2,699.8 1044.8,698.6 1045.4,700.5 1046.0,698.3 1046.6,698.8 1047.2,701.4 1047.8,700.7 1048.4,702.8 1049.0,700.9 1049.6,703.8 1050.2,703.5 1050.8,703.4 1051.4,704.3 1052.0,704.5 1052.6,705.9 1053.2,705.2 1053.8,705.1 1054.4,704.3 1055.0,705.4 1055.6,704.6 1055.8,704.5 1056.2,706.0 1056.8,704.2 1057.4,703.6 1058.0,703.8 1058.6,702.0 1059.2,698.3 1059.8,698.3 1060.4,696.6 1061.0,697.2 1061.6,695.2 1062.2,695.9 1062.8,696.5 1063.4,697.2 1063.5,695.1 1064.0,693.6 1064.6,696.4 1065.2,697.5 1065.8,693.7 1066.4,696.8 1067.0,700.0 1067.6,698.5 1068.2,698.6 1068.8,698.8 1069.4,694.0 1070.0,693.5 1070.6,692.2 1071.2,700.0 1071.8,689.3 1072.4,698.1 1073.0,693.5 1073.6,692.1 1074.2,692.8 1074.8,693.1 1075.4,697.3 1076.0,695.7 1076.6,695.6 1077.2,691.7 1077.8,692.6 1078.4,696.5 1079.0,695.2 1079.6,696.6 1080.2,692.4 1080.8,693.1 1081.4,696.7 1082.0,694.6 1082.6,695.0 1083.2,694.6 1083.8,695.7 1084.4,694.4 1085.0,695.1 1085.6,696.4 1086.2,697.9 1086.8,690.9 1087.4,698.2 1088.0,690.9 1088.6,698.2 1088.8,694.6 1089.2,692.8 1089.8,695.4 1090.4,690.1 1091.0,695.2 1091.6,694.2 1092.2,696.6 1092.8,695.2 1093.4,695.5 1094.0,694.5 1094.6,698.6 1095.2,698.1 1095.8,694.8 1096.4,697.7 1097.0,696.4 1097.6,698.6 1098.2,699.9 1098.8,697.4 1099.4,695.3 1100.0,696.2 1100.6,696.7 1101.2,698.6 1101.8,693.6 1102.4,699.5 1103.0,692.7 1103.6,695.3 1104.2,699.3 1104.8,700.8 1105.4,695.1 1106.0,700.1 1106.6,697.1 1107.2,694.6 1107.8,697.0 1108.4,696.2 1109.0,694.9 1109.5,698.6 1109.6,694.4 1110.2,698.7 1110.8,695.2 1111.4,695.4 1112.0,698.0 1112.6,695.6 1113.2,697.6 1113.8,695.6 1114.4,699.6 1115.0,699.5 1115.6,698.3 1116.2,698.9 1116.8,701.7 1117.4,697.6 1118.0,701.9 1118.6,701.3 1119.2,703.2 1119.8,702.0 1120.4,698.3 1121.0,702.8 1121.6,700.8 1122.2,702.0 1122.8,701.5 1123.4,698.5 1124.0,699.9 1124.6,704.1 1125.2,703.9 1125.8,706.4 1126.4,702.3 1127.0,702.1 1127.6,700.2 1127.6,706.6 1128.2,702.7 1128.8,705.5 1129.4,700.2 1130.0,706.5 1130.6,703.7 1131.2,703.0 1131.8,702.8 1132.4,701.2 1133.0,700.4 1133.6,699.3 1134.2,704.3 1134.8,702.2 1135.4,702.0 1136.0,702.4 1136.6,702.4 1137.2,701.7 1137.8,699.2 1138.4,703.8 1139.0,703.1 1139.6,701.1 1140.2,696.7 1140.8,700.7 1141.4,701.2 1142.0,697.1 1142.6,699.2 1143.2,700.8 1143.8,696.5 1144.4,700.0 1145.0,701.0 1145.6,699.8 1146.2,694.6 1146.8,700.7 1147.4,695.3 1148.0,696.2 1148.6,700.0 1149.2,698.5 1149.8,697.6 1150.4,696.1 1151.0,697.4 1151.6,695.5 1152.2,698.0 1152.8,698.6 1153.4,697.3 1153.5,698.4 1154.0,697.2 1154.6,697.5 1155.2,699.2 1155.8,696.4 1156.4,699.2 1157.0,698.8 1157.6,704.2 1158.2,698.6 1158.8,698.9 1159.4,698.6 1160.0,699.2 1160.6,698.8 1161.2,698.7 1161.8,698.9 1162.4,698.9 1162.5,698.9 1163.0,697.8 1163.6,693.0 1164.2,688.2 1164.8,682.1 1165.4,676.9 1166.0,672.0 1166.6,669.0 1166.9,668.8 1167.2,669.1 1167.8,670.6 1168.4,673.9 1169.0,678.6 1169.6,683.7 1170.2,688.7 1170.8,694.0 1171.4,699.4 1172.0,701.6 1172.6,702.3 1172.9,702.5 1173.2,702.7 1173.8,702.7 1174.4,702.7 1175.0,702.6 1175.6,702.8 1176.2,702.9 1176.8,702.0 1177.4,701.2 1178.0,702.2 1178.6,703.3 1179.2,701.9 1179.8,703.0 1180.4,703.5 1181.0,706.0 1181.6,702.6 1182.2,698.9 1182.8,700.6 1183.4,704.4 1184.0,696.6 1184.6,696.7 1185.2,700.6 1185.8,704.0 1186.4,703.9 1187.0,705.1 1187.6,699.8 1188.2,703.4 1188.8,702.9 1189.4,704.7 1190.0,703.0 1190.6,704.2 1191.2,705.0 1191.8,704.3 1192.3,699.4 1192.4,701.3 1193.0,700.4 1193.6,701.4 1194.2,701.4 1194.8,704.7 1195.4,702.8 1196.0,699.4 1196.6,703.7 1197.2,704.1 1197.8,698.2 1198.4,705.6 1199.0,704.7 1199.6,702.3 1200.2,703.5 1200.8,701.5 1201.4,705.5 1202.0,705.7 1202.6,706.6 1203.2,704.8 1203.8,704.5 1204.4,709.9 1205.0,710.3 1205.2,703.0 1205.6,703.6 1206.2,707.7 1206.8,707.0 1207.4,708.9 1208.0,705.1 1208.6,704.2 1209.2,703.0 1209.8,706.9 1210.4,705.9 1211.0,703.1 1211.6,705.4 1212.2,701.2 1212.8,700.3 1213.4,705.0 1214.0,706.0 1214.6,704.3 1215.2,702.9 1215.8,704.7 1216.4,696.3 1217.0,703.4 1217.6,698.8 1218.2,703.1 1218.8,704.2 1219.4,704.8 1220.0,704.3 1220.6,705.0 1221.2,703.3 1221.8,703.3 1222.4,700.4 1223.0,703.7 1223.6,702.4 1224.2,701.3 1224.8,699.7 1225.4,699.1 1226.0,698.4 1226.6,700.7 1227.2,702.4 1227.8,700.1 1228.4,703.0 1229.0,698.3 1229.6,705.4 1230.2,700.3 1230.8,699.7 1231.4,699.2 1232.0,698.1 1232.6,698.7 1233.2,698.2 1233.8,700.3 1234.4,701.1 1235.0,698.9 1235.6,696.7 1236.2,703.8 1236.3,701.1 1236.8,701.6 1237.4,700.9 1238.0,702.5 1238.6,701.4 1239.2,699.3 1239.8,702.0 1240.4,696.3 1241.0,703.8 1241.6,698.8 1242.2,700.9 1242.8,699.8 1243.4,700.9 1244.0,699.4 1244.6,701.7 1245.2,704.9 1245.8,702.2 1246.4,699.9 1247.0,705.9 1247.6,702.6 1248.2,705.7 1248.8,703.3 1249.4,704.9 1250.0,704.1 1250.6,705.7 1251.2,703.6 1251.8,707.1 1252.4,706.7 1253.0,702.7 1253.6,703.0 1254.2,703.7 1254.8,707.2 1255.4,705.9 1256.0,707.2 1256.6,703.4 1257.2,707.6 1257.8,703.4 1258.4,707.1 1259.0,704.5 1259.6,704.3 1260.2,706.4 1260.8,709.5 1261.4,705.0 1262.0,705.9 1262.6,710.0 1263.2,707.1 1263.8,708.5 1264.4,708.1 1265.0,711.1 1265.6,709.8 1266.2,710.0 1266.8,710.2 1267.4,708.9 1268.0,706.7 1268.6,707.9 1269.2,709.3 1269.8,707.3 1269.9,708.6 1270.4,709.3 1271.0,706.1 1271.6,709.6 1272.2,709.5 1272.8,707.2 1273.4,707.8 1274.0,709.6 1274.6,704.6 1275.2,706.3 1275.8,711.1 1276.4,706.7 1277.0,710.6 1277.6,708.3 1278.2,708.3 1278.8,708.4 1279.4,706.4 1280.0,705.5 1280.6,707.7 1281.2,708.4 1281.8,707.6 1282.4,707.9 1282.8,706.9 1283.0,707.7 1283.6,707.2 1284.2,707.1 1284.8,704.9 1285.4,701.7 1286.0,698.4 1286.6,697.0 1287.2,694.9 1287.8,693.7 1288.4,691.6 1289.0,691.1 1289.3,691.0 1289.6,691.4 1290.2,691.4 1290.8,692.9 1291.4,695.2 1292.0,696.8 1292.6,699.4 1293.2,702.3 1293.8,705.5 1294.4,706.8 1295.0,706.6 1295.6,708.3 1295.8,707.9 1296.2,708.6 1296.8,708.6 1297.4,707.8 1298.0,708.1 1298.6,708.2 1299.2,710.2 1299.8,709.6 1300.4,708.9 1301.0,705.9 1301.6,710.7 1302.2,711.0 1302.8,708.4 1303.4,712.5 1304.0,712.9 1304.6,706.1 1305.2,711.4 1305.8,709.7 1306.4,709.9 1307.0,703.9 1307.6,709.1 1308.2,709.1 1308.8,704.9 1309.4,708.1 1310.0,707.7 1310.6,707.8 1311.2,706.3 1311.8,710.7 1312.4,708.8 1313.0,708.5 1313.6,711.0 1314.2,707.7 1314.8,710.2 1315.4,715.1 1316.0,707.9 1316.6,709.6 1317.2,710.9 1317.8,710.3 1318.4,706.2 1319.0,709.5 1319.6,707.1 1320.2,710.3 1320.8,710.0 1321.4,708.6 1321.6,711.1 1322.0,711.1 1322.6,706.9 1323.2,706.9 1323.8,708.1 1324.4,710.3 1325.0,710.7 1325.6,711.0 1326.2,709.1 1326.8,705.9 1327.4,709.3 1328.0,709.2 1328.6,704.2 1329.2,705.0 1329.8,707.6 1330.4,712.2 1331.0,708.7 1331.6,709.8 1332.2,706.6 1332.8,703.7 1333.4,711.0 1334.0,706.3 1334.6,710.0 1335.2,706.3 1335.8,711.6 1336.4,707.4 1337.0,706.5 1337.6,705.5 1338.2,710.4 1338.8,707.7 1339.4,708.7 1340.0,708.3 1340.6,707.1 1341.2,708.8 1341.8,705.6 1342.4,709.7 1343.0,704.4 1343.6,709.0 1344.2,712.8 1344.8,706.6 1345.4,709.4 1346.0,710.5 1346.6,702.8 1347.2,707.9 1347.8,709.0 1348.4,707.3 1349.0,708.5 1349.6,706.5 1350.2,709.0 1350.8,706.4 1351.4,709.9 1352.0,704.9 1352.6,708.3 1353.2,709.3 1353.8,705.4 1354.4,706.8 1355.0,706.2 1355.6,711.7 1356.2,704.7 1356.8,711.8 1357.4,706.1 1358.0,704.1 1358.6,704.6 1359.2,706.1 1359.8,710.7 1360.4,704.9 1360.4,708.1 1361.0,707.0 1361.6,706.9 1362.2,706.9 1362.8,709.6 1363.4,706.4 1364.0,705.6 1364.6,711.0 1365.2,707.0 1365.8,710.2 1366.4,713.6 1367.0,709.7 1367.6,710.9 1368.2,709.3 1368.8,707.3 1369.4,706.6 1370.0,704.6 1370.6,711.0 1371.2,707.3 1371.8,708.8 1372.4,707.2 1373.0,706.8 1373.6,708.0 1374.2,707.0 1374.8,706.9 1375.4,709.1 1376.0,702.8 1376.6,710.5 1377.2,707.1 1377.8,707.1 1378.4,705.1 1378.6,705.5 1379.0,708.5 1379.6,707.4 1380.2,706.6 1380.8,706.0 1381.4,706.3 1382.0,706.5 1382.6,705.8 1383.2,703.3 1383.8,703.8 1384.4,701.1 1385.0,700.0 1385.6,698.8 1386.2,696.5 1386.8,697.5 1387.4,697.0 1388.0,697.5 1388.6,697.0 1388.9,696.9 1389.2,696.4 1389.8,697.1 1390.4,697.6 1391.0,696.7 1391.6,697.0 1392.2,700.0 1392.8,702.3 1393.4,702.4 1394.0,703.7 1394.6,706.3 1395.2,705.5 1395.8,706.8 1396.4,705.1 1397.0,706.8 1397.6,708.4 1398.2,706.6 1398.8,707.1 1399.2,705.9 1399.4,709.9 1400.0,709.7 1400.6,707.4 1401.2,709.6 1401.8,707.4 1402.4,707.6 1403.0,709.6 1403.6,710.0 1404.2,708.7 1404.8,707.0 1405.4,706.4 1406.0,705.5 1406.6,709.0 1407.2,709.9 1407.8,704.4 1408.4,710.4 1409.0,708.8 1409.6,706.1 1410.2,708.5 1410.8,709.3 1411.4,708.5 1412.0,705.8 1412.2,705.9 1412.6,706.8 1413.2,706.2 1413.8,706.7 1414.4,705.0 1415.0,708.7 1415.6,703.8 1416.2,705.4 1416.8,701.7 1417.4,704.9 1418.0,705.4 1418.6,703.0 1419.2,704.1 1419.8,702.0 1420.4,702.9 1421.0,700.1 1421.6,698.9 1422.2,704.6 1422.8,702.1 1423.4,701.0 1424.0,697.9 1424.6,698.7 1425.2,697.1 1425.8,697.2 1426.4,698.0 1426.4,697.9 1427.0,696.0 1427.6,697.7 1428.2,696.9 1428.8,702.2 1429.4,704.2 1430.0,700.5 1430.6,702.4 1431.2,702.5 1431.8,702.3 1432.4,706.1 1433.0,708.0 1433.6,706.6 1434.2,707.2 1434.8,708.4 1435.4,708.6 1436.0,708.2 1436.6,707.9 1437.2,709.1 1437.8,710.1 1438.1,706.7 1438.4,707.9 1439.0,709.2 1439.6,709.1 1440.2,713.7 1440.8,710.6 1441.4,709.9 1442.0,715.3 1442.6,711.0 1443.2,713.3 1443.8,710.2 1444.4,708.7 1445.0,710.2 1445.6,712.8 1446.2,712.4 1446.8,713.3 1447.4,710.0 1448.0,710.5 1448.6,709.4 1449.2,709.6 1449.8,709.8 1450.4,711.7 1451.0,711.2 1451.0,709.8 1451.6,712.1 1452.2,711.0 1452.8,710.1 1453.4,709.6 1454.0,707.5 1454.6,706.7 1455.2,707.6 1455.8,705.4 1456.4,704.3 1457.0,701.0 1457.5,701.1 1457.6,702.8 1458.2,701.2 1458.8,702.5 1459.4,703.7 1460.0,704.5 1460.6,707.2 1461.2,709.5 1461.8,707.5 1462.4,709.2 1463.0,711.5 1463.6,709.7 1464.2,710.1 1464.8,713.0 1465.4,712.1 1466.0,712.7 1466.5,712.4 1466.6,710.7 1467.2,709.7 1467.8,714.6 1468.4,709.7 1469.0,710.1 1469.6,709.8 1470.2,707.1 1470.8,711.4 1471.4,712.4 1472.0,710.7 1472.6,711.6 1473.2,716.9 1473.8,711.7 1474.4,713.3 1475.0,707.8 1475.6,715.3 1476.2,713.4 1476.8,709.7 1477.4,711.3 1478.0,710.1 1478.6,712.4 1479.2,713.0 1479.8,711.6 1480.4,711.7 1481.0,710.2 1481.6,714.2 1482.2,708.9 1482.8,714.2 1483.4,711.3 1484.0,711.2 1484.6,711.4 1485.2,717.3 1485.8,716.0 1486.4,711.2 1487.0,710.0 1487.6,714.1 1488.2,713.7 1488.8,713.8 1489.4,712.7 1489.8,715.4 1490.0,714.8 1490.6,710.4 1491.2,709.9 1491.8,711.6 1492.4,713.4 1493.0,713.1 1493.6,711.5 1494.2,712.8 1494.8,710.3 1495.4,714.4 1496.0,714.6 1496.6,709.7 1497.2,711.8 1497.8,710.3 1498.4,711.4 1499.0,712.4 1499.6,713.6 1500.2,712.5 1500.8,711.2 1501.4,716.1 1502.0,712.6 1502.6,712.8 1503.2,713.9 1503.8,713.9 1504.4,711.6 1505.0,708.8 1505.6,710.5 1506.2,710.0 1506.8,712.4 1507.4,710.3 1508.0,710.2 1508.6,712.5 1509.2,708.7 1509.8,710.1 1510.4,711.1 1511.0,713.8 1511.6,710.8 1512.2,712.8 1512.8,715.4 1513.4,711.1 1514.0,709.0 1514.6,711.0 1515.2,708.9 1515.7,709.8 1515.8,708.1 1516.4,709.2 1517.0,708.6 1517.6,711.5 1518.2,711.6 1518.8,712.1 1519.4,711.0 1520.0,708.8 1520.6,711.2 1521.2,709.7 1521.8,711.9 1522.4,711.8 1523.0,711.2 1523.6,710.4 1524.2,710.3 1524.8,710.0 1525.4,710.3 1526.0,709.4 1526.0,709.5 1526.6,709.1 1527.2,707.7 1527.8,705.9 1528.4,701.9 1529.0,699.6 1529.6,697.9 1530.2,695.3 1530.8,694.9 1531.2,694.4 1531.4,694.2 1532.0,695.4 1532.6,697.0 1533.2,697.6 1533.8,699.0 1534.4,701.0 1535.0,703.6 1535.6,706.1 1536.2,708.9 1536.8,709.3 1537.4,709.5 1537.7,710.0 1538.0,709.8 1538.6,710.6 1539.2,710.4 1539.8,710.5 1540.4,712.0 1541.0,708.7 1541.6,711.2 1542.2,711.4 1542.8,710.5 1543.4,713.1 1544.0,707.9 1544.6,710.0 1545.2,709.6 1545.8,711.3 1546.4,710.3 1547.0,709.7 1547.6,711.0 1548.2,710.3 1548.8,710.8 1549.4,709.3 1550.0,709.9 1550.6,708.2 1551.2,709.4 1551.8,712.0 1552.4,714.4 1553.0,710.0 1553.6,708.2 1554.2,715.7 1554.8,710.6 1555.4,712.5 1556.0,712.1 1556.6,713.4 1557.2,712.3 1557.8,712.1 1558.4,717.6 1559.0,708.0 1559.6,711.6 1560.2,714.9 1560.8,710.7 1561.4,717.3 1562.0,718.0 1562.6,712.1 1563.2,714.8 1563.8,711.8 1564.4,714.1 1565.0,713.6 1565.6,711.6 1566.2,713.4 1566.8,710.2 1567.4,711.4 1567.4,713.5 1568.0,715.2 1568.6,711.1 1569.2,710.5 1569.8,711.7 1570.4,712.1 1571.0,711.7 1571.6,712.9 1572.2,712.2 1572.8,711.7 1573.4,710.0 1574.0,710.5 1574.6,712.9 1575.2,711.4 1575.8,713.5 1576.4,713.0 1577.0,713.6 1577.6,711.6 1578.2,717.0 1578.8,717.2 1579.4,710.8 1580.0,708.5 1580.6,713.7 1581.2,714.6 1581.8,715.3 1582.4,714.6 1583.0,712.0 1583.6,714.1 1584.2,714.9 1584.8,712.7 1585.4,709.6 1586.0,715.3 1586.6,710.9 1587.2,710.5 1587.8,707.8 1588.1,709.3 1588.4,713.0 1589.0,710.0 1589.6,712.0 1590.2,709.3 1590.3,710.9 1590.8,711.4 1591.4,711.4 1592.0,709.3 1592.6,712.8 1593.2,708.8 1593.8,707.0 1594.4,709.5 1595.0,709.9 1595.6,707.8 1596.2,704.2 1596.8,704.4 1597.4,704.7 1598.0,705.0 1598.6,703.2 1599.2,704.9 1599.4,702.4 1599.8,706.5 1600.4,702.5 1601.0,703.9 1601.6,704.1 1602.2,704.5 1602.8,708.0 1603.4,705.0 1604.0,705.0 1604.6,704.6 1605.2,710.7 1605.8,709.0 1606.4,709.5 1607.0,712.4 1607.6,709.9 1608.2,708.4 1608.8,708.9 1609.4,710.2 1610.0,713.6 1610.6,711.8 1611.2,710.2 1611.8,712.3 1612.4,710.8 1613.0,712.2 1613.6,710.8 1613.6,711.8 1614.2,716.7 1614.8,712.4 1615.4,714.3 1616.0,715.2 1616.6,713.2 1617.2,717.8 1617.8,717.5 1618.4,711.1 1619.0,716.5 1619.6,711.2 1620.2,713.5 1620.8,715.5 1621.4,712.7 1622.0,713.5 1622.6,714.7 1623.2,716.0 1623.8,716.1 1624.4,714.1 1625.0,715.4 1625.6,714.3 1626.2,716.6 1626.8,713.2 1627.4,714.4 1628.0,714.5 1628.6,715.5 1629.2,716.8 1629.8,716.1 1630.4,716.2 1631.0,715.3 1631.6,716.4 1631.7,713.2 1632.2,715.7 1632.8,718.4 1633.4,714.9 1634.0,714.1 1634.6,714.6 1635.2,715.6 1635.8,716.7 1636.4,717.7 1637.0,716.5 1637.6,717.7 1638.2,718.0 1638.8,716.6 1639.4,713.7 1640.0,716.8 1640.6,716.9 1641.2,715.5 1641.8,718.2 1642.4,715.0 1643.0,715.9 1643.6,713.2 1644.2,714.4 1644.8,714.6 1645.4,713.6 1646.0,716.0 1646.6,713.5 1647.2,714.9 1647.8,715.0 1648.4,713.9 1649.0,712.3 1649.6,713.4 1650.2,714.7 1650.8,710.3 1651.4,709.7 1652.0,711.6 1652.6,713.0 1653.2,713.2 1653.8,714.0 1654.4,710.5 1655.0,713.8 1655.6,713.4 1656.2,704.4 1656.8,709.9 1657.4,712.3 1658.0,710.7 1658.6,715.2 1659.2,705.2 1659.8,710.8 1660.4,712.6 1661.0,712.5 1661.6,709.7 1662.2,714.0 1662.8,710.5 1663.4,713.2 1664.0,712.5 1664.6,712.3 1665.2,710.3 1665.4,713.2 1665.8,709.5 1666.4,712.3 1667.0,712.0 1667.6,712.1 1668.2,711.9 1668.8,714.6 1669.4,711.0 1670.0,715.0 1670.6,710.6 1671.2,709.6 1671.8,713.2 1672.4,712.3 1673.0,713.0 1673.6,714.3 1674.2,714.2 1674.8,711.5 1675.4,715.3 1676.0,717.3 1676.6,714.6 1677.2,709.2 1677.8,713.6 1678.4,713.1 1679.0,715.0 1679.6,712.4 1680.2,713.8 1680.8,714.4 1681.4,713.0 1682.0,714.7 1682.6,713.3 1683.2,715.4 1683.8,715.3 1684.4,715.6 1685.0,711.9 1685.6,711.7 1686.2,709.7 1686.8,716.3 1687.4,715.4 1688.0,717.2 1688.6,716.6 1688.7,713.0 1689.2,713.3 1689.8,714.6 1690.4,712.2 1691.0,714.5 1691.6,712.2 1692.2,711.9 1692.8,713.6 1693.4,716.6 1694.0,719.6 1694.6,714.7 1695.2,712.8 1695.8,711.4 1696.4,715.2 1697.0,716.9 1697.6,711.1 1698.2,715.5 1698.8,716.6 1699.4,714.0 1700.0,714.3 1700.6,713.6 1701.2,712.9 1701.8,715.4 1702.4,715.2 1703.0,715.3 1703.6,714.0 1704.2,714.4 1704.8,711.8 1705.4,715.2 1706.0,715.9 1706.6,716.3 1707.2,714.0 1707.8,710.9 1708.4,712.7 1709.0,715.7 1709.6,714.9 1710.2,715.0 1710.8,715.9 1711.4,714.9 1712.0,716.3 1712.6,711.5 1713.2,712.2 1713.8,716.5 1714.4,717.0 1715.0,716.0 1715.6,715.8 1716.2,714.5 1716.8,713.5 1717.4,714.1 1718.0,716.4 1718.6,715.8 1719.2,711.8 1719.8,715.6 1720.4,711.0 1721.0,713.8 1721.6,718.2 1722.2,717.7 1722.8,715.0 1723.4,715.4 1724.0,716.2 1724.6,716.9 1725.2,714.4 1725.8,715.7 1726.4,714.9 1727.0,715.2 1727.6,712.0 1728.2,714.6 1728.8,713.9 1729.4,715.3 1730.0,715.1 1730.6,717.7 1731.2,714.9 1731.8,713.4 1732.4,713.0 1733.0,717.3 1733.6,717.9 1734.2,715.5 1734.8,714.9 1735.2,714.3 1735.4,716.9 1736.0,712.5 1736.6,715.4 1737.2,714.2 1737.8,715.0 1738.4,715.8 1739.0,715.2 1739.6,715.5 1740.2,713.0 1740.8,713.3 1741.4,714.8 1742.0,719.4 1742.6,712.4 1743.2,715.0 1743.8,714.0 1744.4,712.5 1745.0,710.2 1745.6,714.4 1746.2,716.9 1746.8,711.0 1747.4,711.1 1748.0,717.2 1748.6,713.8 1749.2,715.6 1749.8,716.1 1750.4,713.3 1751.0,713.8 1751.6,712.6 1752.2,710.5 1752.8,715.0 1753.4,713.2 1754.0,718.4 1754.6,711.1 1755.2,715.2 1755.8,713.7 1756.4,715.0 1757.0,712.0 1757.6,714.0 1758.2,716.6 1758.8,711.6 1759.4,717.7 1760.0,715.4 1760.6,712.4 1761.2,713.5 1761.8,711.0 1762.4,713.7 1763.0,711.1 1763.6,713.4 1764.2,714.7 1764.8,714.7 1765.4,713.0 1766.0,712.4 1766.6,712.4 1767.2,711.2 1767.8,713.3 1768.4,713.0 1769.0,715.6 1769.6,713.4 1770.2,711.5 1770.8,716.3 1771.4,714.9 1772.0,714.0 1772.6,707.5 1773.2,712.0 1773.8,712.4 1774.0,713.8 1774.4,711.7 1775.0,715.6 1775.6,711.1 1776.2,710.3 1776.8,711.0 1777.4,711.0 1778.0,712.3 1778.6,712.9 1779.2,713.4 1779.8,715.8 1780.4,714.9 1781.0,712.4 1781.6,711.6 1782.2,715.0 1782.8,713.2 1783.4,714.8 1784.0,715.2 1784.6,711.7 1785.2,712.6 1785.8,714.4 1786.4,714.7 1787.0,710.3 1787.6,713.0 1788.2,715.2 1788.8,713.0 1789.4,713.1 1790.0,712.6 1790.6,715.3 1791.2,711.3 1791.8,714.4 1792.4,713.5 1793.0,714.4 1793.6,711.2 1794.2,708.1 1794.8,715.7 1795.4,713.2 1796.0,716.5 1796.6,713.6 1797.2,714.6 1797.8,712.9 1798.4,713.2 1799.0,713.3 1799.6,713.3 1800.2,712.8 1800.8,710.6 1801.4,712.8 1802.0,716.8 1802.6,715.6 1803.2,714.0 1803.8,713.2 1804.4,715.5 1805.0,717.8 1805.6,710.4 1806.2,715.1 1806.8,716.1 1807.4,716.0 1808.0,718.5 1808.6,717.6 1809.2,718.1 1809.8,718.2 1810.4,718.1 1811.0,714.7 1811.6,717.9 1812.2,715.7 1812.8,715.3 1812.8,717.6 1813.4,717.1 1814.0,719.4 1814.6,719.6 1815.2,717.1 1815.8,721.0 1816.4,719.1 1817.0,719.5 1817.6,717.3 1818.2,716.8 1818.8,719.7 1819.4,713.9 1820.0,721.3 1820.6,717.2 1821.2,716.9 1821.8,719.1 1822.4,719.8 1823.0,715.6 1823.6,718.7 1824.2,717.9 1824.8,713.4 1825.4,719.7 1826.0,711.7 1826.6,715.8 1827.2,717.4 1827.8,718.4 1828.4,716.9 1829.0,716.2 1829.6,717.0 1830.2,715.6 1830.8,717.0 1831.4,716.3 1832.0,716.4 1832.6,714.7 1833.2,719.3 1833.8,718.5 1834.4,716.8 1835.0,716.4 1835.6,717.9 1836.2,714.4 1836.8,717.1 1837.4,716.9 1838.0,720.6 1838.6,718.6 1839.2,716.8 1839.8,719.0 1840.4,716.8 1841.0,715.1 1841.6,717.5 1842.2,715.7 1842.8,714.3 1843.4,714.0 1844.0,714.9 1844.6,720.2 1845.2,715.6 1845.8,714.1 1846.4,717.0 1847.0,717.5 1847.6,716.7 1848.2,716.9 1848.8,713.2 1849.4,713.9 1850.0,717.7 1850.6,717.3 1851.2,715.8 1851.6,717.0 1851.8,717.7 1852.4,714.3 1853.0,715.1 1853.6,719.1 1854.2,715.4 1854.8,716.1 1855.4,716.2 1856.0,715.0 1856.6,715.5 1857.2,718.8 1857.8,718.0 1858.4,718.0 1859.0,716.0 1859.6,715.9 1860.2,715.1 1860.8,716.6 1861.4,718.3 1862.0,718.8 1862.6,719.9 1863.2,715.9 1863.8,718.1 1864.4,718.8 1865.0,715.4 1865.6,717.3 1866.2,719.1 1866.8,720.6 1867.4,721.2 1868.0,718.2 1868.6,717.4 1869.2,719.9 1869.8,716.2 1870.4,717.3 1871.0,720.6 1871.6,720.3 1872.2,720.4 1872.8,714.3 1873.4,719.5 1874.0,717.1 1874.6,717.7 1875.2,717.8 1875.8,715.6 1876.4,715.9 1877.0,718.8 1877.6,714.2 1878.2,718.7 1878.8,720.4 1879.4,717.8 1880.0,718.8 1880.6,717.7 1881.2,720.4 1881.8,719.8 1882.4,719.8 1883.0,714.4 1883.6,718.7 1884.2,720.6 1884.8,718.5 1885.4,716.5 1886.0,722.5 1886.6,719.0 1887.2,719.9 1887.8,717.9 1888.4,724.2 1889.0,718.9 1889.6,713.9 1890.2,718.1 1890.4,715.4 1890.8,716.0 1891.4,719.5 1892.0,716.1 1892.6,717.7 1893.2,719.5 1893.8,717.3 1894.4,718.9 1895.0,717.0 1895.6,718.0 1896.2,720.0 1896.8,721.5 1897.4,718.3 1898.0,720.7 1898.6,720.0 1899.2,717.4 1899.8,719.1 1900.4,718.1 1901.0,721.2 1901.6,716.2 1902.2,717.9 1902.8,714.2 1903.4,717.4 1904.0,716.5 1904.6,718.9 1905.2,717.1 1905.8,719.1 1906.4,719.6 1907.0,720.2 1907.6,718.1 1908.2,719.1 1908.8,722.3 1909.4,714.2 1910.0,720.3 1910.6,720.2 1911.2,721.9 1911.8,714.7 1912.4,717.7 1913.0,720.4 1913.6,717.2 1914.2,721.6 1914.8,718.7 1915.4,720.0 1916.0,722.4 1916.6,719.5 1917.2,716.5 1917.8,718.2 1918.4,718.4 1919.0,720.1 1919.6,718.5 1920.2,718.4 1920.8,718.7 1921.4,719.4 1922.0,720.5 1922.6,717.9 1923.2,718.2 1923.8,719.7 1924.4,718.2 1925.0,718.5 1925.6,718.3 1926.2,720.8 1926.8,720.7 1927.4,720.7 1928.0,720.1 1928.6,717.7 1929.2,721.3 1929.8,719.5 1930.4,718.0 1931.0,715.7 1931.6,719.5 1932.2,719.1 1932.8,719.5 1933.4,720.0 1934.0,717.6 1934.6,718.9 1935.2,715.3 1935.8,712.6 1936.4,714.7 1937.0,717.0 1937.6,719.7 1938.2,718.7 1938.8,720.8 1939.4,718.4 1940.0,715.8 1940.6,720.6 1941.2,718.3 1941.8,719.4 1942.2,715.5 1942.4,717.3 1943.0,716.4 1943.6,716.8 1944.2,716.3 1944.8,714.0 1945.4,714.4 1946.0,718.1 1946.6,717.3 1947.2,716.0 1947.8,719.4 1948.4,717.7 1949.0,718.2 1949.6,717.1 1950.2,715.3 1950.8,718.2 1951.4,718.0 1952.0,715.6 1952.6,718.2 1953.2,715.9 1953.8,716.5 1954.4,713.3 1955.0,716.5 1955.6,718.1 1956.2,719.0 1956.8,716.0 1957.4,719.2 1958.0,717.3 1958.6,719.4 1959.2,716.9 1959.8,716.6 1960.4,720.4 1961.0,720.8 1961.6,718.0 1962.2,720.2 1962.8,716.7 1963.4,720.0 1964.0,717.6 1964.6,717.9 1965.2,719.6 1965.8,717.2 1966.4,719.0 1967.0,719.3 1967.6,721.9 1968.2,715.9 1968.8,716.8 1969.4,716.4 1970.0,720.1 1970.6,717.7 1971.2,721.3 1971.8,721.5 1972.4,718.1 1973.0,717.3 1973.6,717.5 1974.2,719.2 1974.8,717.6 1975.4,716.7 1976.0,717.3 1976.6,720.2 1977.2,720.2 1977.8,719.4 1978.4,716.7 1979.0,717.8 1979.6,718.4 1980.2,719.3 1980.8,722.3 1981.4,718.1 1982.0,721.4 1982.6,723.4 1983.2,719.4 1983.8,721.2 1984.4,720.8 1985.0,719.5 1985.6,720.3 1986.2,718.8 1986.8,718.6 1987.4,719.9 1988.0,717.5 1988.6,715.9 1989.2,720.9 1989.8,719.1 1990.4,715.6 1991.0,721.0 1991.6,717.3 1992.2,714.9 1992.8,720.2 1993.4,722.3 1993.9,721.1 1994.0,718.6 1994.6,719.5 1995.2,720.5 1995.8,721.3 1996.4,717.9 1997.0,720.7 1997.6,718.0 1998.2,721.5 1998.8,721.0 1999.4,714.6 2000.0,719.4 2000.6,718.9 2001.2,717.0 2001.8,718.4 2002.4,718.1 2003.0,716.8 2003.6,719.5 2004.2,716.3 2004.8,719.3 2005.4,722.0 2006.0,718.0 2006.6,720.8 2007.2,718.2 2007.8,718.1 2008.4,718.5 2009.0,720.4 2009.6,722.1 2010.2,723.8 2010.8,720.9 2011.4,719.7 2012.0,720.2 2012.6,721.4 2013.2,721.3 2013.8,722.1 2014.4,716.7 2015.0,721.5 2015.6,721.6 2016.2,717.8 2016.8,719.7 2017.4,717.5 2018.0,717.6 2018.6,718.8 2019.2,721.5 2019.8,718.7 2020.4,719.0 2021.0,718.6 2021.6,721.3 2022.2,721.3 2022.8,716.5 2023.4,720.4 2024.0,720.7 2024.6,719.7 2025.2,719.6 2025.8,719.0 2026.4,720.8 2027.0,720.8 2027.6,718.5 2028.2,719.8 2028.8,715.0 2029.4,718.3 2030.0,716.7 2030.6,720.1 2031.2,717.3 2031.8,721.3 2032.4,716.8 2033.0,721.4 2033.6,719.8 2034.2,721.3 2034.8,719.4 2035.4,717.2 2036.0,719.5 2036.6,720.8 2037.2,721.6 2037.8,719.8 2038.4,721.9 2039.0,720.4 2039.6,717.9 2040.2,716.6 2040.8,717.7 2041.4,720.1 2042.0,718.4 2042.6,719.7 2043.2,717.1 2043.8,718.3 2044.4,718.1 2045.0,719.0 2045.6,718.3 2045.7,716.1 2046.2,717.4 2046.8,719.5 2047.4,717.7 2048.0,719.5 2048.6,721.2 2049.2,715.6 2049.8,719.1 2050.4,722.4 2051.0,721.5 2051.6,716.0 2052.2,721.6 2052.8,719.0 2053.4,719.2 2054.0,720.5 2054.6,718.2 2055.2,722.6 2055.8,719.8 2056.4,718.7 2057.0,723.8 2057.6,719.6 2058.2,717.6 2058.8,716.3 2059.4,720.6 2060.0,719.6 2060.6,718.6 2061.2,717.1 2061.8,721.9 2062.4,719.1 2063.0,720.3 2063.6,720.2 2064.2,716.5 2064.8,720.2 2065.4,718.6 2066.0,720.2 2066.6,718.1 2067.2,721.8 2067.8,720.8 2068.4,719.1 2069.0,718.4 2069.6,718.5 2070.2,719.1 2070.8,719.5 2071.4,721.3 2072.0,720.9 2072.6,721.5 2073.2,717.9 2073.8,718.9 2074.4,719.3 2075.0,720.7 2075.6,722.1 2076.2,720.8 2076.8,721.5 2077.4,719.8 2078.0,719.5 2078.6,722.6 2079.2,719.3 2079.8,716.3 2080.4,722.4 2081.0,717.0 2081.6,720.8 2082.2,721.4 2082.8,722.7 2083.4,722.4 2084.0,720.8 2084.6,721.9 2085.2,722.0 2085.8,720.3 2086.4,718.3 2087.0,724.5 2087.6,717.5 2088.2,724.2 2088.8,724.3 2089.4,720.9 2090.0,723.5 2090.6,720.6 2091.2,722.8 2091.8,718.4 2092.4,722.9 2093.0,720.4 2093.6,722.0 2094.2,719.8 2094.8,720.9 2095.4,723.2 2096.0,721.2 2096.6,719.5 2097.2,724.3 2097.8,721.0 2098.4,718.9 2099.0,721.4 2099.6,721.2 2100.2,717.6 2100.8,719.6 2101.4,721.0 2102.0,721.5 2102.6,722.2 2103.2,719.0 2103.8,717.1 2104.4,721.7 2105.0,721.3 2105.2,721.7 2105.6,719.6 2106.2,722.4 2106.8,723.0 2107.4,722.1 2108.0,723.1 2108.6,721.9 2109.2,721.8 2109.8,718.7 2110.4,723.4 2111.0,724.4 2111.6,721.2 2112.2,719.0 2112.8,719.7 2113.4,721.5 2114.0,720.9 2114.6,717.5 2115.2,720.3 2115.8,716.4 2116.4,721.3 2117.0,722.8 2117.0,722.2" fill="none" stroke="#0068e0" stroke-width="6.3" stroke-linejoin="round" stroke-linecap="butt" shape-rendering="crispEdges"/>
<path d="M65.0,473.5 65.6,479.4 66.2,479.4 66.8,471.6 67.4,472.1 68.0,471.5 68.6,481.5 69.2,476.7 69.8,476.5 70.4,478.2 71.0,474.1 71.6,476.4 72.2,473.8 72.8,478.8 73.4,474.7 74.0,478.5 74.6,480.5 75.2,477.5 75.8,480.3 76.4,474.9 77.0,475.1 77.6,479.2 78.2,478.2 78.8,475.1 79.4,477.8 80.0,482.6 80.6,477.5 81.0,479.7 81.2,478.5 81.8,480.3 82.4,480.8 83.0,481.7 83.6,481.7 84.2,482.7 84.8,481.8 85.4,481.4 86.0,479.8 86.6,473.1 87.2,480.7 87.8,479.9 88.4,480.5 89.0,478.0 89.6,485.1 90.2,478.3 90.8,484.9 91.4,483.5 92.0,485.7 92.6,487.3 93.2,490.8 93.8,489.5 94.4,489.0 95.0,490.4 95.6,486.9 96.2,487.4 96.8,486.1 97.4,488.4 98.0,490.8 98.6,487.9 99.2,488.0 99.8,486.4 100.4,492.5 101.0,488.3 101.6,489.8 101.7,487.7 102.2,489.5 102.8,483.5 103.4,488.9 104.0,487.1 104.6,492.5 105.2,491.3 105.8,488.7 106.4,487.7 107.0,487.4 107.6,491.6 108.2,488.5 108.8,495.2 109.4,488.1 110.0,489.3 110.6,488.6 111.2,487.6 111.8,492.8 112.4,489.8 113.0,495.2 113.6,492.3 114.2,487.3 114.8,490.2 115.4,492.4 116.0,496.0 116.6,491.3 117.2,492.0 117.8,489.0 118.4,496.1 119.0,487.6 119.6,493.8 119.8,493.3 120.2,494.0 120.8,494.4 121.4,495.0 122.0,492.9 122.6,489.5 123.2,494.7 123.8,490.4 124.4,492.5 125.0,489.6 125.6,490.3 126.2,487.7 126.8,486.1 127.4,487.8 127.6,481.9 128.0,485.6 128.6,486.6 129.2,487.9 129.8,487.3 130.4,486.2 131.0,491.2 131.6,489.7 132.2,493.6 132.8,493.7 133.4,493.6 134.0,496.7 134.6,496.4 135.2,492.9 135.4,491.5 135.8,497.5 136.4,499.9 137.0,493.1 137.6,495.7 138.2,492.6 138.8,493.5 139.4,503.3 140.0,496.7 140.6,496.0 141.2,496.4 141.8,492.8 142.4,497.5 143.0,501.8 143.6,501.0 144.2,495.8 144.8,495.0 145.4,499.5 146.0,498.0 146.6,497.8 147.2,496.2 147.8,500.7 148.4,498.8 149.0,498.7 149.6,499.0 150.2,500.2 150.8,496.5 151.4,496.4 152.0,492.4 152.6,500.3 153.2,504.7 153.5,502.3 153.8,499.3 154.4,496.2 155.0,498.3 155.6,497.5 156.2,500.1 156.8,498.4 157.4,500.2 158.0,497.9 158.6,495.3 159.2,503.7 159.8,495.3 160.4,495.7 161.0,497.2 161.6,497.8 162.2,501.6 162.8,500.7 163.4,498.6 164.0,501.4 164.6,506.3 165.2,501.5 165.8,501.2 166.4,502.6 167.0,498.4 167.6,508.5 168.2,505.1 168.8,499.5 169.4,502.7 170.0,495.5 170.6,502.3 171.2,501.5 171.8,502.7 172.4,500.1 173.0,505.1 173.6,499.8 174.2,505.8 174.8,501.7 175.4,498.0 176.0,501.8 176.6,508.0 177.2,499.2 177.8,500.8 178.4,504.3 179.0,501.4 179.4,502.6 179.6,501.9 180.2,505.1 180.8,503.4 181.4,506.8 182.0,501.2 182.6,508.2 183.2,507.5 183.8,507.0 184.4,508.3 185.0,507.2 185.6,507.0 186.2,513.2 186.8,509.6 187.1,507.4 187.4,510.8 188.0,510.3 188.6,511.4 189.2,508.5 189.8,507.3 190.4,506.4 191.0,506.2 191.6,510.5 192.2,509.7 192.8,510.4 193.4,509.1 194.0,506.2 194.6,513.6 195.2,506.7 195.8,502.4 196.4,509.1 197.0,505.8 197.6,506.0 198.2,506.1 198.8,507.0 199.4,504.8 200.0,505.9 200.0,506.5 200.6,508.4 201.2,505.8 201.8,507.3 202.4,509.4 203.0,510.5 203.6,511.7 204.2,512.5 204.8,514.3 205.2,513.8 205.4,513.8 206.0,511.3 206.6,508.2 207.2,506.8 207.8,504.2 208.4,499.6 209.0,498.7 209.1,498.8 209.6,499.0 210.2,499.0 210.8,499.3 211.4,501.6 212.0,502.9 212.6,502.7 213.2,504.5 213.8,504.6 214.4,507.0 215.0,506.5 215.6,505.3 216.2,510.1 216.8,509.4 217.4,508.2 218.0,507.2 218.2,506.6 218.6,508.6 219.2,504.5 219.8,513.0 220.4,506.8 221.0,508.1 221.6,506.9 222.2,508.0 222.8,509.2 223.4,501.2 224.0,508.1 224.6,506.0 225.2,508.3 225.8,506.4 226.4,501.7 227.0,501.8 227.6,506.4 228.2,504.9 228.8,501.8 229.4,503.2 230.0,500.0 230.6,503.0 231.2,500.0 231.8,499.2 232.4,500.3 233.0,499.7 233.6,500.5 233.7,499.3 234.2,499.9 234.8,503.5 235.4,502.4 236.0,502.2 236.6,504.4 237.2,504.4 237.8,508.9 238.4,507.7 239.0,509.8 239.6,510.2 240.2,510.5 240.8,510.8 241.4,511.0 241.4,512.5 242.0,510.4 242.6,510.5 243.2,504.8 243.8,507.9 244.4,506.2 245.0,510.1 245.6,511.3 246.2,510.9 246.8,505.9 247.4,512.9 248.0,511.3 248.6,509.7 249.2,506.7 249.8,510.2 250.4,511.1 251.0,512.8 251.6,507.7 252.2,508.8 252.8,507.6 253.4,510.6 254.0,509.3 254.6,509.5 255.2,508.0 255.8,512.2 256.4,512.5 257.0,512.0 257.0,505.8 257.6,511.2 258.2,512.2 258.8,510.7 259.4,511.9 260.0,513.9 260.6,512.8 261.2,514.0 261.8,515.8 262.4,514.0 263.0,512.2 263.6,512.1 264.2,511.7 264.8,513.0 265.4,511.3 266.0,512.2 266.6,509.9 267.2,509.7 267.8,511.9 268.4,509.5 269.0,508.5 269.6,510.1 270.2,511.5 270.8,509.3 271.4,515.2 272.0,510.7 272.6,508.4 273.2,518.2 273.8,510.2 274.4,516.0 275.0,512.8 275.6,512.2 276.2,509.1 276.8,511.3 277.4,508.8 278.0,512.8 278.6,510.4 279.2,510.9 279.8,516.7 280.4,508.2 281.0,507.5 281.6,509.7 282.2,512.6 282.8,515.6 282.8,510.0 283.4,513.7 284.0,509.6 284.6,511.5 285.2,506.7 285.8,508.0 286.4,514.4 287.0,514.9 287.6,514.8 288.2,513.4 288.8,505.1 289.4,510.5 290.0,508.6 290.6,512.6 291.2,512.0 291.8,515.2 292.4,516.9 293.0,515.7 293.6,513.8 294.2,517.3 294.8,512.0 295.4,515.6 296.0,511.3 296.6,513.9 297.2,515.8 297.8,514.2 298.4,511.2 299.0,513.6 299.6,515.7 300.2,515.5 300.8,520.0 301.4,514.8 302.0,514.0 302.6,508.5 303.2,511.6 303.8,509.4 304.4,516.8 305.0,511.8 305.6,508.8 306.2,512.3 306.8,512.0 307.4,513.5 308.0,512.8 308.6,513.1 308.7,511.2 309.2,512.1 309.8,506.5 310.4,506.8 311.0,510.1 311.6,509.9 312.2,506.8 312.8,513.3 313.4,510.4 314.0,508.9 314.6,510.6 315.2,511.6 315.8,505.1 316.4,511.0 317.0,509.3 317.6,510.1 318.2,509.7 318.8,504.8 319.4,510.2 320.0,509.1 320.6,509.9 321.2,503.5 321.8,507.0 322.4,503.2 323.0,502.2 323.6,507.9 324.2,502.8 324.8,505.4 325.4,504.4 326.0,505.7 326.6,504.2 327.2,505.0 327.8,505.5 328.1,501.5 328.4,504.5 329.0,503.8 329.6,507.8 330.2,508.6 330.8,509.9 331.4,512.5 332.0,513.1 332.6,512.8 333.2,515.8 333.8,516.7 334.4,516.1 334.6,516.2 335.0,515.3 335.6,514.7 336.2,517.1 336.8,514.1 337.4,515.5 338.0,514.9 338.6,513.3 339.2,517.4 339.8,515.8 340.4,515.8 341.0,520.6 341.6,514.8 342.2,513.6 342.8,514.5 343.4,517.5 344.0,520.0 344.6,516.9 345.2,513.9 345.8,512.1 346.4,515.8 347.0,520.8 347.6,518.1 348.2,515.0 348.8,518.2 349.4,515.9 350.0,517.2 350.6,520.1 351.2,520.5 351.8,519.3 352.4,516.3 353.0,519.9 353.6,518.2 354.2,516.5 354.8,515.7 355.4,517.5 356.0,518.6 356.6,518.1 357.2,510.2 357.8,517.1 358.4,522.9 359.0,514.6 359.6,520.6 360.2,519.8 360.4,518.2 360.8,521.7 361.4,515.3 362.0,517.2 362.6,516.8 363.2,518.8 363.8,519.1 364.4,524.6 365.0,516.1 365.6,518.8 366.2,520.8 366.8,516.7 367.4,516.9 368.0,520.6 368.6,513.8 369.2,519.2 369.8,514.9 370.4,516.7 371.0,516.5 371.6,521.1 372.2,514.4 372.8,511.6 373.4,515.9 374.0,514.3 374.6,517.7 375.2,519.2 375.8,518.6 376.4,513.8 377.0,513.3 377.6,518.6 378.2,514.3 378.8,513.3 379.4,521.3 380.0,516.4 380.6,517.9 381.2,518.1 381.8,517.6 382.4,517.6 383.0,518.3 383.6,515.7 384.2,517.8 384.8,515.8 385.4,519.5 386.0,517.6 386.3,517.4 386.6,518.3 387.2,520.2 387.8,519.7 388.4,518.6 389.0,516.4 389.6,520.7 390.2,515.0 390.8,515.3 391.4,521.4 392.0,514.9 392.6,518.6 393.2,518.2 393.8,517.1 394.4,516.4 395.0,516.8 395.6,515.5 396.2,514.9 396.8,513.6 397.4,518.4 398.0,521.9 398.6,515.0 399.2,520.4 399.8,520.2 400.4,522.6 401.0,522.4 401.6,522.2 402.2,518.7 402.8,521.3 403.4,520.5 404.0,518.6 404.6,522.8 405.2,519.6 405.8,524.3 406.4,523.2 407.0,518.6 407.6,525.2 408.2,522.7 408.8,522.5 409.4,515.9 410.0,520.8 410.6,520.6 411.2,520.8 411.8,520.0 412.2,519.7 412.4,526.5 413.0,521.6 413.6,517.6 414.2,521.1 414.8,521.3 415.4,522.4 416.0,522.8 416.6,523.4 417.2,521.4 417.8,523.0 418.4,530.5 419.0,520.4 419.6,518.1 420.2,524.9 420.8,521.2 421.4,520.0 422.0,518.8 422.6,525.2 423.2,519.5 423.8,527.3 424.4,526.7 425.0,525.2 425.6,521.7 426.2,530.4 426.8,519.8 427.4,523.2 428.0,520.5 428.6,524.3 429.2,524.4 429.8,525.9 430.4,523.3 431.0,525.7 431.6,523.2 432.2,524.8 432.8,522.1 432.9,526.0 433.4,525.5 434.0,522.7 434.6,523.7 435.2,521.8 435.8,525.3 436.4,525.7 437.0,522.5 437.6,522.8 438.2,521.8 438.8,521.0 439.4,519.6 440.0,519.4 440.6,517.2 440.6,517.6 441.2,515.7 441.8,512.4 442.4,509.2 443.0,506.3 443.6,504.4 444.2,502.5 444.5,502.8 444.8,503.4 445.4,503.3 446.0,506.2 446.6,508.5 447.2,511.0 447.8,513.7 448.4,516.2 448.9,519.1 449.0,518.5 449.6,520.0 450.2,522.0 450.8,523.3 451.4,523.7 452.0,524.1 452.6,524.8 453.2,526.0 453.6,524.4 453.8,525.5 454.4,525.5 455.0,522.9 455.6,527.3 456.2,524.1 456.8,530.6 457.4,523.8 458.0,525.1 458.6,530.8 459.2,527.8 459.8,524.8 460.4,519.1 461.0,528.2 461.6,521.7 462.2,526.3 462.8,524.9 463.4,525.4 464.0,524.5 464.6,523.9 465.2,524.1 465.8,525.1 466.4,523.0 467.0,524.4 467.6,528.2 468.2,522.1 468.8,528.9 469.4,528.0 470.0,533.6 470.6,528.3 471.2,526.7 471.8,527.8 472.4,521.6 473.0,528.0 473.6,524.2 474.2,530.2 474.8,525.5 475.4,526.8 476.0,523.6 476.6,525.2 477.2,525.5 477.8,527.8 478.4,529.0 479.0,525.3 479.6,522.4 480.2,522.7 480.8,529.1 481.4,528.3 482.0,527.2 482.6,526.6 483.2,526.9 483.8,526.2 484.4,529.3 485.0,526.5 485.6,524.2 486.2,525.0 486.8,522.0 487.4,528.6 488.0,524.9 488.6,526.1 489.2,524.2 489.8,525.6 489.8,528.9 490.4,527.5 491.0,528.0 491.6,530.5 492.2,528.5 492.8,525.9 493.4,529.3 494.0,524.8 494.6,529.9 495.2,528.1 495.8,528.9 496.4,528.2 497.0,527.1 497.6,524.1 498.2,531.8 498.8,526.1 499.4,525.6 500.0,528.4 500.6,528.3 501.2,526.6 501.8,526.3 502.4,529.4 503.0,531.8 503.6,527.7 504.2,527.6 504.8,530.1 505.4,526.4 506.0,524.4 506.6,524.6 507.2,526.7 507.8,527.1 508.4,522.9 509.0,528.3 509.6,528.4 510.2,525.3 510.8,528.1 511.4,534.8 512.0,526.7 512.6,524.0 513.2,525.3 513.8,525.5 514.4,525.5 515.0,525.9 515.6,526.9 515.7,524.6 516.2,528.0 516.8,526.8 517.4,527.4 518.0,522.0 518.6,529.5 519.2,531.4 519.8,526.2 520.4,525.4 521.0,525.3 521.6,529.3 522.2,520.7 522.8,528.8 523.4,522.4 524.0,529.5 524.6,526.5 525.2,525.3 525.8,522.6 526.4,519.7 527.0,520.3 527.6,523.5 528.2,528.3 528.8,523.4 529.4,520.1 530.0,524.5 530.6,523.5 531.2,525.2 531.8,523.2 532.4,521.9 533.0,523.6 533.6,523.1 534.2,528.4 534.8,525.8 535.4,526.8 536.0,523.5 536.6,524.6 537.2,522.5 537.8,526.3 538.4,522.8 539.0,524.6 539.6,523.0 540.2,525.8 540.8,527.3 541.4,524.3 541.5,526.3 542.0,525.2 542.6,525.2 543.2,525.2 543.8,524.5 544.4,524.3 545.0,523.6 545.6,523.3 546.2,522.7 546.8,521.8 547.4,519.4 548.0,517.0 548.6,514.7 549.2,511.3 549.8,506.5 550.4,501.9 551.0,497.5 551.6,494.7 551.9,494.6 552.2,495.0 552.8,498.6 553.4,503.8 554.0,509.2 554.6,514.5 555.2,518.7 555.8,523.6 556.4,525.7 557.0,526.8 557.6,527.6 558.2,528.4 558.8,529.0 559.4,529.4 560.0,530.2 560.6,530.2 561.2,531.3 561.8,530.8 562.4,533.6 563.0,534.9 563.6,530.2 564.2,535.5 564.8,536.8 565.4,535.2 566.0,530.3 566.6,539.8 567.2,533.6 567.4,534.9 567.8,539.2 568.4,533.9 569.0,534.2 569.6,537.4 570.2,534.8 570.8,534.7 571.4,532.6 572.0,532.2 572.6,533.2 573.2,527.8 573.8,528.3 574.4,529.5 575.0,528.4 575.6,533.1 575.9,529.5 576.2,529.7 576.8,527.0 577.4,531.1 578.0,528.5 578.6,527.6 579.2,527.6 579.8,526.9 580.4,525.8 581.0,527.8 581.6,529.4 582.2,530.7 582.8,523.1 583.4,526.4 584.0,532.3 584.6,527.2 585.2,524.0 585.8,526.2 586.4,524.2 587.0,527.2 587.6,526.6 588.2,524.4 588.8,526.2 589.4,525.5 590.0,525.9 590.6,525.1 591.2,524.2 591.4,522.9 591.8,527.9 592.4,524.9 593.0,524.3 593.6,525.1 594.2,530.9 594.8,529.5 595.4,526.0 596.0,530.8 596.6,529.0 597.2,529.8 597.8,529.2 598.4,532.0 599.0,534.9 599.6,528.8 600.2,530.6 600.8,530.6 601.4,531.1 601.7,529.7 602.0,530.9 602.6,532.1 603.2,536.1 603.8,528.4 604.4,533.2 605.0,535.9 605.6,532.4 606.2,537.9 606.8,537.3 607.4,535.6 608.0,539.2 608.6,536.9 609.2,538.3 609.8,532.0 610.4,536.9 611.0,534.3 611.6,532.4 612.2,535.5 612.8,537.3 613.4,534.9 614.0,537.6 614.6,539.5 615.2,535.3 615.8,535.5 616.4,536.6 617.0,536.4 617.6,538.6 618.2,530.7 618.8,536.8 619.4,534.4 619.8,533.6 620.0,540.1 620.6,535.2 621.2,533.7 621.8,537.1 622.4,534.0 623.0,532.9 623.6,532.9 624.2,532.3 624.8,531.3 625.4,530.9 626.0,530.4 626.3,529.9 626.6,529.4 627.2,527.1 627.8,523.6 628.4,520.6 629.0,516.5 629.6,511.0 630.2,503.7 630.8,493.8 631.4,481.0 632.0,464.8 632.6,445.5 633.2,424.7 633.8,405.5 634.4,392.3 634.9,388.7 635.0,388.9 635.6,396.5 636.2,412.8 636.8,433.6 637.4,454.8 638.0,473.7 638.6,489.4 639.2,501.7 639.8,511.0 640.4,518.1 641.0,523.4 641.6,528.5 642.2,531.9 642.8,533.2 643.1,533.7 643.4,534.1 644.0,534.7 644.6,535.1 645.2,535.1 645.8,535.3 646.4,535.1 647.0,535.2 647.6,534.4 647.8,534.4 648.2,533.6 648.8,532.7 649.4,528.1 650.0,522.6 650.6,517.6 651.2,513.4 651.8,510.1 652.4,507.8 652.7,508.0 653.0,507.8 653.6,508.8 654.2,511.1 654.8,513.5 655.4,516.7 656.0,520.3 656.6,523.8 657.2,527.8 657.8,531.7 658.4,533.3 659.0,534.3 659.6,535.3 659.9,534.7 660.2,534.7 660.8,534.5 661.4,535.1 662.0,534.2 662.6,534.2 663.2,532.5 663.8,531.7 664.4,534.9 665.0,536.8 665.6,531.3 666.2,535.6 666.8,534.7 667.4,532.5 668.0,533.4 668.6,534.3 669.2,533.0 669.8,530.6 670.4,536.9 671.0,537.4 671.6,533.6 671.6,536.0 672.2,536.1 672.8,534.3 673.4,530.6 674.0,532.3 674.6,530.9 675.2,531.4 675.8,528.9 676.4,533.0 677.0,528.7 677.6,528.7 678.2,527.2 678.8,526.1 679.4,528.2 680.0,526.9 680.1,529.9 680.6,523.6 681.2,531.6 681.8,528.0 682.4,531.0 683.0,530.2 683.6,534.5 684.2,534.1 684.5,534.2 684.8,533.6 685.4,535.6 686.0,536.7 686.6,534.1 687.2,536.9 687.8,535.6 688.4,534.6 689.0,533.5 689.6,529.1 690.2,536.7 690.8,533.8 691.4,536.8 692.0,533.4 692.6,536.9 693.2,538.1 693.8,533.6 694.4,531.8 695.0,530.1 695.6,538.6 696.2,534.0 696.8,534.0 697.4,534.6 698.0,530.9 698.6,530.2 699.2,535.2 699.8,530.8 700.0,533.3 700.4,533.4 701.0,531.2 701.6,530.5 702.2,535.9 702.8,532.9 703.4,528.1 704.0,528.5 704.6,528.7 705.2,528.4 705.8,527.6 706.4,526.7 706.5,526.6 707.0,526.3 707.6,525.7 708.2,524.5 708.8,522.3 709.4,518.8 710.0,515.5 710.6,510.9 711.2,504.6 711.8,495.6 712.4,483.0 713.0,465.6 713.6,442.1 714.2,412.5 714.8,379.2 715.4,348.4 716.0,329.2 716.3,326.6 716.6,329.1 717.2,348.1 717.8,378.7 718.4,411.6 719.0,440.7 719.6,463.5 720.2,480.0 720.8,491.3 721.4,498.3 722.0,501.9 722.6,502.5 723.2,500.0 723.8,494.4 724.4,485.0 725.0,471.4 725.6,453.8 726.2,434.2 726.8,416.8 727.4,407.3 727.6,406.8 728.0,409.9 728.6,423.7 729.2,443.6 729.8,464.1 730.4,482.0 731.0,496.0 731.6,506.3 732.2,514.4 732.8,520.0 733.4,522.1 734.0,524.1 734.6,527.0 735.2,529.2 735.8,530.3 736.3,531.0 736.4,531.1 737.0,531.8 737.6,531.8 738.2,532.3 738.8,531.6 739.4,530.4 740.0,529.4 740.6,529.3 741.2,528.4 741.4,528.1 741.8,526.4 742.4,525.1 743.0,521.6 743.6,519.5 744.2,517.6 744.8,515.1 745.4,512.7 745.8,511.5 746.0,511.0 746.6,513.8 747.2,516.7 747.8,518.0 748.4,520.2 749.0,521.4 749.6,522.7 750.2,523.5 750.5,524.0 750.8,524.4 751.4,524.8 752.0,525.0 752.6,523.8 753.2,525.4 753.8,525.5 754.4,523.4 755.0,523.3 755.6,520.7 756.2,523.8 756.8,523.4 757.0,521.9 757.4,520.7 758.0,521.3 758.6,520.6 759.2,520.1 759.8,519.3 760.4,517.4 760.8,516.3 761.0,515.6 761.6,512.7 762.2,511.0 762.8,509.4 763.4,506.5 764.0,505.1 764.6,503.7 765.2,502.6 765.5,502.4 765.8,502.9 766.4,504.1 767.0,506.3 767.6,510.0 768.2,513.9 768.8,518.8 769.4,522.6 770.0,524.2 770.6,525.2 771.2,525.3 771.2,525.3 771.8,524.8 772.4,523.8 773.0,521.6 773.6,515.8 774.2,510.0 774.8,501.9 775.4,491.0 776.0,477.0 776.6,460.0 777.2,441.1 777.8,423.2 778.4,410.1 779.0,405.5 779.0,405.5 779.6,411.1 780.2,425.3 780.8,444.3 781.4,464.1 782.0,482.1 782.6,497.2 783.2,509.1 783.8,518.2 784.4,526.8 785.0,529.9 785.6,532.3 786.2,536.0 786.7,538.6 786.8,539.0 787.4,540.5 788.0,541.5 788.6,542.5 789.2,542.5 789.8,542.3 790.4,543.0 791.0,542.8 791.6,542.2 792.2,540.7 792.8,540.5 793.4,539.7 794.0,539.4 794.6,537.8 795.2,536.7 795.8,537.6 795.8,536.4 796.4,534.9 797.0,534.6 797.6,533.7 798.2,531.0 798.8,532.5 799.4,533.1 800.0,530.8 800.6,528.6 801.2,527.8 801.8,526.9 802.2,527.7 802.4,526.7 803.0,527.5 803.6,530.4 804.2,531.6 804.8,533.3 805.4,535.0 806.0,537.2 806.6,537.7 807.2,539.6 807.8,541.4 808.4,542.3 808.7,542.6 809.0,543.3 809.6,542.9 810.2,541.1 810.8,542.9 811.4,543.2 812.0,541.3 812.6,542.4 813.2,535.5 813.8,541.3 814.4,539.2 815.0,540.8 815.6,542.7 816.2,539.6 816.8,540.2 817.4,542.4 818.0,543.1 818.6,544.4 819.0,547.3 819.2,538.7 819.8,545.9 820.4,544.9 821.0,542.2 821.6,540.4 822.2,543.5 822.8,543.3 823.4,539.8 824.0,544.7 824.6,537.5 825.2,536.3 825.8,534.5 826.4,536.0 826.8,536.8 827.0,539.8 827.6,536.5 828.2,537.3 828.8,537.3 829.4,537.9 830.0,541.5 830.6,540.4 831.2,542.3 831.8,543.6 832.4,544.9 833.0,545.0 833.3,544.2 833.6,546.6 834.2,545.8 834.8,547.7 835.4,541.8 836.0,540.5 836.6,544.4 837.2,542.4 837.8,541.7 838.4,541.3 839.0,540.9 839.6,542.1 840.2,542.9 840.8,542.7 841.4,539.2 842.0,539.8 842.6,538.0 843.2,535.2 843.8,535.2 844.4,536.6 845.0,533.8 845.6,533.2 846.2,535.8 846.8,534.6 847.4,534.2 848.0,532.2 848.6,533.5 848.8,533.1 849.2,532.9 849.8,533.3 850.4,532.6 851.0,530.9 851.6,535.3 852.2,536.6 852.8,535.6 853.4,539.3 854.0,538.4 854.6,538.2 855.2,538.8 855.8,542.2 856.4,542.0 857.0,543.8 857.6,544.3 857.9,543.9 858.2,544.4 858.8,545.4 859.4,543.3 860.0,543.8 860.6,543.4 861.2,547.1 861.8,540.7 862.4,545.7 863.0,547.5 863.6,544.2 864.2,546.5 864.8,541.5 865.4,544.5 866.0,547.2 866.6,550.5 867.2,544.3 867.8,546.1 868.4,545.5 869.0,545.4 869.6,546.6 870.2,547.2 870.8,547.0 871.4,545.8 872.0,547.6 872.6,545.2 873.2,549.6 873.4,548.9 873.8,548.6 874.4,547.6 875.0,548.4 875.6,552.4 876.2,542.8 876.8,545.7 877.4,548.1 878.0,548.4 878.6,548.5 879.2,548.5 879.8,548.4 880.4,544.4 881.0,542.1 881.6,548.0 882.2,549.8 882.8,544.9 883.4,545.5 884.0,544.7 884.6,542.7 885.2,541.5 885.8,544.2 886.3,546.1 886.4,543.7 887.0,547.1 887.6,543.5 888.2,547.1 888.8,544.4 889.4,546.3 890.0,543.2 890.6,539.9 891.2,548.3 891.8,545.1 892.4,550.2 893.0,549.2 893.6,542.9 894.2,551.1 894.8,544.3 895.4,550.0 896.0,548.5 896.6,547.1 897.2,548.7 897.8,545.6 898.4,548.3 899.0,545.2 899.2,548.9 899.6,547.5 900.2,547.7 900.8,546.0 901.4,546.0 902.0,545.7 902.6,545.0 903.2,543.9 903.8,543.8 904.4,542.5 904.4,542.9 905.0,540.5 905.6,537.2 906.2,533.2 906.8,529.3 907.4,527.1 908.0,524.6 908.6,522.5 908.8,523.3 909.2,523.2 909.8,523.8 910.4,525.8 911.0,527.5 911.6,529.7 912.2,533.1 912.8,535.4 913.4,537.1 914.0,541.4 914.6,543.5 915.2,545.3 915.8,544.2 916.1,544.9 916.4,544.6 917.0,544.6 917.6,544.7 918.2,543.8 918.8,543.5 919.4,541.9 920.0,540.5 920.6,539.8 921.2,537.1 921.8,536.1 921.8,536.4 922.4,534.4 923.0,531.4 923.6,528.7 924.2,526.0 924.8,521.5 925.4,519.4 926.0,518.2 926.4,517.4 926.6,517.9 927.2,518.9 927.8,521.3 928.4,523.0 929.0,526.3 929.6,529.8 930.2,532.3 930.8,535.6 931.4,540.0 931.6,539.3 932.0,541.8 932.6,542.6 933.2,544.1 933.8,544.3 934.4,545.7 935.0,546.7 935.5,547.4 935.6,547.7 936.2,548.8 936.8,549.2 937.4,549.7 938.0,551.8 938.6,549.2 939.2,552.4 939.8,551.3 940.4,552.3 941.0,550.2 941.6,549.1 942.2,550.6 942.8,553.0 943.4,551.0 944.0,549.1 944.6,557.5 945.2,552.3 945.8,547.7 945.8,553.9 946.4,555.1 947.0,550.9 947.6,549.1 948.2,554.0 948.8,553.2 949.4,553.0 950.0,547.1 950.6,553.4 951.2,554.9 951.8,548.2 952.4,550.8 953.0,551.5 953.6,550.8 954.2,548.9 954.8,550.1 955.4,551.9 956.0,548.8 956.6,546.8 957.2,547.3 957.8,547.0 958.4,546.9 959.0,546.0 959.6,549.3 960.2,547.7 960.8,541.3 961.4,544.1 962.0,542.9 962.6,543.6 963.2,544.8 963.8,542.7 963.9,543.8 964.4,542.1 965.0,546.2 965.6,541.4 966.2,542.7 966.8,543.5 967.4,542.6 968.0,539.0 968.6,540.6 969.2,541.5 969.8,537.8 970.4,537.8 971.0,538.5 971.6,537.7 972.2,534.8 972.8,534.7 973.4,534.6 974.0,533.7 974.3,533.8 974.6,533.2 975.2,532.2 975.8,530.7 976.4,529.0 977.0,526.5 977.6,523.8 978.2,519.8 978.8,514.8 979.4,508.7 980.0,501.4 980.6,493.5 981.2,486.1 981.8,480.6 982.4,478.0 982.5,477.9 983.0,479.3 983.6,484.4 984.2,491.5 984.8,499.6 985.4,507.1 986.0,513.8 986.6,519.3 987.2,523.6 987.8,526.9 988.4,529.8 989.0,531.5 989.6,533.0 989.8,533.5 990.2,534.2 990.8,535.2 991.4,535.5 992.0,535.2 992.6,534.6 993.2,535.4 993.8,538.0 994.4,532.9 995.0,535.0 995.0,535.3 995.6,536.4 996.2,536.9 996.8,541.5 997.4,539.9 998.0,540.4 998.6,543.0 999.2,543.1 999.8,543.2 1000.4,542.6 1001.0,545.1 1001.6,545.0 1002.2,546.0 1002.7,549.2 1002.8,544.3 1003.4,543.1 1004.0,543.9 1004.6,544.6 1005.2,545.6 1005.8,547.9 1006.4,546.6 1007.0,542.4 1007.6,547.9 1008.2,547.6 1008.8,547.6 1009.4,549.9 1010.0,546.8 1010.6,547.4 1011.2,546.5 1011.8,551.8 1012.4,548.5 1013.0,549.9 1013.6,550.0 1014.2,554.2 1014.8,550.9 1015.4,551.5 1016.0,551.0 1016.6,551.6 1017.2,552.0 1017.8,552.9 1018.4,555.3 1019.0,550.9 1019.6,549.6 1020.2,553.0 1020.8,554.5 1021.4,556.2 1022.0,549.3 1022.6,550.3 1023.2,551.5 1023.4,551.1 1023.8,552.8 1024.4,552.6 1025.0,550.9 1025.6,550.3 1026.2,547.8 1026.8,546.2 1027.4,547.8 1028.0,546.1 1028.6,548.1 1029.2,546.4 1029.8,545.4 1030.4,543.6 1031.0,544.0 1031.6,541.5 1032.2,540.5 1032.8,536.4 1033.4,538.5 1034.0,539.2 1034.6,537.5 1035.1,537.3 1035.2,538.4 1035.8,538.2 1036.4,537.9 1037.0,539.6 1037.6,539.8 1038.2,542.6 1038.8,544.6 1039.4,544.4 1040.0,545.4 1040.6,547.0 1041.2,547.5 1041.8,549.1 1042.4,547.2 1043.0,546.5 1043.6,549.8 1044.1,545.1 1044.2,549.2 1044.8,547.4 1045.4,547.0 1046.0,550.2 1046.6,548.3 1047.2,547.0 1047.8,547.7 1048.4,549.2 1049.0,544.5 1049.6,551.1 1050.2,552.0 1050.8,550.0 1051.4,549.6 1052.0,551.2 1052.6,548.1 1053.2,548.1 1053.8,553.0 1054.4,549.4 1055.0,550.0 1055.6,547.7 1056.2,550.7 1056.8,549.2 1057.4,550.5 1058.0,547.5 1058.6,547.9 1059.2,549.2 1059.8,546.9 1060.4,553.0 1061.0,547.3 1061.6,548.4 1062.2,549.3 1062.8,543.7 1063.4,545.0 1063.5,549.4 1064.0,545.7 1064.6,543.4 1065.2,547.9 1065.8,549.8 1066.4,548.7 1067.0,545.2 1067.6,547.6 1068.2,547.9 1068.8,548.7 1069.4,544.2 1070.0,548.0 1070.6,548.4 1071.2,545.0 1071.8,547.3 1072.4,545.1 1073.0,551.0 1073.6,545.7 1074.2,549.8 1074.8,551.9 1075.4,551.8 1076.0,548.0 1076.6,548.9 1077.2,548.2 1077.8,547.6 1078.4,551.4 1079.0,550.4 1079.6,549.9 1080.2,551.4 1080.8,551.8 1081.4,549.6 1082.0,553.8 1082.6,553.0 1083.2,552.4 1083.8,552.4 1084.4,552.5 1085.0,552.6 1085.6,551.9 1086.2,552.4 1086.8,547.9 1087.4,550.0 1088.0,551.2 1088.6,552.7 1088.8,550.8 1089.2,551.4 1089.8,549.5 1090.4,548.8 1091.0,554.4 1091.6,553.1 1092.2,556.0 1092.8,553.2 1093.4,552.9 1094.0,551.7 1094.6,548.3 1095.2,554.6 1095.8,552.4 1096.4,552.8 1097.0,553.3 1097.6,547.9 1098.2,554.0 1098.8,553.3 1099.4,551.4 1100.0,548.2 1100.6,555.1 1101.2,549.1 1101.8,555.3 1102.4,547.6 1103.0,555.3 1103.6,553.5 1104.2,553.5 1104.8,555.0 1105.4,552.4 1105.6,552.8 1106.0,553.4 1106.6,552.9 1107.2,552.6 1107.8,551.7 1108.4,551.5 1109.0,549.0 1109.6,547.5 1110.2,546.3 1110.8,544.8 1111.4,542.0 1112.0,541.5 1112.6,540.5 1113.2,541.2 1113.4,539.8 1113.8,541.0 1114.4,539.9 1115.0,540.5 1115.6,542.6 1116.2,542.5 1116.8,545.1 1117.4,545.6 1118.0,548.7 1118.6,550.5 1119.2,550.2 1119.8,549.3 1120.4,550.6 1121.0,553.9 1121.6,553.5 1122.2,555.1 1122.8,554.4 1123.4,557.1 1124.0,558.8 1124.6,556.8 1125.0,557.5 1125.2,557.5 1125.8,557.2 1126.4,558.5 1127.0,556.8 1127.6,560.6 1128.2,557.3 1128.8,560.5 1129.4,555.5 1130.0,557.0 1130.6,554.9 1131.2,557.9 1131.8,556.4 1132.4,555.6 1133.0,556.0 1133.6,557.6 1134.2,557.2 1134.8,557.6 1135.4,552.8 1136.0,560.0 1136.6,558.1 1137.2,555.4 1137.8,557.5 1138.4,558.1 1139.0,555.9 1139.6,555.8 1140.2,555.0 1140.5,555.5 1140.8,554.6 1141.4,553.5 1142.0,552.8 1142.6,550.9 1143.2,547.2 1143.8,545.1 1144.4,543.1 1144.4,543.7 1145.0,543.8 1145.6,544.4 1146.2,543.5 1146.8,544.2 1147.4,545.2 1148.0,544.0 1148.6,544.5 1149.2,548.9 1149.8,543.4 1150.4,549.2 1151.0,544.0 1151.6,547.5 1152.2,548.0 1152.8,543.8 1153.4,545.4 1153.5,546.3 1154.0,547.0 1154.6,547.6 1155.2,544.1 1155.8,543.1 1156.4,546.2 1157.0,541.1 1157.6,542.6 1158.2,541.0 1158.8,538.9 1159.4,539.4 1160.0,539.8 1160.6,539.9 1161.2,539.2 1161.8,537.3 1161.8,535.0 1162.4,536.5 1163.0,539.7 1163.6,538.2 1164.2,541.3 1164.8,540.8 1165.4,543.5 1166.0,543.4 1166.6,545.7 1167.2,545.9 1167.8,546.8 1168.4,547.4 1169.0,550.9 1169.6,550.9 1170.2,551.3 1170.8,552.5 1171.4,549.8 1171.6,553.5 1172.0,553.0 1172.6,551.8 1173.2,551.5 1173.8,553.0 1174.4,553.5 1175.0,552.2 1175.6,553.0 1176.2,554.3 1176.8,553.8 1177.4,554.3 1178.0,554.9 1178.6,557.9 1179.2,557.7 1179.8,551.9 1180.4,551.0 1181.0,557.9 1181.6,560.9 1182.2,553.6 1182.8,555.4 1183.4,555.4 1184.0,556.7 1184.6,558.0 1185.2,555.4 1185.8,557.1 1186.4,555.7 1187.0,557.4 1187.1,556.4 1187.6,556.2 1188.2,556.0 1188.8,554.5 1189.4,554.4 1190.0,552.4 1190.6,551.7 1191.2,550.5 1191.8,547.4 1192.4,546.4 1192.8,546.0 1193.0,543.5 1193.6,547.7 1194.2,549.6 1194.8,552.1 1195.4,551.4 1196.0,554.2 1196.6,557.6 1197.2,557.1 1197.5,556.9 1197.8,556.0 1198.4,556.4 1199.0,555.7 1199.6,558.3 1200.2,556.8 1200.8,554.6 1201.4,562.1 1202.0,556.9 1202.6,555.1 1203.2,557.4 1203.8,555.2 1204.4,553.7 1205.0,556.0 1205.6,556.8 1206.2,559.0 1206.8,551.1 1207.4,555.7 1208.0,554.7 1208.6,554.3 1209.2,547.1 1209.8,553.8 1210.4,553.6 1211.0,559.5 1211.6,556.8 1212.2,554.1 1212.8,555.6 1213.4,555.7 1214.0,550.9 1214.6,549.8 1215.2,555.1 1215.8,553.4 1216.4,555.6 1217.0,552.9 1217.6,555.9 1218.2,551.3 1218.2,558.1 1218.8,553.4 1219.4,555.7 1220.0,554.9 1220.6,553.4 1221.2,551.5 1221.8,548.2 1222.4,552.2 1223.0,551.0 1223.6,551.1 1224.2,553.0 1224.8,549.7 1225.4,551.0 1226.0,551.6 1226.6,550.6 1227.2,549.0 1227.8,551.4 1228.4,548.1 1229.0,549.1 1229.6,548.6 1230.2,548.8 1230.8,547.6 1231.4,547.2 1232.0,544.5 1232.6,546.2 1233.2,550.4 1233.8,546.4 1234.4,544.9 1235.0,546.9 1235.6,546.6 1236.2,546.5 1236.3,548.0 1236.8,545.1 1237.4,546.1 1238.0,546.5 1238.6,547.1 1239.2,548.6 1239.8,546.9 1240.4,549.7 1241.0,553.3 1241.6,552.4 1242.2,552.9 1242.8,554.2 1243.4,555.8 1244.0,554.6 1244.6,554.6 1245.2,556.1 1245.8,554.9 1246.4,559.3 1246.6,556.2 1247.0,559.2 1247.6,558.7 1248.2,555.2 1248.8,558.2 1249.4,554.5 1250.0,560.3 1250.6,558.9 1251.2,557.6 1251.8,556.1 1252.4,562.0 1253.0,555.2 1253.6,557.4 1254.2,559.3 1254.8,559.7 1255.4,556.6 1256.0,560.5 1256.6,559.1 1257.2,558.2 1257.8,559.2 1258.4,558.8 1259.0,554.2 1259.6,557.9 1260.2,556.4 1260.8,554.8 1261.4,557.0 1262.0,556.6 1262.6,559.0 1263.2,558.2 1263.8,554.1 1264.4,557.0 1265.0,555.2 1265.6,558.7 1266.2,560.5 1266.8,559.3 1267.4,556.9 1268.0,560.3 1268.6,557.2 1269.2,557.5 1269.8,556.6 1269.9,558.9 1270.4,558.7 1271.0,558.9 1271.6,562.9 1272.2,562.0 1272.8,558.6 1273.4,563.8 1274.0,562.2 1274.6,558.4 1275.2,559.8 1275.8,560.7 1276.4,560.8 1277.0,560.1 1277.6,558.6 1278.2,559.8 1278.8,559.5 1279.4,559.7 1280.0,559.5 1280.6,558.6 1281.2,558.2 1281.5,557.8 1281.8,557.3 1282.4,556.1 1283.0,552.8 1283.6,549.3 1284.2,545.7 1284.8,541.3 1285.4,536.2 1286.0,530.6 1286.6,524.2 1287.2,518.0 1287.8,511.9 1288.4,506.9 1289.0,504.0 1289.4,503.5 1289.6,503.8 1290.2,505.7 1290.8,509.8 1291.4,514.9 1292.0,521.2 1292.6,527.4 1293.2,533.2 1293.8,538.2 1294.4,542.7 1295.0,546.3 1295.6,549.4 1296.2,551.9 1296.8,554.9 1297.4,556.8 1298.0,557.5 1298.4,558.0 1298.6,558.2 1299.2,559.3 1299.8,559.1 1300.4,560.2 1301.0,560.3 1301.6,561.5 1302.2,561.7 1302.8,560.9 1303.4,558.5 1304.0,561.4 1304.6,559.6 1305.2,559.4 1305.8,558.9 1306.4,561.2 1307.0,559.5 1307.6,562.6 1308.2,561.9 1308.8,560.9 1309.4,562.6 1310.0,559.8 1310.6,561.0 1311.2,560.4 1311.8,559.8 1312.4,562.5 1313.0,559.2 1313.6,561.2 1314.2,561.1 1314.8,562.6 1315.4,563.7 1316.0,564.7 1316.6,559.5 1317.2,559.9 1317.8,558.9 1318.4,561.4 1319.0,561.5 1319.0,562.0 1319.6,559.6 1320.2,559.0 1320.8,557.6 1321.4,558.9 1322.0,561.3 1322.6,562.2 1323.2,568.9 1323.8,559.1 1324.4,561.2 1325.0,563.5 1325.6,560.5 1326.2,562.1 1326.8,558.4 1327.4,561.2 1328.0,558.7 1328.6,556.5 1329.2,557.0 1329.8,559.8 1330.4,560.7 1331.0,557.9 1331.6,557.5 1332.2,556.5 1332.8,554.7 1333.4,561.2 1334.0,556.5 1334.6,554.2 1334.6,555.5 1335.2,559.0 1335.8,556.4 1336.4,555.5 1337.0,554.9 1337.6,557.4 1338.2,557.3 1338.8,561.6 1339.4,558.1 1340.0,560.8 1340.6,562.6 1341.2,556.6 1341.8,557.9 1342.4,561.1 1343.0,560.7 1343.6,558.4 1344.2,560.2 1344.8,555.2 1345.4,560.6 1346.0,561.0 1346.6,558.4 1347.2,558.2 1347.8,558.8 1348.4,559.1 1349.0,559.9 1349.6,557.6 1350.2,558.0 1350.8,560.3 1351.4,559.8 1352.0,560.0 1352.6,560.2 1353.2,559.4 1353.8,560.3 1354.4,555.0 1355.0,560.2 1355.6,561.4 1356.2,559.6 1356.8,560.4 1357.4,558.1 1358.0,561.6 1358.6,555.6 1359.2,559.8 1359.8,560.4 1360.4,557.9 1361.0,565.0 1361.6,556.8 1362.2,556.4 1362.8,560.3 1363.4,559.7 1364.0,555.2 1364.6,562.6 1365.2,558.7 1365.8,562.7 1366.4,555.5 1367.0,559.8 1367.6,562.3 1368.2,558.9 1368.2,559.0 1368.8,558.8 1369.4,558.3 1370.0,560.4 1370.6,561.7 1371.2,559.6 1371.8,558.4 1372.4,559.8 1373.0,555.7 1373.6,560.2 1374.2,557.5 1374.8,561.8 1375.4,563.2 1376.0,559.7 1376.6,559.7 1377.2,564.1 1377.8,563.3 1378.4,561.5 1379.0,560.3 1379.6,563.8 1380.2,561.9 1380.8,559.0 1381.4,559.0 1382.0,557.8 1382.6,560.0 1383.2,559.4 1383.8,562.3 1384.4,560.3 1385.0,558.5 1385.6,562.1 1386.2,561.1 1386.3,563.3 1386.8,560.6 1387.4,557.4 1388.0,559.5 1388.6,563.4 1389.2,558.8 1389.8,560.6 1390.4,557.5 1391.0,560.4 1391.6,557.2 1392.2,559.4 1392.8,559.6 1393.4,559.7 1394.0,559.3 1394.6,561.5 1395.2,556.3 1395.8,558.0 1396.4,558.5 1397.0,562.2 1397.6,558.4 1398.2,561.6 1398.8,559.0 1399.4,558.6 1400.0,556.1 1400.6,557.9 1401.2,554.5 1401.8,560.6 1402.4,558.7 1403.0,559.7 1403.6,555.6 1404.2,559.0 1404.8,559.7 1405.4,558.3 1406.0,557.6 1406.6,557.5 1407.2,554.9 1407.8,557.8 1408.4,558.2 1409.0,556.9 1409.6,561.5 1410.2,560.4 1410.8,559.0 1411.4,562.1 1412.0,560.4 1412.6,559.6 1413.2,560.8 1413.8,557.8 1414.4,562.6 1415.0,557.8 1415.6,560.5 1416.2,561.7 1416.8,561.0 1417.4,558.1 1418.0,558.2 1418.6,561.4 1419.2,557.1 1419.8,558.8 1419.9,558.4 1420.4,558.1 1421.0,557.9 1421.6,557.7 1422.2,557.3 1422.8,556.9 1423.4,556.9 1424.0,555.5 1424.6,554.0 1425.2,550.6 1425.8,548.0 1426.4,544.7 1427.0,540.5 1427.6,536.4 1428.2,532.7 1428.8,529.6 1429.4,528.0 1429.5,528.6 1430.0,529.1 1430.6,531.6 1431.2,535.5 1431.8,539.7 1432.4,544.0 1433.0,547.5 1433.6,550.7 1434.2,554.4 1434.8,556.7 1435.4,556.9 1436.0,557.6 1436.6,558.0 1437.2,558.3 1437.8,558.9 1438.1,559.2 1438.4,559.7 1439.0,559.7 1439.6,558.9 1440.2,558.4 1440.8,560.2 1441.4,559.0 1442.0,558.6 1442.6,560.0 1443.2,557.6 1443.8,557.9 1444.4,561.3 1445.0,559.4 1445.6,559.2 1446.2,560.9 1446.8,558.0 1447.4,554.5 1448.0,555.8 1448.6,556.0 1449.2,554.3 1449.8,557.3 1450.4,556.1 1451.0,556.3 1451.6,556.7 1452.2,553.9 1452.8,554.6 1453.4,553.8 1454.0,552.7 1454.6,551.6 1455.2,554.2 1455.8,552.1 1456.2,552.2 1456.4,551.8 1457.0,557.0 1457.6,551.2 1458.2,554.4 1458.8,552.5 1459.4,554.6 1460.0,554.1 1460.6,558.1 1461.2,553.6 1461.8,557.0 1462.4,559.8 1463.0,559.7 1463.6,557.0 1464.2,558.2 1464.8,557.8 1465.4,555.8 1466.0,559.3 1466.6,559.0 1467.2,555.7 1467.8,559.8 1468.4,557.1 1469.0,557.0 1469.1,559.6 1469.6,562.4 1470.2,560.3 1470.8,559.1 1471.4,559.0 1472.0,562.7 1472.6,556.6 1473.2,556.9 1473.8,555.8 1474.4,559.2 1475.0,561.9 1475.6,554.9 1476.2,556.9 1476.8,556.7 1477.4,558.1 1478.0,559.7 1478.6,560.6 1479.2,560.1 1479.8,557.7 1480.4,560.6 1481.0,562.5 1481.6,558.6 1482.2,561.0 1482.8,561.3 1483.4,560.9 1484.0,561.3 1484.6,560.6 1485.2,558.1 1485.8,560.6 1486.4,559.5 1487.0,562.1 1487.6,560.6 1488.2,563.9 1488.8,559.8 1489.4,561.4 1490.0,558.8 1490.6,559.7 1491.2,558.1 1491.8,561.4 1492.4,560.3 1492.4,564.0 1493.0,559.1 1493.6,564.1 1494.2,559.5 1494.8,558.6 1495.4,559.1 1496.0,557.4 1496.6,560.1 1497.2,556.8 1497.8,562.2 1498.4,561.9 1499.0,558.5 1499.6,562.2 1500.2,559.3 1500.8,557.9 1501.4,563.0 1502.0,564.9 1502.6,559.4 1503.2,558.3 1503.8,562.4 1504.4,561.0 1505.0,561.8 1505.6,558.1 1506.2,561.4 1506.8,560.1 1507.4,560.5 1508.0,557.0 1508.6,558.0 1509.2,561.4 1509.8,560.9 1510.4,560.1 1511.0,560.7 1511.6,557.0 1512.2,559.5 1512.8,556.7 1513.4,554.1 1514.0,560.7 1514.6,559.3 1515.2,557.6 1515.8,560.2 1516.4,560.5 1517.0,559.2 1517.6,560.9 1518.2,562.8 1518.8,559.1 1519.4,556.0 1520.0,557.4 1520.6,557.3 1520.8,556.4 1521.2,559.0 1521.8,558.9 1522.4,558.3 1523.0,557.7 1523.6,556.0 1524.2,553.8 1524.8,552.7 1525.4,550.2 1526.0,549.2 1526.6,547.8 1527.2,546.7 1527.8,546.3 1528.4,543.8 1529.0,543.4 1529.6,542.8 1530.2,542.4 1530.4,544.0 1530.8,542.7 1531.4,542.6 1532.0,542.5 1532.6,543.7 1533.2,544.1 1533.8,546.6 1534.4,545.4 1535.0,547.0 1535.6,549.2 1536.2,552.0 1536.8,554.1 1537.4,554.9 1538.0,555.5 1538.6,556.2 1538.9,556.3 1539.2,556.6 1539.8,557.6 1540.4,558.5 1541.0,557.6 1541.6,556.7 1542.2,556.1 1542.8,556.1 1543.4,554.1 1544.0,554.0 1544.6,555.0 1545.2,553.1 1545.8,558.2 1546.4,560.9 1547.0,561.5 1547.6,560.9 1548.2,556.8 1548.8,558.8 1549.4,557.3 1550.0,552.0 1550.6,555.9 1551.2,556.1 1551.8,555.2 1552.4,556.4 1553.0,558.1 1553.6,560.8 1554.2,559.5 1554.8,556.9 1555.4,558.8 1556.0,558.0 1556.6,558.4 1557.1,556.7 1557.2,559.4 1557.8,557.3 1558.4,563.0 1559.0,556.0 1559.6,558.6 1560.2,563.1 1560.8,558.6 1561.4,557.6 1562.0,563.1 1562.6,557.8 1563.2,561.4 1563.8,559.4 1564.4,559.0 1565.0,561.9 1565.6,557.6 1566.2,560.0 1566.8,562.4 1567.4,561.8 1568.0,558.9 1568.6,558.7 1569.2,561.9 1569.8,559.4 1570.4,561.3 1571.0,561.9 1571.6,557.1 1572.2,562.4 1572.8,560.2 1573.4,561.6 1574.0,560.3 1574.6,560.8 1575.2,563.5 1575.8,563.1 1576.4,562.4 1577.0,559.2 1577.6,556.9 1577.8,561.6 1578.2,562.5 1578.8,557.9 1579.4,557.8 1580.0,558.4 1580.6,559.6 1581.2,559.6 1581.8,561.1 1582.4,563.3 1583.0,563.3 1583.6,560.6 1584.2,559.4 1584.8,559.5 1585.4,560.2 1586.0,559.3 1586.6,560.6 1587.2,562.0 1587.8,560.8 1588.4,561.7 1589.0,560.3 1589.6,559.7 1590.2,560.9 1590.3,559.3 1590.8,560.1 1591.4,560.2 1592.0,560.5 1592.6,559.4 1593.2,559.0 1593.8,558.3 1594.4,557.1 1595.0,554.5 1595.6,551.3 1596.2,548.1 1596.8,544.7 1597.4,541.0 1598.0,536.4 1598.6,533.9 1599.2,532.2 1599.4,531.9 1599.8,532.4 1600.4,535.0 1601.0,537.6 1601.6,541.8 1602.2,545.6 1602.8,548.8 1603.4,551.9 1604.0,555.0 1604.6,556.9 1605.2,558.3 1605.8,558.8 1606.4,559.4 1607.0,559.6 1607.6,559.7 1608.2,560.9 1608.8,560.2 1609.4,560.4 1610.0,562.1 1610.6,561.3 1611.0,558.7 1611.2,560.2 1611.8,561.9 1612.4,559.9 1613.0,557.3 1613.6,558.4 1614.2,561.7 1614.8,563.8 1615.4,559.8 1616.0,566.6 1616.6,563.0 1617.2,560.8 1617.8,565.5 1618.4,564.9 1619.0,561.8 1619.6,565.6 1620.2,563.5 1620.8,562.2 1621.4,560.9 1622.0,565.6 1622.6,564.2 1623.2,564.5 1623.8,563.2 1624.4,561.1 1625.0,564.6 1625.6,563.0 1626.2,563.2 1626.6,561.8 1626.8,566.8 1627.4,564.2 1628.0,562.9 1628.6,561.3 1629.2,562.8 1629.8,562.9 1630.4,561.0 1631.0,560.8 1631.6,561.1 1632.2,563.0 1632.8,564.3 1633.4,564.6 1634.0,559.2 1634.6,562.3 1635.2,561.0 1635.8,557.4 1636.4,561.0 1637.0,562.4 1637.6,560.9 1638.2,557.5 1638.8,556.1 1639.4,558.1 1639.5,554.2 1640.0,558.1 1640.6,556.1 1641.2,556.1 1641.8,556.8 1642.4,558.0 1643.0,554.4 1643.6,561.7 1644.2,560.1 1644.8,560.0 1645.4,562.4 1646.0,563.2 1646.6,564.0 1647.2,564.0 1647.8,561.8 1648.4,565.3 1649.0,561.6 1649.6,560.8 1649.8,560.1 1650.2,559.7 1650.8,561.4 1651.4,560.6 1652.0,561.9 1652.6,561.2 1653.2,561.2 1653.8,563.1 1654.4,563.2 1655.0,560.5 1655.6,561.5 1656.2,563.5 1656.8,560.3 1657.4,562.5 1658.0,563.2 1658.6,567.4 1659.2,563.8 1659.8,562.7 1660.4,559.0 1661.0,562.2 1661.6,562.2 1662.2,562.9 1662.8,561.5 1663.4,560.9 1664.0,562.4 1664.6,561.5 1665.2,562.8 1665.8,560.8 1666.4,560.5 1667.0,562.6 1667.6,561.6 1668.2,562.6 1668.8,560.0 1669.4,562.2 1670.0,561.6 1670.6,563.2 1671.2,561.8 1671.8,561.8 1672.4,562.3 1673.0,561.6 1673.6,562.4 1674.2,562.1 1674.4,562.3 1674.8,562.8 1675.4,561.5 1676.0,560.3 1676.6,557.1 1677.2,553.5 1677.8,551.2 1678.4,548.9 1679.0,546.9 1679.6,546.2 1679.6,546.0 1680.2,547.1 1680.8,547.1 1681.4,547.7 1682.0,548.3 1682.6,550.3 1683.2,552.0 1683.8,552.0 1684.4,553.2 1685.0,553.3 1685.6,556.7 1686.2,559.5 1686.8,559.0 1687.4,560.5 1688.0,559.9 1688.6,559.7 1688.7,562.0 1689.2,560.2 1689.8,559.9 1690.4,560.4 1691.0,562.1 1691.6,559.0 1692.2,559.1 1692.8,560.0 1693.4,560.0 1694.0,562.4 1694.6,558.9 1695.2,559.3 1695.8,559.5 1696.4,565.7 1697.0,561.6 1697.6,558.0 1698.2,559.0 1698.8,559.0 1699.4,562.1 1700.0,560.5 1700.6,563.9 1701.2,558.5 1701.8,561.0 1702.4,563.7 1703.0,564.7 1703.6,562.3 1704.2,566.5 1704.8,563.8 1705.4,562.5 1706.0,557.6 1706.6,563.3 1707.2,561.6 1707.8,561.6 1708.4,562.9 1709.0,561.7 1709.6,561.0 1710.2,563.0 1710.8,561.6 1711.4,562.7 1712.0,558.7 1712.6,563.6 1713.2,561.5 1713.8,564.0 1714.4,563.3 1715.0,562.3 1715.6,563.7 1716.2,562.8 1716.8,561.8 1717.4,563.4 1718.0,563.1 1718.6,564.3 1719.2,561.5 1719.8,562.7 1720.4,564.0 1721.0,561.3 1721.6,563.5 1722.2,564.1 1722.8,564.5 1723.4,564.5 1724.0,565.4 1724.6,563.2 1725.2,560.6 1725.8,558.5 1726.4,561.4 1727.0,564.2 1727.6,561.5 1728.2,560.2 1728.8,562.0 1729.4,561.5 1730.0,564.9 1730.6,562.2 1731.2,566.0 1731.8,560.7 1732.4,563.1 1732.6,562.5 1733.0,561.3 1733.6,563.0 1734.2,562.4 1734.8,561.8 1735.4,562.7 1736.0,564.4 1736.6,563.6 1737.2,562.3 1737.8,561.0 1738.4,562.7 1739.0,560.7 1739.6,562.7 1740.2,560.8 1740.8,558.2 1741.4,561.4 1742.0,557.7 1742.6,563.1 1743.2,561.2 1743.8,560.4 1744.4,556.9 1745.0,561.1 1745.6,557.8 1746.2,555.8 1746.8,555.0 1747.4,560.4 1748.0,558.6 1748.2,556.5 1748.6,559.0 1749.2,557.5 1749.8,556.0 1750.4,560.2 1751.0,560.3 1751.6,555.9 1752.2,560.4 1752.8,560.5 1753.4,561.5 1754.0,562.1 1754.6,559.0 1755.2,561.9 1755.8,561.2 1756.4,561.9 1757.0,563.8 1757.6,563.0 1758.2,563.4 1758.8,560.9 1759.4,565.9 1760.0,561.7 1760.6,564.1 1761.1,561.8 1761.2,563.2 1761.8,562.1 1762.4,562.3 1763.0,564.5 1763.6,564.7 1764.2,562.2 1764.8,563.4 1765.4,562.4 1766.0,562.6 1766.6,561.4 1767.2,561.9 1767.8,563.6 1768.4,562.5 1769.0,561.6 1769.6,564.3 1770.2,561.6 1770.8,565.3 1771.4,561.6 1771.4,565.9 1772.0,565.6 1772.6,563.5 1773.2,564.6 1773.8,560.9 1774.4,563.9 1775.0,564.3 1775.6,562.6 1776.2,563.0 1776.8,560.8 1777.4,560.5 1778.0,564.6 1778.6,559.6 1779.2,561.9 1779.8,561.5 1780.4,564.4 1781.0,561.2 1781.6,561.0 1782.2,564.3 1782.8,561.7 1783.4,566.4 1784.0,561.6 1784.6,565.1 1785.2,560.2 1785.8,562.4 1786.4,562.9 1787.0,562.2 1787.6,565.9 1788.2,563.5 1788.8,561.4 1789.4,564.0 1790.0,561.9 1790.6,565.0 1791.2,561.2 1791.8,564.7 1792.4,563.3 1793.0,564.3 1793.6,565.0 1794.2,569.2 1794.8,562.8 1795.4,566.4 1796.0,565.9 1796.6,565.3 1797.2,567.6 1797.8,566.4 1798.4,566.7 1799.0,564.7 1799.6,566.3 1799.9,566.0 1800.2,561.4 1800.8,562.9 1801.4,566.9 1802.0,567.7 1802.6,567.7 1803.2,565.2 1803.8,567.1 1804.4,562.5 1805.0,561.7 1805.6,566.7 1806.2,564.9 1806.8,567.6 1807.4,565.8 1808.0,563.4 1808.6,563.8 1809.2,566.8 1809.8,566.3 1810.4,564.5 1811.0,567.0 1811.6,562.9 1812.2,568.0 1812.8,566.3 1813.4,563.1 1814.0,565.3 1814.6,561.6 1815.2,562.8 1815.8,560.9 1816.4,566.6 1817.0,564.9 1817.6,564.5 1818.2,568.9 1818.8,566.8 1819.4,566.3 1820.0,565.0 1820.6,562.3 1821.2,565.5 1821.8,562.4 1822.4,565.6 1823.0,566.0 1823.6,564.2 1824.2,562.5 1824.8,565.4 1825.4,563.4 1826.0,562.4 1826.6,566.4 1827.2,565.5 1827.8,566.1 1828.4,562.6 1829.0,565.1 1829.6,561.2 1830.2,565.7 1830.8,563.8 1831.4,561.4 1832.0,566.1 1832.6,565.1 1833.2,563.8 1833.8,561.5 1834.4,562.2 1835.0,566.1 1835.6,562.5 1836.2,562.8 1836.8,562.4 1837.4,567.7 1838.0,565.7 1838.6,563.6 1838.7,563.1 1839.2,564.1 1839.8,564.7 1840.4,565.8 1841.0,562.4 1841.6,563.4 1842.2,564.5 1842.8,564.4 1843.4,563.6 1844.0,563.9 1844.6,564.9 1845.2,562.1 1845.8,564.0 1846.4,563.0 1847.0,566.6 1847.6,565.1 1848.2,564.5 1848.8,563.2 1849.4,558.5 1850.0,565.6 1850.6,563.7 1851.2,562.8 1851.8,563.8 1852.4,562.6 1853.0,563.4 1853.6,566.6 1854.2,566.7 1854.8,563.3 1855.4,564.2 1856.0,564.6 1856.6,563.8 1857.2,564.7 1857.8,564.1 1858.4,565.6 1859.0,559.6 1859.4,564.5 1859.6,564.0 1860.2,561.1 1860.8,563.2 1861.4,564.2 1862.0,562.2 1862.6,562.7 1863.2,564.4 1863.8,560.7 1864.4,562.9 1865.0,565.5 1865.6,561.6 1866.2,563.3 1866.8,565.7 1867.4,562.8 1868.0,563.4 1868.6,564.6 1869.2,565.4 1869.8,559.5 1870.4,562.9 1871.0,563.5 1871.6,565.2 1872.2,567.6 1872.8,562.1 1873.4,563.8 1874.0,565.2 1874.6,567.5 1875.2,568.0 1875.8,565.7 1876.4,565.9 1877.0,564.9 1877.6,566.1 1878.2,568.0 1878.8,562.7 1879.4,566.3 1880.0,569.1 1880.6,565.4 1881.2,570.6 1881.8,566.5 1882.4,566.1 1883.0,565.7 1883.6,566.2 1884.2,564.5 1884.8,565.7 1885.4,564.7 1886.0,563.8 1886.6,565.4 1887.2,565.4 1887.8,564.8 1888.4,567.8 1889.0,563.9 1889.6,567.7 1890.2,565.6 1890.4,566.7 1890.8,567.7 1891.4,566.3 1892.0,566.9 1892.6,566.1 1893.2,566.7 1893.8,568.3 1894.4,566.2 1895.0,565.6 1895.6,568.2 1896.2,566.3 1896.8,564.4 1897.4,566.7 1898.0,565.3 1898.6,568.9 1899.2,566.6 1899.8,568.9 1900.4,568.9 1901.0,567.3 1901.6,567.1 1902.2,565.4 1902.8,570.3 1903.4,569.8 1904.0,566.5 1904.6,565.4 1905.2,567.7 1905.8,566.4 1906.4,571.3 1907.0,566.8 1907.6,566.8 1908.2,570.0 1908.8,565.9 1909.4,570.2 1910.0,570.4 1910.6,566.4 1911.2,568.0 1911.8,565.5 1912.4,567.7 1913.0,568.8 1913.6,567.3 1914.2,570.1 1914.8,565.4 1915.4,566.6 1916.0,565.6 1916.6,566.3 1917.2,570.6 1917.8,565.4 1918.4,570.4 1919.0,567.8 1919.6,567.4 1920.2,567.7 1920.8,567.4 1921.4,566.0 1922.0,565.8 1922.6,564.5 1923.2,567.3 1923.8,566.4 1924.4,566.8 1925.0,562.5 1925.6,567.2 1926.2,568.5 1926.8,567.9 1927.4,566.8 1928.0,566.4 1928.6,566.2 1929.2,563.3 1929.8,568.2 1930.4,567.4 1931.0,569.2 1931.6,566.3 1932.2,571.4 1932.8,569.2 1933.4,571.5 1934.0,568.2 1934.6,569.0 1935.2,568.0 1935.8,569.7 1936.4,568.3 1937.0,568.5 1937.6,568.6 1938.2,564.9 1938.8,570.9 1939.4,567.8 1940.0,569.1 1940.6,565.7 1941.2,571.4 1941.8,569.5 1942.2,568.8 1942.4,568.4 1943.0,567.4 1943.6,571.4 1944.2,566.0 1944.8,569.9 1945.4,572.1 1946.0,565.4 1946.6,572.7 1947.2,567.9 1947.8,569.4 1948.4,570.0 1949.0,570.4 1949.6,564.4 1950.2,573.8 1950.8,572.1 1951.4,567.7 1952.0,565.8 1952.6,567.2 1953.2,569.7 1953.8,570.7 1954.4,568.9 1955.0,570.8 1955.6,568.0 1956.2,564.9 1956.8,573.4 1957.4,567.3 1958.0,571.8 1958.6,567.6 1959.2,569.5 1959.8,567.2 1960.4,569.0 1961.0,566.8 1961.6,569.7 1962.2,566.8 1962.8,566.7 1963.4,569.4 1964.0,567.0 1964.6,570.0 1965.2,567.8 1965.8,565.9 1966.4,570.2 1967.0,569.7 1967.6,568.1 1968.2,568.5 1968.8,567.9 1969.4,568.2 1970.0,566.9 1970.6,568.9 1971.2,562.9 1971.8,567.1 1972.4,564.1 1973.0,565.7 1973.6,566.7 1974.2,568.2 1974.8,565.8 1975.4,567.1 1976.0,564.7 1976.6,565.1 1977.2,568.2 1977.8,565.9 1978.4,566.2 1979.0,567.5 1979.6,568.6 1980.2,566.8 1980.8,566.2 1981.4,565.3 1982.0,566.9 1982.6,570.0 1983.2,571.0 1983.8,566.8 1984.4,567.0 1985.0,570.6 1985.6,568.4 1986.2,569.7 1986.8,566.0 1987.4,565.6 1988.0,565.8 1988.6,565.3 1989.2,570.7 1989.8,566.4 1990.4,568.9 1991.0,567.7 1991.6,566.5 1992.2,563.6 1992.8,567.2 1993.4,564.6 1993.9,566.3 1994.0,566.3 1994.6,565.5 1995.2,566.7 1995.8,566.6 1996.4,564.2 1997.0,565.9 1997.6,566.7 1998.2,568.5 1998.8,566.3 1999.4,568.2 2000.0,566.1 2000.6,566.6 2001.2,564.6 2001.8,566.4 2002.4,566.4 2003.0,565.5 2003.6,568.9 2004.2,565.6 2004.8,568.1 2005.4,570.2 2006.0,566.7 2006.6,567.7 2007.2,562.1 2007.8,566.7 2008.4,566.1 2009.0,567.0 2009.6,566.7 2010.2,565.8 2010.8,563.7 2011.4,567.5 2012.0,568.1 2012.6,562.6 2013.2,565.7 2013.8,568.6 2014.4,565.3 2015.0,568.7 2015.6,568.2 2016.2,565.6 2016.8,565.2 2017.4,567.0 2018.0,567.6 2018.6,568.4 2019.2,566.9 2019.8,565.2 2020.4,570.7 2021.0,567.4 2021.6,568.1 2022.2,564.9 2022.8,563.8 2023.4,567.4 2024.0,568.9 2024.6,567.6 2025.2,567.4 2025.8,566.8 2026.4,566.6 2027.0,565.6 2027.6,566.9 2028.2,563.5 2028.8,567.6 2029.4,567.1 2030.0,568.4 2030.6,564.6 2031.2,564.7 2031.8,563.8 2032.4,564.8 2033.0,568.7 2033.6,564.2 2034.2,570.5 2034.8,566.1 2035.4,564.9 2036.0,566.1 2036.6,565.8 2037.2,566.6 2037.8,568.3 2038.4,566.7 2039.0,568.4 2039.6,569.4 2040.2,569.6 2040.8,568.5 2041.4,569.0 2042.0,571.3 2042.6,567.1 2043.2,569.3 2043.8,569.3 2044.4,564.5 2045.0,565.8 2045.6,568.9 2045.7,566.9 2046.2,565.8 2046.8,568.5 2047.4,570.3 2048.0,564.0 2048.6,567.3 2049.2,566.3 2049.8,566.6 2050.4,569.4 2051.0,566.1 2051.6,568.5 2052.2,567.5 2052.8,568.0 2053.4,568.7 2054.0,567.5 2054.6,566.6 2055.2,568.8 2055.8,568.6 2056.4,569.7 2057.0,569.4 2057.6,566.9 2058.2,568.3 2058.8,569.1 2059.4,568.5 2060.0,568.8 2060.6,566.8 2061.2,570.2 2061.8,571.7 2062.4,566.3 2063.0,567.0 2063.6,567.1 2064.2,568.6 2064.8,567.6 2065.4,566.0 2066.0,567.9 2066.6,566.3 2067.2,568.5 2067.8,571.2 2068.4,567.3 2069.0,566.3 2069.6,568.9 2070.2,566.8 2070.8,566.1 2071.4,567.5 2072.0,571.1 2072.6,568.0 2073.2,565.2 2073.8,567.4 2074.4,568.9 2075.0,568.7 2075.6,568.6 2076.2,569.0 2076.8,568.5 2077.4,565.9 2078.0,566.8 2078.6,563.7 2079.2,568.5 2079.8,566.9 2080.4,568.0 2081.0,567.7 2081.6,568.5 2082.2,569.7 2082.8,571.5 2083.4,567.2 2084.0,564.2 2084.6,567.0 2085.2,569.6 2085.8,566.6 2086.4,567.8 2087.0,567.0 2087.6,568.6 2088.2,569.6 2088.8,564.1 2089.4,571.6 2090.0,568.4 2090.6,568.3 2091.2,568.6 2091.8,569.6 2092.4,569.7 2093.0,570.6 2093.6,566.4 2094.2,568.5 2094.8,568.7 2095.4,564.6 2096.0,567.6 2096.6,566.1 2097.2,568.0 2097.4,567.4 2097.8,568.2 2098.4,566.2 2099.0,565.7 2099.6,565.6 2100.2,567.2 2100.8,566.1 2101.4,565.8 2102.0,568.5 2102.6,565.9 2103.2,569.2 2103.8,569.0 2104.4,567.6 2105.0,567.3 2105.6,570.7 2106.2,568.4 2106.8,571.1 2107.4,570.7 2108.0,569.4 2108.6,569.5 2109.2,568.1 2109.8,566.1 2110.4,566.2 2111.0,568.0 2111.6,566.1 2112.2,568.3 2112.8,567.9 2113.4,568.0 2114.0,569.1 2114.6,569.2 2115.2,568.9 2115.8,568.2 2116.4,571.6 2117.0,567.5 2117.0,571.3" fill="none" stroke="#00ab66" stroke-width="6.3" stroke-linejoin="round" stroke-linecap="butt" shape-rendering="crispEdges"/>
</g>
<defs><filter id="crisp" filterUnits="userSpaceOnUse" x="0" y="0" width="2179" height="1779" color-interpolation-filters="sRGB"><feComponentTransfer><feFuncA type="discrete" tableValues="0 1"/></feComponentTransfer></filter></defs>
<g id="labels" font-family="'Liberation Serif', serif" fill="#000" filter="url(#crisp)" style="font-kerning:none;font-variant-ligatures:none">
<g id="xticks" font-size="95.5" text-anchor="middle">
<text x="63.90" y="1646">10</text>
<text x="357.04" y="1646">20</text>
<text x="650.19" y="1646">30</text>
<text x="943.33" y="1646">40</text>
<text x="1236.47" y="1646">50</text>
<text x="1529.61" y="1646">60</text>
<text x="1822.76" y="1646">70</text>
<text x="2115.90" y="1646">80</text>
</g>
<text id="xtitle"><tspan x="960.38" y="1734.70" font-size="95.91" textLength="51.39" lengthAdjust="spacingAndGlyphs">2</tspan><tspan x="1009.38" y="1735.19" font-size="93.23" textLength="56.43" lengthAdjust="spacingAndGlyphs">θ</tspan> <tspan x="1093.05" y="1735.66" font-size="94.62" textLength="28.40" lengthAdjust="spacingAndGlyphs">(</tspan><tspan x="1122.55" y="1732.09" font-size="92.01" textLength="37.19" lengthAdjust="spacingAndGlyphs">°</tspan><tspan x="1159.58" y="1735.66" font-size="94.62" textLength="28.14" lengthAdjust="spacingAndGlyphs">)</tspan></text>
<text id="legend"><tspan x="146.06" y="147.00" font-size="63.14" font-family="'DejaVu Sans', sans-serif" textLength="63.91" lengthAdjust="spacingAndGlyphs">♣</tspan><tspan x="210.72" y="144.60" font-size="83.00" textLength="295.44" lengthAdjust="spacingAndGlyphs">-Ca(OH)</tspan><tspan x="503.97" y="167.60" font-size="57.50" textLength="29.93" lengthAdjust="spacingAndGlyphs">2</tspan> <tspan x="557.56" y="147.50" font-size="63.83" font-family="'DejaVu Sans', sans-serif" textLength="54.84" lengthAdjust="spacingAndGlyphs">♥</tspan><tspan x="614.59" y="144.60" font-size="83.00" textLength="172.14" lengthAdjust="spacingAndGlyphs">-FeO</tspan> <tspan x="803.59" y="147.50" font-size="65.89" font-family="'DejaVu Sans', sans-serif" textLength="60.88" lengthAdjust="spacingAndGlyphs">♦</tspan><tspan x="865.66" y="144.60" font-size="83.00" textLength="84.50" lengthAdjust="spacingAndGlyphs">-C</tspan><tspan x="948.59" y="167.60" font-size="57.50" textLength="26.27" lengthAdjust="spacingAndGlyphs">3</tspan><tspan x="977.90" y="144.60" font-size="83.00" textLength="47.38" lengthAdjust="spacingAndGlyphs">S</tspan> <tspan x="1038.83" y="158.79" font-size="106.60" textLength="37.84" lengthAdjust="spacingAndGlyphs">•</tspan><tspan x="1073.68" y="144.60" font-size="83.00" textLength="83.95" lengthAdjust="spacingAndGlyphs">-C</tspan><tspan x="1155.90" y="167.60" font-size="57.50" textLength="29.56" lengthAdjust="spacingAndGlyphs">2</tspan><tspan x="1185.24" y="144.60" font-size="83.00" textLength="47.90" lengthAdjust="spacingAndGlyphs">S</tspan> <tspan x="1248.32" y="147.00" font-size="65.20" font-family="'DejaVu Sans', sans-serif" textLength="66.40" lengthAdjust="spacingAndGlyphs">♠</tspan><tspan x="1312.38" y="144.60" font-size="83.00" textLength="238.07" lengthAdjust="spacingAndGlyphs">-CaCO</tspan><tspan x="1547.67" y="167.60" font-size="57.50" textLength="26.39" lengthAdjust="spacingAndGlyphs">3</tspan> <tspan x="1591.65" y="144.60" font-size="75.45" font-family="'DejaVu Serif', serif" textLength="52.23" lengthAdjust="spacingAndGlyphs">Δ</tspan><tspan x="1641.70" y="144.60" font-size="83.00" textLength="245.95" lengthAdjust="spacingAndGlyphs">-C-S-H</tspan></text>
<g id="markers">
<text><tspan x="292.03" y="477.00" font-size="77.28" font-family="'DejaVu Sans', sans-serif" textLength="77.09" lengthAdjust="spacingAndGlyphs">♣</tspan></text>
<text><tspan x="513.99" y="475.00" font-size="77.14" font-family="'DejaVu Sans', sans-serif" textLength="64.69" lengthAdjust="spacingAndGlyphs">♥</tspan></text>
<text><tspan x="613.40" y="361.00" font-size="69.96" font-family="'DejaVu Serif', serif" textLength="49.30" lengthAdjust="spacingAndGlyphs">Δ</tspan></text>
<text><tspan x="644.08" y="500.60" font-size="78.65" font-family="'DejaVu Sans', sans-serif" textLength="73.22" lengthAdjust="spacingAndGlyphs">♦</tspan></text>
<text><tspan x="690.55" y="325.84" font-size="84.38" textLength="51.11" lengthAdjust="spacingAndGlyphs">●</tspan></text>
<text><tspan x="739.93" y="401.50" font-size="77.01" font-family="'DejaVu Sans', sans-serif" textLength="77.09" lengthAdjust="spacingAndGlyphs">♣</tspan></text>
<text><tspan x="1246.89" y="509.70" font-size="79.20" font-family="'DejaVu Sans', sans-serif" textLength="79.06" lengthAdjust="spacingAndGlyphs">♠</tspan></text>
</g>
<g id="series-labels">
<text><tspan x="1120.83" y="423.90" font-size="82.10" textLength="145.38" lengthAdjust="spacingAndGlyphs">10%</tspan> <tspan x="1282.77" y="423.90" font-size="82.10" textLength="168.21" lengthAdjust="spacingAndGlyphs">Steel</tspan> <tspan x="1470.11" y="423.90" font-size="82.10" textLength="203.36" lengthAdjust="spacingAndGlyphs">scoria</tspan> <tspan x="1692.70" y="423.90" font-size="82.10" textLength="164.20" lengthAdjust="spacingAndGlyphs">0.2%</tspan> <tspan x="1876.19" y="423.90" font-size="82.10" textLength="183.85" lengthAdjust="spacingAndGlyphs">NaCl</tspan></text>
<text><tspan x="1117.81" y="659.05" font-size="82.10" textLength="145.40" lengthAdjust="spacingAndGlyphs">20%</tspan> <tspan x="1279.77" y="659.05" font-size="82.10" textLength="168.21" lengthAdjust="spacingAndGlyphs">Steel</tspan> <tspan x="1467.11" y="659.05" font-size="82.10" textLength="203.36" lengthAdjust="spacingAndGlyphs">scoria</tspan> <tspan x="1689.70" y="659.05" font-size="82.10" textLength="164.20" lengthAdjust="spacingAndGlyphs">0.1%</tspan> <tspan x="1873.19" y="659.05" font-size="82.10" textLength="183.85" lengthAdjust="spacingAndGlyphs">NaCl</tspan></text>
<text><tspan x="1120.83" y="868.00" font-size="82.10" textLength="145.38" lengthAdjust="spacingAndGlyphs">10%</tspan> <tspan x="1282.77" y="868.00" font-size="82.10" textLength="168.21" lengthAdjust="spacingAndGlyphs">Steel</tspan> <tspan x="1470.11" y="868.00" font-size="82.10" textLength="203.36" lengthAdjust="spacingAndGlyphs">scoria</tspan> <tspan x="1692.70" y="868.00" font-size="82.10" textLength="164.20" lengthAdjust="spacingAndGlyphs">0.1%</tspan> <tspan x="1876.19" y="868.00" font-size="82.10" textLength="183.85" lengthAdjust="spacingAndGlyphs">NaCl</tspan></text>
<text><tspan x="1078.10" y="1363.00" font-size="82.10" textLength="107.87" lengthAdjust="spacingAndGlyphs">5%</tspan> <tspan x="1202.77" y="1363.00" font-size="82.10" textLength="168.21" lengthAdjust="spacingAndGlyphs">Steel</tspan> <tspan x="1390.11" y="1363.00" font-size="82.10" textLength="203.36" lengthAdjust="spacingAndGlyphs">scoria</tspan> <tspan x="1612.70" y="1363.00" font-size="82.10" textLength="164.20" lengthAdjust="spacingAndGlyphs">0.1%</tspan> <tspan x="1796.19" y="1363.00" font-size="82.10" textLength="183.85" lengthAdjust="spacingAndGlyphs">NaCl</tspan></text>
</g>
</g>
</svg>
</body>
</html>
